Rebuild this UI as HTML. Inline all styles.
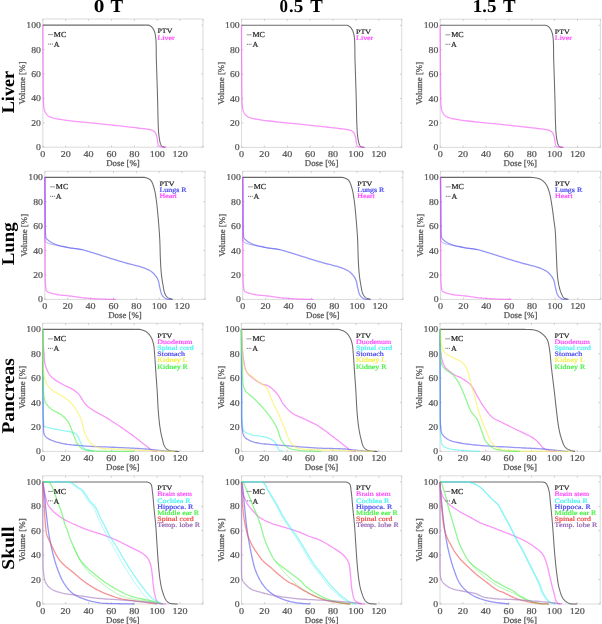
<!DOCTYPE html><html><head><meta charset="utf-8"><style>html,body{margin:0;padding:0;background:#fff;overflow:hidden}svg{display:block;will-change:transform;text-rendering:geometricPrecision}</style></head><body>
<svg width="602" height="624" viewBox="0 0 602 624">
<rect width="602" height="624" fill="#fff"/>
<g font-family='"Liberation Serif", serif'><text transform="translate(99.00 11.80) scale(1.169 1.000)" text-anchor="middle" font-size="18.30" fill="#000" font-weight="bold">0</text><text transform="translate(116.85 11.80) scale(1.033 1.000)" text-anchor="middle" font-size="18.30" fill="#000" font-weight="bold">T</text><text transform="translate(283.70 11.80) scale(0.930 1.000)" text-anchor="middle" font-size="18.30" fill="#000" font-weight="bold">0</text><text transform="translate(291.35 11.80)" text-anchor="middle" font-size="18.30" fill="#000" font-weight="bold">.</text><text transform="translate(298.65 11.80) scale(1.049 1.000)" text-anchor="middle" font-size="18.30" fill="#000" font-weight="bold">5</text><text transform="translate(316.50 11.80) scale(1.025 1.000)" text-anchor="middle" font-size="18.30" fill="#000" font-weight="bold">T</text><text transform="translate(477.45 11.80) scale(1.087 1.000)" text-anchor="middle" font-size="18.30" fill="#000" font-weight="bold">1</text><text transform="translate(484.55 11.80)" text-anchor="middle" font-size="18.30" fill="#000" font-weight="bold">.</text><text transform="translate(491.80 11.80) scale(1.036 1.000)" text-anchor="middle" font-size="18.30" fill="#000" font-weight="bold">5</text><text transform="translate(509.25 11.80) scale(1.033 1.000)" text-anchor="middle" font-size="18.30" fill="#000" font-weight="bold">T</text><text transform="translate(13.60 92.05) rotate(-90) scale(1.012 1.000)" text-anchor="middle" font-size="18.00" fill="#000" font-weight="bold">Liver</text><text transform="translate(13.60 243.85) rotate(-90) scale(1.046 1.000)" text-anchor="middle" font-size="18.00" fill="#000" font-weight="bold">Lung</text><text transform="translate(13.60 395.85) rotate(-90) scale(1.082 1.000)" text-anchor="middle" font-size="18.00" fill="#000" font-weight="bold">Pancreas</text><text transform="translate(13.60 548.00) rotate(-90) scale(1.085 1.000)" text-anchor="middle" font-size="18.00" fill="#000" font-weight="bold">Skull</text></g>
<rect x="42.85" y="19.00" width="160.20" height="128.20" fill="none" stroke="#dedede" stroke-width="1.1"/>
<path d="M42.85 147.20 V145.40 M42.85 19.00 V20.80 M65.74 147.20 V145.40 M65.74 19.00 V20.80 M88.62 147.20 V145.40 M88.62 19.00 V20.80 M111.51 147.20 V145.40 M111.51 19.00 V20.80 M134.39 147.20 V145.40 M134.39 19.00 V20.80 M157.28 147.20 V145.40 M157.28 19.00 V20.80 M180.16 147.20 V145.40 M180.16 19.00 V20.80 M203.05 147.20 V145.40 M203.05 19.00 V20.80 M42.85 147.20 H44.65 M203.05 147.20 H201.25 M42.85 122.78 H44.65 M203.05 122.78 H201.25 M42.85 98.36 H44.65 M203.05 98.36 H201.25 M42.85 73.94 H44.65 M203.05 73.94 H201.25 M42.85 49.52 H44.65 M203.05 49.52 H201.25 M42.85 25.10 H44.65 M203.05 25.10 H201.25" stroke="#c8c8c8" stroke-width="0.9" fill="none"/>
<path d="M42.85 25.10 L53.48 25.10 L64.97 25.10 L76.96 25.10 L89.07 25.10 L100.94 25.10 L112.19 25.10 L122.44 25.10 L131.34 25.10 L138.49 25.10 L143.55 25.10 L144.41 25.11 L145.17 25.10 L145.84 25.10 L146.44 25.10 L146.97 25.10 L147.46 25.10 L147.92 25.10 L148.36 25.10 L148.81 25.20 L149.27 25.35 L149.68 25.52 L150.07 25.72 L150.45 25.94 L150.81 26.19 L151.15 26.47 L151.49 26.76 L151.81 27.08 L152.12 27.42 L152.41 27.78 L152.70 28.16 L153.05 28.66 L153.38 29.20 L153.68 29.76 L153.96 30.36 L154.23 31.00 L154.48 31.67 L154.71 32.40 L154.93 33.17 L155.14 33.99 L155.33 34.87 L155.65 36.79 L155.88 39.05 L156.03 41.58 L156.14 44.30 L156.20 47.15 L156.23 50.03 L156.25 52.89 L156.27 55.64 L156.30 58.20 L156.36 60.51 L156.42 62.01 L156.47 63.40 L156.52 64.72 L156.56 65.98 L156.60 67.22 L156.64 68.46 L156.68 69.72 L156.73 71.04 L156.77 72.44 L156.82 73.94 L156.89 76.21 L156.97 78.64 L157.05 81.18 L157.14 83.83 L157.22 86.54 L157.31 89.29 L157.39 92.05 L157.47 94.78 L157.55 97.47 L157.62 100.07 L157.68 102.54 L157.74 105.06 L157.79 107.59 L157.83 110.11 L157.88 112.62 L157.93 115.07 L157.98 117.46 L158.04 119.76 L158.11 121.95 L158.19 124.00 L158.25 125.37 L158.31 126.69 L158.36 127.95 L158.41 129.17 L158.47 130.35 L158.54 131.51 L158.62 132.64 L158.72 133.76 L158.85 134.86 L159.00 135.97 L159.14 136.96 L159.29 137.98 L159.44 139.00 L159.61 140.02 L159.79 141.02 L159.99 141.97 L160.21 142.86 L160.46 143.67 L160.74 144.39 L161.05 145.00 L161.25 145.30 L161.46 145.57 L161.68 145.82 L161.91 146.04 L162.14 146.24 L162.38 146.42 L162.62 146.58 L162.86 146.72 L163.11 146.84 L163.34 146.96 L163.53 147.03 L163.73 147.08 L163.92 147.12 L164.12 147.14 L164.31 147.15 L164.51 147.16 L164.70 147.16 L164.90 147.17 L165.09 147.18 L165.29 147.20" fill="none" stroke="#383838" stroke-width="1.05" stroke-linejoin="round" stroke-opacity="0.75"/>
<path d="M42.85 25.10 L42.87 30.06 L42.89 35.14 L42.91 40.28 L42.93 45.44 L42.95 50.57 L42.97 55.61 L43.00 60.52 L43.02 65.25 L43.05 69.74 L43.08 73.94 L43.10 76.77 L43.12 79.54 L43.13 82.23 L43.14 84.84 L43.16 87.36 L43.18 89.79 L43.21 92.11 L43.25 94.32 L43.30 96.40 L43.36 98.36 L43.41 99.54 L43.44 100.66 L43.48 101.75 L43.51 102.78 L43.55 103.78 L43.61 104.73 L43.67 105.64 L43.76 106.51 L43.86 107.34 L43.99 108.13 L44.09 108.64 L44.20 109.12 L44.31 109.58 L44.42 110.02 L44.55 110.44 L44.68 110.85 L44.83 111.25 L44.99 111.64 L45.17 112.02 L45.37 112.40 L45.57 112.77 L45.79 113.14 L46.02 113.50 L46.27 113.85 L46.53 114.19 L46.80 114.52 L47.08 114.84 L47.37 115.14 L47.68 115.43 L48.00 115.70 L48.34 115.96 L48.68 116.19 L49.03 116.41 L49.39 116.61 L49.77 116.80 L50.17 116.97 L50.59 117.15 L51.03 117.31 L51.50 117.48 L52.00 117.65 L52.86 117.92 L53.76 118.16 L54.71 118.39 L55.73 118.61 L56.80 118.81 L57.95 119.01 L59.17 119.21 L60.47 119.42 L61.86 119.63 L63.33 119.85 L66.75 120.32 L70.78 120.82 L75.29 121.32 L80.16 121.84 L85.26 122.36 L90.48 122.88 L95.67 123.39 L100.73 123.90 L105.51 124.39 L109.91 124.86 L113.27 125.23 L116.65 125.60 L120.00 125.97 L123.30 126.34 L126.51 126.70 L129.61 127.05 L132.55 127.38 L135.30 127.70 L137.83 128.00 L140.11 128.28 L141.26 128.41 L142.35 128.54 L143.38 128.65 L144.36 128.76 L145.28 128.87 L146.16 128.97 L146.99 129.09 L147.79 129.21 L148.54 129.34 L149.27 129.50 L149.72 129.60 L150.16 129.70 L150.57 129.80 L150.96 129.90 L151.34 130.00 L151.71 130.11 L152.06 130.24 L152.39 130.38 L152.72 130.54 L153.04 130.72 L153.33 130.90 L153.61 131.09 L153.87 131.29 L154.13 131.50 L154.37 131.72 L154.61 131.96 L154.83 132.20 L155.05 132.47 L155.25 132.74 L155.45 133.04 L155.67 133.42 L155.87 133.83 L156.06 134.27 L156.23 134.73 L156.39 135.20 L156.54 135.69 L156.67 136.19 L156.80 136.69 L156.93 137.19 L157.05 137.68 L157.16 138.20 L157.26 138.75 L157.33 139.31 L157.40 139.87 L157.46 140.44 L157.52 141.00 L157.58 141.55 L157.65 142.08 L157.74 142.58 L157.85 143.05 L157.94 143.39 L158.02 143.73 L158.10 144.07 L158.19 144.39 L158.28 144.71 L158.38 145.00 L158.50 145.28 L158.64 145.54 L158.80 145.77 L159.00 145.98 L159.21 146.15 L159.45 146.28 L159.70 146.40 L159.98 146.49 L160.27 146.56 L160.58 146.62 L160.89 146.68 L161.21 146.73 L161.53 146.78 L161.86 146.83 L162.27 146.90 L162.70 146.96 L163.15 147.00 L163.60 147.04 L164.07 147.06 L164.55 147.09 L165.02 147.11 L165.50 147.14 L165.97 147.17 L166.43 147.20" fill="none" stroke="#f555f5" stroke-width="1.30" stroke-linejoin="round" stroke-opacity="0.62"/>
<g font-family='"Liberation Serif", serif'><text transform="translate(157.45 33.30) scale(0.1100 0.0930)" font-size="72.00" fill="#202020" stroke="#202020" stroke-width="1.80">PTV</text><text transform="translate(157.45 39.50) scale(0.1100 0.0930)" font-size="72.00" fill="#ff40ff" stroke="#ff40ff" stroke-width="1.80">Liver</text></g>
<g font-family='"Liberation Serif", serif'><text transform="translate(42.85 156.90) scale(1.120 1.000)" text-anchor="middle" font-size="9.00" fill="#525252" stroke="#525252" stroke-width="0.20">0</text><text transform="translate(65.74 156.90) scale(1.120 1.000)" text-anchor="middle" font-size="9.00" fill="#525252" stroke="#525252" stroke-width="0.20">20</text><text transform="translate(88.62 156.90) scale(1.120 1.000)" text-anchor="middle" font-size="9.00" fill="#525252" stroke="#525252" stroke-width="0.20">40</text><text transform="translate(111.51 156.90) scale(1.120 1.000)" text-anchor="middle" font-size="9.00" fill="#525252" stroke="#525252" stroke-width="0.20">60</text><text transform="translate(134.39 156.90) scale(1.120 1.000)" text-anchor="middle" font-size="9.00" fill="#525252" stroke="#525252" stroke-width="0.20">80</text><text transform="translate(157.28 156.90) scale(1.120 1.000)" text-anchor="middle" font-size="9.00" fill="#525252" stroke="#525252" stroke-width="0.20">100</text><text transform="translate(180.16 156.90) scale(1.120 1.000)" text-anchor="middle" font-size="9.00" fill="#525252" stroke="#525252" stroke-width="0.20">120</text><text transform="translate(40.95 150.20) scale(1.080 1.000)" text-anchor="end" font-size="9.00" fill="#525252" stroke="#525252" stroke-width="0.20">0</text><text transform="translate(40.95 125.78) scale(1.080 1.000)" text-anchor="end" font-size="9.00" fill="#525252" stroke="#525252" stroke-width="0.20">20</text><text transform="translate(40.95 101.36) scale(1.080 1.000)" text-anchor="end" font-size="9.00" fill="#525252" stroke="#525252" stroke-width="0.20">40</text><text transform="translate(40.95 76.94) scale(1.080 1.000)" text-anchor="end" font-size="9.00" fill="#525252" stroke="#525252" stroke-width="0.20">60</text><text transform="translate(40.95 52.52) scale(1.080 1.000)" text-anchor="end" font-size="9.00" fill="#525252" stroke="#525252" stroke-width="0.20">80</text><text transform="translate(40.95 28.10) scale(1.080 1.000)" text-anchor="end" font-size="9.00" fill="#525252" stroke="#525252" stroke-width="0.20">100</text><text transform="translate(122.95 165.70)" text-anchor="middle" font-size="8.80" fill="#525252" stroke="#525252" stroke-width="0.25">Dose [%]</text><text transform="translate(25.05 83.10) rotate(-90) scale(1.035 1.000)" text-anchor="middle" font-size="8.60" fill="#525252" stroke="#525252" stroke-width="0.25">Volume [%]</text><path d="M48.05 34.60 H53.05" stroke="#505050" stroke-width="0.6"/><rect x="48.25" y="43.60" width="1" height="1" fill="#606060"/><rect x="50.05" y="43.60" width="1" height="1" fill="#606060"/><rect x="51.85" y="43.60" width="1" height="1" fill="#606060"/><text transform="translate(53.85 37.00) scale(1.050 1.000)" font-size="7.60" fill="#262626" stroke="#262626" stroke-width="0.22">MC</text><text transform="translate(53.75 46.90) scale(1.050 1.000)" font-size="7.60" fill="#262626" stroke="#262626" stroke-width="0.22">A</text></g>
<rect x="241.50" y="19.20" width="160.20" height="128.20" fill="none" stroke="#dedede" stroke-width="1.1"/>
<path d="M241.50 147.40 V145.60 M241.50 19.20 V21.00 M264.39 147.40 V145.60 M264.39 19.20 V21.00 M287.27 147.40 V145.60 M287.27 19.20 V21.00 M310.16 147.40 V145.60 M310.16 19.20 V21.00 M333.04 147.40 V145.60 M333.04 19.20 V21.00 M355.93 147.40 V145.60 M355.93 19.20 V21.00 M378.81 147.40 V145.60 M378.81 19.20 V21.00 M401.70 147.40 V145.60 M401.70 19.20 V21.00 M241.50 147.40 H243.30 M401.70 147.40 H399.90 M241.50 122.98 H243.30 M401.70 122.98 H399.90 M241.50 98.56 H243.30 M401.70 98.56 H399.90 M241.50 74.14 H243.30 M401.70 74.14 H399.90 M241.50 49.72 H243.30 M401.70 49.72 H399.90 M241.50 25.30 H243.30 M401.70 25.30 H399.90" stroke="#c8c8c8" stroke-width="0.9" fill="none"/>
<path d="M241.50 25.30 L252.13 25.30 L263.62 25.30 L275.61 25.30 L287.72 25.30 L299.59 25.30 L310.84 25.30 L321.09 25.30 L329.99 25.30 L337.14 25.30 L342.20 25.30 L343.06 25.31 L343.82 25.30 L344.49 25.30 L345.09 25.30 L345.62 25.30 L346.11 25.30 L346.57 25.30 L347.01 25.30 L347.46 25.40 L347.92 25.55 L348.33 25.72 L348.72 25.92 L349.10 26.14 L349.46 26.39 L349.80 26.67 L350.14 26.96 L350.46 27.28 L350.77 27.62 L351.06 27.98 L351.35 28.36 L351.70 28.86 L352.03 29.40 L352.33 29.96 L352.61 30.56 L352.88 31.20 L353.13 31.87 L353.36 32.60 L353.58 33.37 L353.79 34.19 L353.98 35.07 L354.30 36.99 L354.53 39.25 L354.68 41.78 L354.79 44.50 L354.85 47.35 L354.88 50.23 L354.90 53.09 L354.92 55.84 L354.95 58.40 L355.01 60.71 L355.07 62.21 L355.12 63.60 L355.17 64.92 L355.21 66.18 L355.25 67.42 L355.29 68.66 L355.33 69.92 L355.38 71.24 L355.42 72.64 L355.47 74.14 L355.54 76.41 L355.62 78.84 L355.70 81.38 L355.79 84.03 L355.87 86.74 L355.96 89.49 L356.04 92.25 L356.12 94.98 L356.20 97.67 L356.27 100.27 L356.33 102.74 L356.39 105.26 L356.44 107.79 L356.48 110.31 L356.53 112.82 L356.58 115.27 L356.63 117.66 L356.69 119.96 L356.76 122.15 L356.84 124.20 L356.90 125.57 L356.96 126.89 L357.01 128.15 L357.06 129.37 L357.12 130.55 L357.19 131.71 L357.27 132.84 L357.37 133.96 L357.50 135.06 L357.64 136.17 L357.79 137.16 L357.94 138.18 L358.09 139.20 L358.26 140.22 L358.44 141.22 L358.64 142.17 L358.86 143.06 L359.11 143.87 L359.39 144.59 L359.70 145.20 L359.90 145.50 L360.11 145.77 L360.33 146.02 L360.56 146.24 L360.79 146.44 L361.03 146.62 L361.27 146.78 L361.51 146.92 L361.76 147.04 L361.99 147.16 L362.18 147.23 L362.38 147.28 L362.57 147.32 L362.77 147.34 L362.96 147.35 L363.16 147.36 L363.35 147.36 L363.55 147.37 L363.74 147.38 L363.94 147.40" fill="none" stroke="#383838" stroke-width="1.05" stroke-linejoin="round" stroke-opacity="0.75"/>
<path d="M241.50 25.30 L241.52 30.26 L241.54 35.34 L241.56 40.48 L241.58 45.64 L241.60 50.77 L241.62 55.81 L241.65 60.72 L241.67 65.45 L241.70 69.94 L241.73 74.14 L241.75 76.97 L241.77 79.74 L241.78 82.43 L241.79 85.04 L241.81 87.56 L241.83 89.99 L241.86 92.31 L241.90 94.52 L241.95 96.60 L242.01 98.56 L242.06 99.74 L242.09 100.86 L242.13 101.95 L242.16 102.98 L242.20 103.98 L242.26 104.93 L242.32 105.84 L242.41 106.71 L242.51 107.54 L242.64 108.33 L242.74 108.84 L242.85 109.32 L242.96 109.78 L243.07 110.22 L243.20 110.64 L243.33 111.05 L243.48 111.45 L243.64 111.84 L243.82 112.22 L244.02 112.60 L244.22 112.97 L244.44 113.34 L244.67 113.70 L244.92 114.05 L245.18 114.39 L245.45 114.72 L245.73 115.04 L246.02 115.34 L246.33 115.63 L246.65 115.90 L246.99 116.16 L247.33 116.39 L247.68 116.61 L248.04 116.81 L248.42 117.00 L248.82 117.17 L249.24 117.35 L249.68 117.51 L250.15 117.68 L250.65 117.85 L251.51 118.12 L252.41 118.36 L253.36 118.59 L254.38 118.81 L255.45 119.01 L256.60 119.21 L257.82 119.41 L259.12 119.62 L260.51 119.83 L261.98 120.05 L265.40 120.52 L269.43 121.02 L273.94 121.52 L278.81 122.04 L283.91 122.56 L289.13 123.08 L294.32 123.59 L299.38 124.10 L304.16 124.59 L308.56 125.06 L311.92 125.43 L315.30 125.80 L318.65 126.17 L321.95 126.54 L325.16 126.90 L328.26 127.25 L331.20 127.58 L333.95 127.90 L336.48 128.20 L338.76 128.48 L339.91 128.61 L341.00 128.74 L342.03 128.85 L343.01 128.96 L343.93 129.07 L344.81 129.17 L345.64 129.29 L346.44 129.41 L347.19 129.54 L347.92 129.70 L348.37 129.80 L348.81 129.90 L349.22 130.00 L349.61 130.10 L349.99 130.20 L350.36 130.31 L350.71 130.44 L351.04 130.58 L351.37 130.74 L351.69 130.92 L351.98 131.10 L352.26 131.29 L352.52 131.49 L352.78 131.70 L353.02 131.92 L353.26 132.16 L353.48 132.40 L353.70 132.67 L353.90 132.94 L354.10 133.24 L354.32 133.62 L354.52 134.03 L354.71 134.47 L354.88 134.93 L355.04 135.40 L355.19 135.89 L355.32 136.39 L355.45 136.89 L355.58 137.39 L355.70 137.88 L355.81 138.40 L355.91 138.95 L355.98 139.51 L356.05 140.07 L356.11 140.64 L356.17 141.20 L356.23 141.75 L356.30 142.28 L356.39 142.78 L356.50 143.25 L356.59 143.59 L356.67 143.93 L356.75 144.27 L356.84 144.59 L356.93 144.91 L357.03 145.20 L357.15 145.48 L357.29 145.74 L357.45 145.97 L357.64 146.18 L357.86 146.35 L358.10 146.48 L358.35 146.60 L358.63 146.69 L358.92 146.76 L359.23 146.82 L359.54 146.88 L359.86 146.93 L360.18 146.98 L360.51 147.03 L360.92 147.10 L361.35 147.16 L361.80 147.20 L362.25 147.24 L362.72 147.26 L363.20 147.29 L363.67 147.31 L364.15 147.34 L364.62 147.37 L365.08 147.40" fill="none" stroke="#f555f5" stroke-width="1.30" stroke-linejoin="round" stroke-opacity="0.62"/>
<g font-family='"Liberation Serif", serif'><text transform="translate(356.10 33.50) scale(0.1100 0.0930)" font-size="72.00" fill="#202020" stroke="#202020" stroke-width="1.80">PTV</text><text transform="translate(356.10 39.70) scale(0.1100 0.0930)" font-size="72.00" fill="#ff40ff" stroke="#ff40ff" stroke-width="1.80">Liver</text></g>
<g font-family='"Liberation Serif", serif'><text transform="translate(241.50 157.10) scale(1.120 1.000)" text-anchor="middle" font-size="9.00" fill="#525252" stroke="#525252" stroke-width="0.20">0</text><text transform="translate(264.39 157.10) scale(1.120 1.000)" text-anchor="middle" font-size="9.00" fill="#525252" stroke="#525252" stroke-width="0.20">20</text><text transform="translate(287.27 157.10) scale(1.120 1.000)" text-anchor="middle" font-size="9.00" fill="#525252" stroke="#525252" stroke-width="0.20">40</text><text transform="translate(310.16 157.10) scale(1.120 1.000)" text-anchor="middle" font-size="9.00" fill="#525252" stroke="#525252" stroke-width="0.20">60</text><text transform="translate(333.04 157.10) scale(1.120 1.000)" text-anchor="middle" font-size="9.00" fill="#525252" stroke="#525252" stroke-width="0.20">80</text><text transform="translate(355.93 157.10) scale(1.120 1.000)" text-anchor="middle" font-size="9.00" fill="#525252" stroke="#525252" stroke-width="0.20">100</text><text transform="translate(378.81 157.10) scale(1.120 1.000)" text-anchor="middle" font-size="9.00" fill="#525252" stroke="#525252" stroke-width="0.20">120</text><text transform="translate(239.60 150.40) scale(1.080 1.000)" text-anchor="end" font-size="9.00" fill="#525252" stroke="#525252" stroke-width="0.20">0</text><text transform="translate(239.60 125.98) scale(1.080 1.000)" text-anchor="end" font-size="9.00" fill="#525252" stroke="#525252" stroke-width="0.20">20</text><text transform="translate(239.60 101.56) scale(1.080 1.000)" text-anchor="end" font-size="9.00" fill="#525252" stroke="#525252" stroke-width="0.20">40</text><text transform="translate(239.60 77.14) scale(1.080 1.000)" text-anchor="end" font-size="9.00" fill="#525252" stroke="#525252" stroke-width="0.20">60</text><text transform="translate(239.60 52.72) scale(1.080 1.000)" text-anchor="end" font-size="9.00" fill="#525252" stroke="#525252" stroke-width="0.20">80</text><text transform="translate(239.60 28.30) scale(1.080 1.000)" text-anchor="end" font-size="9.00" fill="#525252" stroke="#525252" stroke-width="0.20">100</text><text transform="translate(321.60 165.90)" text-anchor="middle" font-size="8.80" fill="#525252" stroke="#525252" stroke-width="0.25">Dose [%]</text><text transform="translate(223.70 83.30) rotate(-90) scale(1.035 1.000)" text-anchor="middle" font-size="8.60" fill="#525252" stroke="#525252" stroke-width="0.25">Volume [%]</text><path d="M246.70 34.80 H251.70" stroke="#505050" stroke-width="0.6"/><rect x="246.90" y="43.80" width="1" height="1" fill="#606060"/><rect x="248.70" y="43.80" width="1" height="1" fill="#606060"/><rect x="250.50" y="43.80" width="1" height="1" fill="#606060"/><text transform="translate(252.50 37.20) scale(1.050 1.000)" font-size="7.60" fill="#262626" stroke="#262626" stroke-width="0.22">MC</text><text transform="translate(252.40 47.10) scale(1.050 1.000)" font-size="7.60" fill="#262626" stroke="#262626" stroke-width="0.22">A</text></g>
<rect x="440.20" y="19.20" width="160.20" height="128.20" fill="none" stroke="#dedede" stroke-width="1.1"/>
<path d="M440.20 147.40 V145.60 M440.20 19.20 V21.00 M463.09 147.40 V145.60 M463.09 19.20 V21.00 M485.97 147.40 V145.60 M485.97 19.20 V21.00 M508.86 147.40 V145.60 M508.86 19.20 V21.00 M531.74 147.40 V145.60 M531.74 19.20 V21.00 M554.63 147.40 V145.60 M554.63 19.20 V21.00 M577.51 147.40 V145.60 M577.51 19.20 V21.00 M600.40 147.40 V145.60 M600.40 19.20 V21.00 M440.20 147.40 H442.00 M600.40 147.40 H598.60 M440.20 122.98 H442.00 M600.40 122.98 H598.60 M440.20 98.56 H442.00 M600.40 98.56 H598.60 M440.20 74.14 H442.00 M600.40 74.14 H598.60 M440.20 49.72 H442.00 M600.40 49.72 H598.60 M440.20 25.30 H442.00 M600.40 25.30 H598.60" stroke="#c8c8c8" stroke-width="0.9" fill="none"/>
<path d="M440.20 25.30 L450.83 25.30 L462.32 25.30 L474.31 25.30 L486.42 25.30 L498.29 25.30 L509.54 25.30 L519.79 25.30 L528.69 25.30 L535.84 25.30 L540.90 25.30 L541.76 25.31 L542.52 25.30 L543.19 25.30 L543.79 25.30 L544.32 25.30 L544.81 25.30 L545.27 25.30 L545.71 25.30 L546.16 25.40 L546.62 25.55 L547.03 25.72 L547.42 25.92 L547.80 26.14 L548.16 26.39 L548.50 26.67 L548.84 26.96 L549.16 27.28 L549.47 27.62 L549.76 27.98 L550.05 28.36 L550.40 28.86 L550.73 29.40 L551.03 29.96 L551.31 30.56 L551.58 31.20 L551.83 31.87 L552.06 32.60 L552.28 33.37 L552.49 34.19 L552.68 35.07 L553.00 36.99 L553.23 39.25 L553.38 41.78 L553.49 44.50 L553.55 47.35 L553.58 50.23 L553.60 53.09 L553.62 55.84 L553.65 58.40 L553.71 60.71 L553.77 62.21 L553.82 63.60 L553.87 64.92 L553.91 66.18 L553.95 67.42 L553.99 68.66 L554.03 69.92 L554.08 71.24 L554.12 72.64 L554.17 74.14 L554.24 76.41 L554.32 78.84 L554.40 81.38 L554.49 84.03 L554.57 86.74 L554.66 89.49 L554.74 92.25 L554.82 94.98 L554.90 97.67 L554.97 100.27 L555.03 102.74 L555.09 105.26 L555.14 107.79 L555.18 110.31 L555.23 112.82 L555.28 115.27 L555.33 117.66 L555.39 119.96 L555.46 122.15 L555.54 124.20 L555.60 125.57 L555.66 126.89 L555.71 128.15 L555.76 129.37 L555.82 130.55 L555.89 131.71 L555.97 132.84 L556.07 133.96 L556.20 135.06 L556.35 136.17 L556.49 137.16 L556.64 138.18 L556.79 139.20 L556.96 140.22 L557.14 141.22 L557.34 142.17 L557.56 143.06 L557.81 143.87 L558.09 144.59 L558.40 145.20 L558.60 145.50 L558.81 145.77 L559.03 146.02 L559.26 146.24 L559.49 146.44 L559.73 146.62 L559.97 146.78 L560.21 146.92 L560.46 147.04 L560.69 147.16 L560.88 147.23 L561.08 147.28 L561.27 147.32 L561.47 147.34 L561.66 147.35 L561.86 147.36 L562.05 147.36 L562.25 147.37 L562.44 147.38 L562.64 147.40" fill="none" stroke="#383838" stroke-width="1.05" stroke-linejoin="round" stroke-opacity="0.75"/>
<path d="M440.20 25.30 L440.22 30.26 L440.24 35.34 L440.26 40.48 L440.28 45.64 L440.30 50.77 L440.32 55.81 L440.35 60.72 L440.37 65.45 L440.40 69.94 L440.43 74.14 L440.45 76.97 L440.47 79.74 L440.48 82.43 L440.49 85.04 L440.51 87.56 L440.53 89.99 L440.56 92.31 L440.60 94.52 L440.65 96.60 L440.71 98.56 L440.76 99.74 L440.79 100.86 L440.83 101.95 L440.86 102.98 L440.90 103.98 L440.96 104.93 L441.02 105.84 L441.11 106.71 L441.21 107.54 L441.34 108.33 L441.44 108.84 L441.55 109.32 L441.66 109.78 L441.77 110.22 L441.90 110.64 L442.03 111.05 L442.18 111.45 L442.34 111.84 L442.52 112.22 L442.72 112.60 L442.92 112.97 L443.14 113.34 L443.37 113.70 L443.62 114.05 L443.88 114.39 L444.15 114.72 L444.43 115.04 L444.72 115.34 L445.03 115.63 L445.35 115.90 L445.69 116.16 L446.03 116.39 L446.38 116.61 L446.74 116.81 L447.12 117.00 L447.52 117.17 L447.94 117.35 L448.38 117.51 L448.85 117.68 L449.35 117.85 L450.21 118.12 L451.11 118.36 L452.06 118.59 L453.08 118.81 L454.15 119.01 L455.30 119.21 L456.52 119.41 L457.82 119.62 L459.21 119.83 L460.68 120.05 L464.10 120.52 L468.13 121.02 L472.64 121.52 L477.51 122.04 L482.61 122.56 L487.83 123.08 L493.02 123.59 L498.08 124.10 L502.86 124.59 L507.26 125.06 L510.62 125.43 L514.00 125.80 L517.35 126.17 L520.65 126.54 L523.86 126.90 L526.96 127.25 L529.90 127.58 L532.65 127.90 L535.18 128.20 L537.46 128.48 L538.61 128.61 L539.70 128.74 L540.73 128.85 L541.71 128.96 L542.63 129.07 L543.51 129.17 L544.34 129.29 L545.14 129.41 L545.89 129.54 L546.62 129.70 L547.07 129.80 L547.51 129.90 L547.92 130.00 L548.31 130.10 L548.69 130.20 L549.06 130.31 L549.41 130.44 L549.74 130.58 L550.07 130.74 L550.39 130.92 L550.68 131.10 L550.96 131.29 L551.22 131.49 L551.48 131.70 L551.72 131.92 L551.96 132.16 L552.18 132.40 L552.40 132.67 L552.60 132.94 L552.80 133.24 L553.02 133.62 L553.22 134.03 L553.41 134.47 L553.58 134.93 L553.74 135.40 L553.89 135.89 L554.02 136.39 L554.15 136.89 L554.28 137.39 L554.40 137.88 L554.51 138.40 L554.61 138.95 L554.68 139.51 L554.75 140.07 L554.81 140.64 L554.87 141.20 L554.93 141.75 L555.00 142.28 L555.09 142.78 L555.20 143.25 L555.29 143.59 L555.37 143.93 L555.45 144.27 L555.54 144.59 L555.63 144.91 L555.73 145.20 L555.85 145.48 L555.99 145.74 L556.15 145.97 L556.35 146.18 L556.56 146.35 L556.80 146.48 L557.05 146.60 L557.33 146.69 L557.62 146.76 L557.93 146.82 L558.24 146.88 L558.56 146.93 L558.88 146.98 L559.21 147.03 L559.62 147.10 L560.05 147.16 L560.50 147.20 L560.95 147.24 L561.42 147.26 L561.90 147.29 L562.37 147.31 L562.85 147.34 L563.32 147.37 L563.78 147.40" fill="none" stroke="#f555f5" stroke-width="1.30" stroke-linejoin="round" stroke-opacity="0.62"/>
<g font-family='"Liberation Serif", serif'><text transform="translate(554.80 33.50) scale(0.1100 0.0930)" font-size="72.00" fill="#202020" stroke="#202020" stroke-width="1.80">PTV</text><text transform="translate(554.80 39.70) scale(0.1100 0.0930)" font-size="72.00" fill="#ff40ff" stroke="#ff40ff" stroke-width="1.80">Liver</text></g>
<g font-family='"Liberation Serif", serif'><text transform="translate(440.20 157.10) scale(1.120 1.000)" text-anchor="middle" font-size="9.00" fill="#525252" stroke="#525252" stroke-width="0.20">0</text><text transform="translate(463.09 157.10) scale(1.120 1.000)" text-anchor="middle" font-size="9.00" fill="#525252" stroke="#525252" stroke-width="0.20">20</text><text transform="translate(485.97 157.10) scale(1.120 1.000)" text-anchor="middle" font-size="9.00" fill="#525252" stroke="#525252" stroke-width="0.20">40</text><text transform="translate(508.86 157.10) scale(1.120 1.000)" text-anchor="middle" font-size="9.00" fill="#525252" stroke="#525252" stroke-width="0.20">60</text><text transform="translate(531.74 157.10) scale(1.120 1.000)" text-anchor="middle" font-size="9.00" fill="#525252" stroke="#525252" stroke-width="0.20">80</text><text transform="translate(554.63 157.10) scale(1.120 1.000)" text-anchor="middle" font-size="9.00" fill="#525252" stroke="#525252" stroke-width="0.20">100</text><text transform="translate(577.51 157.10) scale(1.120 1.000)" text-anchor="middle" font-size="9.00" fill="#525252" stroke="#525252" stroke-width="0.20">120</text><text transform="translate(438.30 150.40) scale(1.080 1.000)" text-anchor="end" font-size="9.00" fill="#525252" stroke="#525252" stroke-width="0.20">0</text><text transform="translate(438.30 125.98) scale(1.080 1.000)" text-anchor="end" font-size="9.00" fill="#525252" stroke="#525252" stroke-width="0.20">20</text><text transform="translate(438.30 101.56) scale(1.080 1.000)" text-anchor="end" font-size="9.00" fill="#525252" stroke="#525252" stroke-width="0.20">40</text><text transform="translate(438.30 77.14) scale(1.080 1.000)" text-anchor="end" font-size="9.00" fill="#525252" stroke="#525252" stroke-width="0.20">60</text><text transform="translate(438.30 52.72) scale(1.080 1.000)" text-anchor="end" font-size="9.00" fill="#525252" stroke="#525252" stroke-width="0.20">80</text><text transform="translate(438.30 28.30) scale(1.080 1.000)" text-anchor="end" font-size="9.00" fill="#525252" stroke="#525252" stroke-width="0.20">100</text><text transform="translate(520.30 165.90)" text-anchor="middle" font-size="8.80" fill="#525252" stroke="#525252" stroke-width="0.25">Dose [%]</text><text transform="translate(422.40 83.30) rotate(-90) scale(1.035 1.000)" text-anchor="middle" font-size="8.60" fill="#525252" stroke="#525252" stroke-width="0.25">Volume [%]</text><path d="M445.40 34.80 H450.40" stroke="#505050" stroke-width="0.6"/><rect x="445.60" y="43.80" width="1" height="1" fill="#606060"/><rect x="447.40" y="43.80" width="1" height="1" fill="#606060"/><rect x="449.20" y="43.80" width="1" height="1" fill="#606060"/><text transform="translate(451.20 37.20) scale(1.050 1.000)" font-size="7.60" fill="#262626" stroke="#262626" stroke-width="0.22">MC</text><text transform="translate(451.10 47.10) scale(1.050 1.000)" font-size="7.60" fill="#262626" stroke="#262626" stroke-width="0.22">A</text></g>
<rect x="44.85" y="171.25" width="160.20" height="128.20" fill="none" stroke="#dedede" stroke-width="1.1"/>
<path d="M44.85 299.45 V297.65 M44.85 171.25 V173.05 M67.74 299.45 V297.65 M67.74 171.25 V173.05 M90.62 299.45 V297.65 M90.62 171.25 V173.05 M113.51 299.45 V297.65 M113.51 171.25 V173.05 M136.39 299.45 V297.65 M136.39 171.25 V173.05 M159.28 299.45 V297.65 M159.28 171.25 V173.05 M182.16 299.45 V297.65 M182.16 171.25 V173.05 M205.05 299.45 V297.65 M205.05 171.25 V173.05 M44.85 299.45 H46.65 M205.05 299.45 H203.25 M44.85 275.03 H46.65 M205.05 275.03 H203.25 M44.85 250.61 H46.65 M205.05 250.61 H203.25 M44.85 226.19 H46.65 M205.05 226.19 H203.25 M44.85 201.77 H46.65 M205.05 201.77 H203.25 M44.85 177.35 H46.65 M205.05 177.35 H203.25" stroke="#c8c8c8" stroke-width="0.9" fill="none"/>
<path d="M44.85 177.35 L54.44 177.35 L64.71 177.35 L75.38 177.35 L86.14 177.35 L96.70 177.35 L106.78 177.35 L116.08 177.35 L124.31 177.35 L131.18 177.35 L136.39 177.35 L137.63 177.35 L138.73 177.35 L139.71 177.35 L140.59 177.35 L141.39 177.35 L142.13 177.35 L142.85 177.35 L143.54 177.35 L144.25 177.35 L144.97 177.48 L145.61 177.63 L146.24 177.80 L146.85 177.99 L147.45 178.20 L148.03 178.44 L148.59 178.71 L149.13 179.01 L149.64 179.35 L150.13 179.74 L150.58 180.16 L151.07 180.73 L151.51 181.38 L151.91 182.08 L152.27 182.84 L152.60 183.65 L152.91 184.48 L153.20 185.35 L153.47 186.22 L153.75 187.10 L154.01 187.98 L154.31 189.00 L154.58 190.04 L154.83 191.11 L155.06 192.21 L155.26 193.32 L155.46 194.46 L155.65 195.62 L155.83 196.80 L156.01 198.00 L156.19 199.21 L156.40 200.66 L156.59 202.13 L156.78 203.63 L156.95 205.15 L157.12 206.70 L157.28 208.29 L157.43 209.90 L157.59 211.55 L157.75 213.24 L157.91 214.96 L158.11 217.17 L158.31 219.47 L158.51 221.85 L158.71 224.29 L158.91 226.77 L159.10 229.27 L159.28 231.76 L159.45 234.23 L159.60 236.65 L159.74 239.01 L159.84 241.18 L159.93 243.34 L160.00 245.49 L160.05 247.64 L160.10 249.76 L160.15 251.86 L160.21 253.93 L160.26 255.96 L160.34 257.95 L160.42 259.89 L160.51 261.50 L160.59 263.08 L160.67 264.64 L160.76 266.18 L160.86 267.69 L160.96 269.17 L161.07 270.62 L161.18 272.05 L161.31 273.43 L161.45 274.79 L161.58 275.86 L161.70 276.91 L161.84 277.92 L161.98 278.92 L162.13 279.90 L162.28 280.86 L162.43 281.82 L162.60 282.77 L162.77 283.72 L162.94 284.68 L163.10 285.61 L163.26 286.56 L163.42 287.51 L163.57 288.47 L163.74 289.41 L163.92 290.33 L164.12 291.22 L164.35 292.07 L164.60 292.86 L164.89 293.59 L165.11 294.09 L165.35 294.57 L165.59 295.03 L165.85 295.46 L166.12 295.88 L166.40 296.27 L166.71 296.64 L167.03 296.99 L167.38 297.32 L167.75 297.62 L168.16 297.90 L168.62 298.14 L169.10 298.35 L169.61 298.52 L170.13 298.69 L170.67 298.83 L171.20 298.98 L171.74 299.12 L172.27 299.28 L172.78 299.45" fill="none" stroke="#383838" stroke-width="1.05" stroke-linejoin="round" stroke-opacity="0.75"/>
<path d="M44.85 177.35 L44.90 182.36 L44.94 187.56 L44.99 192.88 L45.04 198.22 L45.08 203.50 L45.13 208.65 L45.17 213.57 L45.22 218.19 L45.26 222.43 L45.31 226.19 L45.29 228.14 L45.22 230.04 L45.12 231.88 L45.01 233.65 L44.91 235.31 L44.86 236.85 L44.87 238.26 L44.97 239.51 L45.18 240.58 L45.54 241.45 L45.76 241.80 L46.01 242.09 L46.27 242.33 L46.56 242.53 L46.87 242.70 L47.19 242.84 L47.53 242.98 L47.88 243.11 L48.25 243.25 L48.63 243.41 L49.17 243.62 L49.74 243.82 L50.34 244.00 L50.97 244.16 L51.62 244.32 L52.30 244.48 L53.01 244.63 L53.74 244.78 L54.49 244.95 L55.26 245.12 L56.41 245.38 L57.64 245.65 L58.93 245.93 L60.28 246.21 L61.66 246.49 L63.07 246.77 L64.49 247.05 L65.90 247.32 L67.29 247.57 L68.65 247.80 L69.98 248.02 L71.31 248.22 L72.63 248.41 L73.96 248.60 L75.29 248.77 L76.61 248.94 L77.94 249.11 L79.27 249.28 L80.60 249.46 L81.92 249.64" fill="none" stroke="#5555f0" stroke-width="1.00" stroke-linejoin="round" stroke-opacity="0.45"/>
<path d="M44.85 177.35 L44.88 180.43 L44.91 183.53 L44.94 186.64 L44.97 189.77 L44.99 192.88 L45.02 195.97 L45.05 199.03 L45.08 202.04 L45.11 205.00 L45.14 207.88 L45.15 210.39 L45.15 212.95 L45.15 215.51 L45.14 218.06 L45.14 220.55 L45.15 222.96 L45.17 225.24 L45.21 227.38 L45.27 229.34 L45.36 231.08 L45.42 231.93 L45.46 232.73 L45.50 233.50 L45.54 234.22 L45.59 234.90 L45.66 235.54 L45.75 236.15 L45.87 236.73 L46.02 237.27 L46.22 237.79 L46.39 238.15 L46.58 238.47 L46.78 238.78 L46.99 239.06 L47.22 239.32 L47.46 239.58 L47.72 239.83 L48.00 240.08 L48.30 240.34 L48.63 240.60 L49.12 240.99 L49.67 241.38 L50.25 241.76 L50.88 242.15 L51.53 242.52 L52.23 242.89 L52.95 243.25 L53.70 243.60 L54.47 243.94 L55.26 244.26 L56.40 244.67 L57.61 245.06 L58.90 245.43 L60.25 245.78 L61.63 246.10 L63.05 246.42 L64.47 246.72 L65.89 247.01 L67.29 247.29 L68.65 247.56 L69.98 247.81 L71.30 248.02 L72.63 248.21 L73.96 248.39 L75.29 248.56 L76.61 248.73 L77.94 248.92 L79.27 249.12 L80.60 249.36 L81.92 249.64 L83.27 249.95 L84.57 250.29 L85.86 250.65 L87.15 251.03 L88.44 251.43 L89.76 251.84 L91.11 252.28 L92.52 252.72 L93.99 253.19 L95.54 253.66 L97.92 254.39 L100.49 255.19 L103.21 256.04 L106.03 256.93 L108.92 257.84 L111.85 258.76 L114.77 259.67 L117.65 260.56 L120.44 261.41 L123.12 262.21 L125.46 262.87 L127.83 263.50 L130.22 264.10 L132.59 264.69 L134.92 265.27 L137.18 265.85 L139.34 266.44 L141.38 267.04 L143.27 267.66 L144.98 268.32 L145.96 268.74 L146.89 269.15 L147.77 269.55 L148.60 269.96 L149.38 270.38 L150.13 270.81 L150.85 271.27 L151.54 271.76 L152.21 272.27 L152.87 272.83 L153.49 273.41 L154.09 274.02 L154.67 274.66 L155.22 275.33 L155.74 276.02 L156.24 276.72 L156.70 277.45 L157.14 278.18 L157.54 278.92 L157.91 279.67 L158.22 280.42 L158.48 281.20 L158.69 282.00 L158.87 282.81 L159.03 283.63 L159.17 284.46 L159.32 285.29 L159.47 286.11 L159.65 286.93 L159.85 287.73 L160.07 288.54 L160.27 289.37 L160.47 290.21 L160.67 291.06 L160.88 291.89 L161.11 292.71 L161.37 293.49 L161.66 294.23 L161.99 294.92 L162.37 295.54 L162.72 296.02 L163.11 296.48 L163.52 296.91 L163.95 297.31 L164.41 297.68 L164.88 298.03 L165.36 298.35 L165.85 298.63 L166.34 298.87 L166.83 299.08 L167.30 299.24 L167.79 299.34 L168.28 299.41 L168.79 299.44 L169.30 299.45 L169.81 299.44 L170.33 299.43 L170.85 299.42 L171.36 299.43 L171.87 299.45" fill="none" stroke="#5555f0" stroke-width="1.30" stroke-linejoin="round" stroke-opacity="0.62"/>
<path d="M44.85 177.35 L44.86 184.80 L44.87 192.45 L44.88 200.20 L44.89 207.98 L44.89 215.71 L44.90 223.30 L44.92 230.66 L44.94 237.73 L44.98 244.40 L45.02 250.61 L45.05 254.68 L45.06 258.72 L45.07 262.69 L45.08 266.55 L45.09 270.25 L45.12 273.75 L45.18 276.99 L45.26 279.95 L45.38 282.57 L45.54 284.80 L45.61 285.64 L45.67 286.42 L45.73 287.16 L45.80 287.85 L45.87 288.48 L45.96 289.07 L46.06 289.60 L46.20 290.09 L46.36 290.52 L46.57 290.90 L46.70 291.10 L46.83 291.26 L46.97 291.40 L47.12 291.52 L47.27 291.62 L47.44 291.72 L47.62 291.81 L47.82 291.91 L48.04 292.01 L48.28 292.12 L48.86 292.38 L49.54 292.64 L50.32 292.90 L51.16 293.17 L52.06 293.43 L53.01 293.69 L53.98 293.93 L54.95 294.16 L55.92 294.37 L56.87 294.57 L57.92 294.75 L58.99 294.91 L60.07 295.04 L61.17 295.15 L62.29 295.25 L63.42 295.34 L64.58 295.43 L65.76 295.54 L66.96 295.65 L68.19 295.79 L69.73 295.98 L71.31 296.19 L72.93 296.42 L74.58 296.66 L76.26 296.90 L77.97 297.14 L79.69 297.38 L81.42 297.60 L83.16 297.80 L84.90 297.98 L86.81 298.16 L88.77 298.32 L90.78 298.47 L92.82 298.61 L94.85 298.73 L96.87 298.85 L98.84 298.95 L100.77 299.05 L102.61 299.13 L104.35 299.21 L105.62 299.25 L106.83 299.29 L108.01 299.32 L109.15 299.35 L110.26 299.37 L111.36 299.38 L112.46 299.40 L113.56 299.41 L114.66 299.43 L115.80 299.45" fill="none" stroke="#f555f5" stroke-width="1.30" stroke-linejoin="round" stroke-opacity="0.62"/>
<g font-family='"Liberation Serif", serif'><text transform="translate(159.45 185.55) scale(0.1100 0.0930)" font-size="72.00" fill="#202020" stroke="#202020" stroke-width="1.80">PTV</text><text transform="translate(159.45 191.75) scale(0.1100 0.0930)" font-size="72.00" fill="#4040f0" stroke="#4040f0" stroke-width="1.80">Lungs R</text><text transform="translate(159.45 197.95) scale(0.1100 0.0930)" font-size="72.00" fill="#ff40ff" stroke="#ff40ff" stroke-width="1.80">Heart</text></g>
<g font-family='"Liberation Serif", serif'><text transform="translate(44.85 309.15) scale(1.120 1.000)" text-anchor="middle" font-size="9.00" fill="#525252" stroke="#525252" stroke-width="0.20">0</text><text transform="translate(67.74 309.15) scale(1.120 1.000)" text-anchor="middle" font-size="9.00" fill="#525252" stroke="#525252" stroke-width="0.20">20</text><text transform="translate(90.62 309.15) scale(1.120 1.000)" text-anchor="middle" font-size="9.00" fill="#525252" stroke="#525252" stroke-width="0.20">40</text><text transform="translate(113.51 309.15) scale(1.120 1.000)" text-anchor="middle" font-size="9.00" fill="#525252" stroke="#525252" stroke-width="0.20">60</text><text transform="translate(136.39 309.15) scale(1.120 1.000)" text-anchor="middle" font-size="9.00" fill="#525252" stroke="#525252" stroke-width="0.20">80</text><text transform="translate(159.28 309.15) scale(1.120 1.000)" text-anchor="middle" font-size="9.00" fill="#525252" stroke="#525252" stroke-width="0.20">100</text><text transform="translate(182.16 309.15) scale(1.120 1.000)" text-anchor="middle" font-size="9.00" fill="#525252" stroke="#525252" stroke-width="0.20">120</text><text transform="translate(42.95 302.45) scale(1.080 1.000)" text-anchor="end" font-size="9.00" fill="#525252" stroke="#525252" stroke-width="0.20">0</text><text transform="translate(42.95 278.03) scale(1.080 1.000)" text-anchor="end" font-size="9.00" fill="#525252" stroke="#525252" stroke-width="0.20">20</text><text transform="translate(42.95 253.61) scale(1.080 1.000)" text-anchor="end" font-size="9.00" fill="#525252" stroke="#525252" stroke-width="0.20">40</text><text transform="translate(42.95 229.19) scale(1.080 1.000)" text-anchor="end" font-size="9.00" fill="#525252" stroke="#525252" stroke-width="0.20">60</text><text transform="translate(42.95 204.77) scale(1.080 1.000)" text-anchor="end" font-size="9.00" fill="#525252" stroke="#525252" stroke-width="0.20">80</text><text transform="translate(42.95 180.35) scale(1.080 1.000)" text-anchor="end" font-size="9.00" fill="#525252" stroke="#525252" stroke-width="0.20">100</text><text transform="translate(124.95 317.95)" text-anchor="middle" font-size="8.80" fill="#525252" stroke="#525252" stroke-width="0.25">Dose [%]</text><text transform="translate(27.05 235.35) rotate(-90) scale(1.035 1.000)" text-anchor="middle" font-size="8.60" fill="#525252" stroke="#525252" stroke-width="0.25">Volume [%]</text><path d="M50.05 186.85 H55.05" stroke="#505050" stroke-width="0.6"/><rect x="50.25" y="195.85" width="1" height="1" fill="#606060"/><rect x="52.05" y="195.85" width="1" height="1" fill="#606060"/><rect x="53.85" y="195.85" width="1" height="1" fill="#606060"/><text transform="translate(55.85 189.25) scale(1.050 1.000)" font-size="7.60" fill="#262626" stroke="#262626" stroke-width="0.22">MC</text><text transform="translate(55.75 199.15) scale(1.050 1.000)" font-size="7.60" fill="#262626" stroke="#262626" stroke-width="0.22">A</text></g>
<rect x="242.70" y="171.25" width="160.20" height="128.20" fill="none" stroke="#dedede" stroke-width="1.1"/>
<path d="M242.70 299.45 V297.65 M242.70 171.25 V173.05 M265.59 299.45 V297.65 M265.59 171.25 V173.05 M288.47 299.45 V297.65 M288.47 171.25 V173.05 M311.36 299.45 V297.65 M311.36 171.25 V173.05 M334.24 299.45 V297.65 M334.24 171.25 V173.05 M357.13 299.45 V297.65 M357.13 171.25 V173.05 M380.01 299.45 V297.65 M380.01 171.25 V173.05 M402.90 299.45 V297.65 M402.90 171.25 V173.05 M242.70 299.45 H244.50 M402.90 299.45 H401.10 M242.70 275.03 H244.50 M402.90 275.03 H401.10 M242.70 250.61 H244.50 M402.90 250.61 H401.10 M242.70 226.19 H244.50 M402.90 226.19 H401.10 M242.70 201.77 H244.50 M402.90 201.77 H401.10 M242.70 177.35 H244.50 M402.90 177.35 H401.10" stroke="#c8c8c8" stroke-width="0.9" fill="none"/>
<path d="M242.70 177.35 L252.29 177.35 L262.56 177.35 L273.23 177.35 L283.99 177.35 L294.55 177.35 L304.63 177.35 L313.93 177.35 L322.16 177.35 L329.03 177.35 L334.24 177.35 L335.48 177.35 L336.58 177.35 L337.56 177.35 L338.44 177.35 L339.24 177.35 L339.98 177.35 L340.70 177.35 L341.39 177.35 L342.10 177.35 L342.82 177.48 L343.46 177.63 L344.09 177.80 L344.70 177.99 L345.30 178.20 L345.88 178.44 L346.44 178.71 L346.98 179.01 L347.49 179.35 L347.98 179.74 L348.43 180.16 L348.92 180.73 L349.36 181.38 L349.76 182.08 L350.12 182.84 L350.45 183.65 L350.76 184.48 L351.05 185.35 L351.32 186.22 L351.60 187.10 L351.86 187.98 L352.16 189.00 L352.43 190.04 L352.68 191.11 L352.91 192.21 L353.11 193.32 L353.31 194.46 L353.50 195.62 L353.68 196.80 L353.86 198.00 L354.04 199.21 L354.25 200.66 L354.44 202.13 L354.63 203.63 L354.80 205.15 L354.97 206.70 L355.13 208.29 L355.28 209.90 L355.44 211.55 L355.60 213.24 L355.76 214.96 L355.96 217.17 L356.16 219.47 L356.36 221.85 L356.56 224.29 L356.76 226.77 L356.95 229.27 L357.13 231.76 L357.30 234.23 L357.45 236.65 L357.59 239.01 L357.69 241.18 L357.78 243.34 L357.85 245.49 L357.90 247.64 L357.95 249.76 L358.00 251.86 L358.06 253.93 L358.11 255.96 L358.19 257.95 L358.27 259.89 L358.36 261.50 L358.44 263.08 L358.52 264.64 L358.61 266.18 L358.71 267.69 L358.81 269.17 L358.92 270.62 L359.03 272.05 L359.16 273.43 L359.30 274.79 L359.43 275.86 L359.55 276.91 L359.69 277.92 L359.83 278.92 L359.98 279.90 L360.13 280.86 L360.28 281.82 L360.45 282.77 L360.62 283.72 L360.79 284.68 L360.95 285.61 L361.11 286.56 L361.27 287.51 L361.42 288.47 L361.59 289.41 L361.77 290.33 L361.97 291.22 L362.20 292.07 L362.45 292.86 L362.74 293.59 L362.96 294.09 L363.20 294.57 L363.44 295.03 L363.70 295.46 L363.97 295.88 L364.25 296.27 L364.56 296.64 L364.88 296.99 L365.23 297.32 L365.60 297.62 L366.01 297.90 L366.47 298.14 L366.95 298.35 L367.46 298.52 L367.98 298.69 L368.52 298.83 L369.05 298.98 L369.59 299.12 L370.12 299.28 L370.63 299.45" fill="none" stroke="#383838" stroke-width="1.05" stroke-linejoin="round" stroke-opacity="0.75"/>
<path d="M242.70 177.35 L242.75 182.36 L242.79 187.56 L242.84 192.88 L242.89 198.22 L242.93 203.50 L242.98 208.65 L243.02 213.57 L243.07 218.19 L243.11 222.43 L243.16 226.19 L243.14 228.14 L243.07 230.04 L242.97 231.88 L242.86 233.65 L242.76 235.31 L242.71 236.85 L242.72 238.26 L242.82 239.51 L243.03 240.58 L243.39 241.45 L243.61 241.80 L243.86 242.09 L244.12 242.33 L244.41 242.53 L244.72 242.70 L245.04 242.84 L245.38 242.98 L245.73 243.11 L246.10 243.25 L246.48 243.41 L247.02 243.62 L247.59 243.82 L248.19 244.00 L248.82 244.16 L249.47 244.32 L250.15 244.48 L250.86 244.63 L251.59 244.78 L252.34 244.95 L253.11 245.12 L254.26 245.38 L255.49 245.65 L256.78 245.93 L258.13 246.21 L259.51 246.49 L260.92 246.77 L262.34 247.05 L263.75 247.32 L265.14 247.57 L266.50 247.80 L267.83 248.02 L269.16 248.22 L270.48 248.41 L271.81 248.60 L273.14 248.77 L274.46 248.94 L275.79 249.11 L277.12 249.28 L278.45 249.46 L279.77 249.64" fill="none" stroke="#5555f0" stroke-width="1.00" stroke-linejoin="round" stroke-opacity="0.45"/>
<path d="M242.70 177.35 L242.73 180.43 L242.76 183.53 L242.79 186.64 L242.82 189.77 L242.84 192.88 L242.87 195.97 L242.90 199.03 L242.93 202.04 L242.96 205.00 L242.99 207.88 L243.00 210.39 L243.00 212.95 L243.00 215.51 L242.99 218.06 L242.99 220.55 L243.00 222.96 L243.02 225.24 L243.06 227.38 L243.12 229.34 L243.21 231.08 L243.27 231.93 L243.31 232.73 L243.35 233.50 L243.39 234.22 L243.44 234.90 L243.51 235.54 L243.60 236.15 L243.72 236.73 L243.87 237.27 L244.07 237.79 L244.24 238.15 L244.43 238.47 L244.63 238.78 L244.84 239.06 L245.07 239.32 L245.31 239.58 L245.57 239.83 L245.85 240.08 L246.15 240.34 L246.48 240.60 L246.97 240.99 L247.52 241.38 L248.10 241.76 L248.73 242.15 L249.38 242.52 L250.08 242.89 L250.80 243.25 L251.55 243.60 L252.32 243.94 L253.11 244.26 L254.25 244.67 L255.46 245.06 L256.75 245.43 L258.10 245.78 L259.48 246.10 L260.90 246.42 L262.32 246.72 L263.74 247.01 L265.14 247.29 L266.50 247.56 L267.83 247.81 L269.15 248.02 L270.48 248.21 L271.81 248.39 L273.14 248.56 L274.46 248.73 L275.79 248.92 L277.12 249.12 L278.45 249.36 L279.77 249.64 L281.12 249.95 L282.42 250.29 L283.71 250.65 L285.00 251.03 L286.29 251.43 L287.61 251.84 L288.96 252.28 L290.37 252.72 L291.84 253.19 L293.39 253.66 L295.77 254.39 L298.34 255.19 L301.06 256.04 L303.88 256.93 L306.77 257.84 L309.70 258.76 L312.62 259.67 L315.50 260.56 L318.29 261.41 L320.97 262.21 L323.31 262.87 L325.68 263.50 L328.07 264.10 L330.44 264.69 L332.77 265.27 L335.03 265.85 L337.19 266.44 L339.23 267.04 L341.12 267.66 L342.82 268.32 L343.81 268.74 L344.74 269.15 L345.62 269.55 L346.45 269.96 L347.23 270.38 L347.98 270.81 L348.70 271.27 L349.39 271.76 L350.06 272.27 L350.72 272.83 L351.34 273.41 L351.94 274.02 L352.52 274.66 L353.07 275.33 L353.59 276.02 L354.09 276.72 L354.55 277.45 L354.99 278.18 L355.39 278.92 L355.76 279.67 L356.07 280.42 L356.33 281.20 L356.54 282.00 L356.72 282.81 L356.88 283.63 L357.02 284.46 L357.17 285.29 L357.32 286.11 L357.50 286.93 L357.70 287.73 L357.92 288.54 L358.12 289.37 L358.32 290.21 L358.52 291.06 L358.73 291.89 L358.96 292.71 L359.22 293.49 L359.51 294.23 L359.84 294.92 L360.22 295.54 L360.57 296.02 L360.96 296.48 L361.37 296.91 L361.80 297.31 L362.26 297.68 L362.73 298.03 L363.21 298.35 L363.70 298.63 L364.19 298.87 L364.68 299.08 L365.15 299.24 L365.64 299.34 L366.13 299.41 L366.64 299.44 L367.15 299.45 L367.66 299.44 L368.18 299.43 L368.70 299.42 L369.21 299.43 L369.72 299.45" fill="none" stroke="#5555f0" stroke-width="1.30" stroke-linejoin="round" stroke-opacity="0.62"/>
<path d="M242.70 177.35 L242.71 184.80 L242.72 192.45 L242.73 200.20 L242.74 207.98 L242.74 215.71 L242.75 223.30 L242.77 230.66 L242.79 237.73 L242.83 244.40 L242.87 250.61 L242.90 254.68 L242.91 258.72 L242.92 262.69 L242.93 266.55 L242.94 270.25 L242.97 273.75 L243.03 276.99 L243.11 279.95 L243.23 282.57 L243.39 284.80 L243.46 285.64 L243.52 286.42 L243.58 287.16 L243.65 287.85 L243.72 288.48 L243.81 289.07 L243.91 289.60 L244.05 290.09 L244.21 290.52 L244.42 290.90 L244.55 291.10 L244.68 291.26 L244.82 291.40 L244.97 291.52 L245.12 291.62 L245.29 291.72 L245.47 291.81 L245.67 291.91 L245.89 292.01 L246.13 292.12 L246.71 292.38 L247.39 292.64 L248.17 292.90 L249.01 293.17 L249.91 293.43 L250.86 293.69 L251.83 293.93 L252.80 294.16 L253.77 294.37 L254.72 294.57 L255.77 294.75 L256.84 294.91 L257.92 295.04 L259.02 295.15 L260.14 295.25 L261.27 295.34 L262.43 295.43 L263.61 295.54 L264.81 295.65 L266.04 295.79 L267.58 295.98 L269.16 296.19 L270.78 296.42 L272.43 296.66 L274.11 296.90 L275.82 297.14 L277.54 297.38 L279.27 297.60 L281.01 297.80 L282.75 297.98 L284.66 298.16 L286.62 298.32 L288.63 298.47 L290.67 298.61 L292.70 298.73 L294.72 298.85 L296.69 298.95 L298.62 299.05 L300.46 299.13 L302.20 299.21 L303.47 299.25 L304.68 299.29 L305.86 299.32 L307.00 299.35 L308.11 299.37 L309.21 299.38 L310.31 299.40 L311.41 299.41 L312.51 299.43 L313.65 299.45" fill="none" stroke="#f555f5" stroke-width="1.30" stroke-linejoin="round" stroke-opacity="0.62"/>
<g font-family='"Liberation Serif", serif'><text transform="translate(357.30 185.55) scale(0.1100 0.0930)" font-size="72.00" fill="#202020" stroke="#202020" stroke-width="1.80">PTV</text><text transform="translate(357.30 191.75) scale(0.1100 0.0930)" font-size="72.00" fill="#4040f0" stroke="#4040f0" stroke-width="1.80">Lungs R</text><text transform="translate(357.30 197.95) scale(0.1100 0.0930)" font-size="72.00" fill="#ff40ff" stroke="#ff40ff" stroke-width="1.80">Heart</text></g>
<g font-family='"Liberation Serif", serif'><text transform="translate(242.70 309.15) scale(1.120 1.000)" text-anchor="middle" font-size="9.00" fill="#525252" stroke="#525252" stroke-width="0.20">0</text><text transform="translate(265.59 309.15) scale(1.120 1.000)" text-anchor="middle" font-size="9.00" fill="#525252" stroke="#525252" stroke-width="0.20">20</text><text transform="translate(288.47 309.15) scale(1.120 1.000)" text-anchor="middle" font-size="9.00" fill="#525252" stroke="#525252" stroke-width="0.20">40</text><text transform="translate(311.36 309.15) scale(1.120 1.000)" text-anchor="middle" font-size="9.00" fill="#525252" stroke="#525252" stroke-width="0.20">60</text><text transform="translate(334.24 309.15) scale(1.120 1.000)" text-anchor="middle" font-size="9.00" fill="#525252" stroke="#525252" stroke-width="0.20">80</text><text transform="translate(357.13 309.15) scale(1.120 1.000)" text-anchor="middle" font-size="9.00" fill="#525252" stroke="#525252" stroke-width="0.20">100</text><text transform="translate(380.01 309.15) scale(1.120 1.000)" text-anchor="middle" font-size="9.00" fill="#525252" stroke="#525252" stroke-width="0.20">120</text><text transform="translate(240.80 302.45) scale(1.080 1.000)" text-anchor="end" font-size="9.00" fill="#525252" stroke="#525252" stroke-width="0.20">0</text><text transform="translate(240.80 278.03) scale(1.080 1.000)" text-anchor="end" font-size="9.00" fill="#525252" stroke="#525252" stroke-width="0.20">20</text><text transform="translate(240.80 253.61) scale(1.080 1.000)" text-anchor="end" font-size="9.00" fill="#525252" stroke="#525252" stroke-width="0.20">40</text><text transform="translate(240.80 229.19) scale(1.080 1.000)" text-anchor="end" font-size="9.00" fill="#525252" stroke="#525252" stroke-width="0.20">60</text><text transform="translate(240.80 204.77) scale(1.080 1.000)" text-anchor="end" font-size="9.00" fill="#525252" stroke="#525252" stroke-width="0.20">80</text><text transform="translate(240.80 180.35) scale(1.080 1.000)" text-anchor="end" font-size="9.00" fill="#525252" stroke="#525252" stroke-width="0.20">100</text><text transform="translate(322.80 317.95)" text-anchor="middle" font-size="8.80" fill="#525252" stroke="#525252" stroke-width="0.25">Dose [%]</text><text transform="translate(224.90 235.35) rotate(-90) scale(1.035 1.000)" text-anchor="middle" font-size="8.60" fill="#525252" stroke="#525252" stroke-width="0.25">Volume [%]</text><path d="M247.90 186.85 H252.90" stroke="#505050" stroke-width="0.6"/><rect x="248.10" y="195.85" width="1" height="1" fill="#606060"/><rect x="249.90" y="195.85" width="1" height="1" fill="#606060"/><rect x="251.70" y="195.85" width="1" height="1" fill="#606060"/><text transform="translate(253.70 189.25) scale(1.050 1.000)" font-size="7.60" fill="#262626" stroke="#262626" stroke-width="0.22">MC</text><text transform="translate(253.60 199.15) scale(1.050 1.000)" font-size="7.60" fill="#262626" stroke="#262626" stroke-width="0.22">A</text></g>
<rect x="440.50" y="171.25" width="160.20" height="128.20" fill="none" stroke="#dedede" stroke-width="1.1"/>
<path d="M440.50 299.45 V297.65 M440.50 171.25 V173.05 M463.39 299.45 V297.65 M463.39 171.25 V173.05 M486.27 299.45 V297.65 M486.27 171.25 V173.05 M509.16 299.45 V297.65 M509.16 171.25 V173.05 M532.04 299.45 V297.65 M532.04 171.25 V173.05 M554.93 299.45 V297.65 M554.93 171.25 V173.05 M577.81 299.45 V297.65 M577.81 171.25 V173.05 M600.70 299.45 V297.65 M600.70 171.25 V173.05 M440.50 299.45 H442.30 M600.70 299.45 H598.90 M440.50 275.03 H442.30 M600.70 275.03 H598.90 M440.50 250.61 H442.30 M600.70 250.61 H598.90 M440.50 226.19 H442.30 M600.70 226.19 H598.90 M440.50 201.77 H442.30 M600.70 201.77 H598.90 M440.50 177.35 H442.30 M600.70 177.35 H598.90" stroke="#c8c8c8" stroke-width="0.9" fill="none"/>
<path d="M440.50 177.35 L449.51 177.35 L459.17 177.35 L469.21 177.35 L479.34 177.35 L489.29 177.35 L498.76 177.35 L507.49 177.35 L515.18 177.35 L521.55 177.35 L526.32 177.35 L527.38 177.37 L528.31 177.37 L529.12 177.37 L529.85 177.37 L530.51 177.37 L531.13 177.39 L531.73 177.41 L532.33 177.45 L532.96 177.51 L533.64 177.60 L534.34 177.70 L535.04 177.80 L535.74 177.91 L536.44 178.04 L537.13 178.18 L537.81 178.34 L538.48 178.54 L539.14 178.76 L539.78 179.01 L540.40 179.31 L541.01 179.65 L541.62 180.03 L542.22 180.43 L542.80 180.87 L543.37 181.34 L543.92 181.84 L544.45 182.36 L544.96 182.91 L545.44 183.48 L545.89 184.07 L546.35 184.75 L546.77 185.47 L547.16 186.22 L547.52 187.00 L547.85 187.82 L548.17 188.66 L548.47 189.52 L548.75 190.41 L549.04 191.32 L549.32 192.25 L549.66 193.46 L549.98 194.74 L550.27 196.07 L550.55 197.45 L550.80 198.85 L551.05 200.27 L551.28 201.70 L551.51 203.13 L551.73 204.54 L551.95 205.93 L552.17 207.29 L552.37 208.66 L552.57 210.05 L552.76 211.43 L552.94 212.81 L553.11 214.18 L553.28 215.54 L553.45 216.88 L553.62 218.19 L553.78 219.48 L553.93 220.56 L554.08 221.60 L554.23 222.60 L554.37 223.58 L554.51 224.55 L554.65 225.54 L554.79 226.57 L554.92 227.63 L555.04 228.77 L555.16 229.98 L555.31 231.92 L555.45 234.02 L555.58 236.25 L555.69 238.58 L555.79 240.98 L555.89 243.42 L555.99 245.88 L556.09 248.32 L556.19 250.72 L556.30 253.05 L556.41 255.32 L556.50 257.64 L556.59 259.97 L556.68 262.30 L556.78 264.62 L556.88 266.90 L556.99 269.13 L557.12 271.28 L557.27 273.33 L557.45 275.28 L557.59 276.64 L557.74 277.97 L557.89 279.25 L558.06 280.51 L558.23 281.72 L558.41 282.90 L558.60 284.04 L558.81 285.14 L559.04 286.21 L559.28 287.24 L559.47 288.01 L559.67 288.75 L559.88 289.47 L560.10 290.17 L560.32 290.85 L560.55 291.51 L560.79 292.15 L561.04 292.77 L561.30 293.37 L561.57 293.96 L561.79 294.42 L562.00 294.89 L562.22 295.34 L562.44 295.79 L562.67 296.21 L562.91 296.62 L563.17 297.01 L563.45 297.36 L563.75 297.69 L564.08 297.98 L564.44 298.23 L564.83 298.44 L565.25 298.61 L565.69 298.75 L566.14 298.87 L566.60 298.98 L567.07 299.09 L567.53 299.20 L567.99 299.31 L568.43 299.45" fill="none" stroke="#383838" stroke-width="1.05" stroke-linejoin="round" stroke-opacity="0.75"/>
<path d="M440.50 177.35 L440.55 182.36 L440.59 187.56 L440.64 192.88 L440.69 198.22 L440.73 203.50 L440.78 208.65 L440.82 213.57 L440.87 218.19 L440.91 222.43 L440.96 226.19 L440.94 228.14 L440.87 230.04 L440.77 231.88 L440.66 233.65 L440.56 235.31 L440.51 236.85 L440.52 238.26 L440.62 239.51 L440.83 240.58 L441.19 241.45 L441.41 241.80 L441.66 242.09 L441.92 242.33 L442.21 242.53 L442.52 242.70 L442.84 242.84 L443.18 242.98 L443.53 243.11 L443.90 243.25 L444.28 243.41 L444.82 243.62 L445.39 243.82 L445.99 244.00 L446.62 244.16 L447.27 244.32 L447.95 244.48 L448.66 244.63 L449.39 244.78 L450.14 244.95 L450.91 245.12 L452.06 245.38 L453.29 245.65 L454.58 245.93 L455.93 246.21 L457.31 246.49 L458.72 246.77 L460.14 247.05 L461.55 247.32 L462.94 247.57 L464.30 247.80 L465.63 248.02 L466.96 248.22 L468.28 248.41 L469.61 248.60 L470.94 248.77 L472.26 248.94 L473.59 249.11 L474.92 249.28 L476.25 249.46 L477.57 249.64" fill="none" stroke="#5555f0" stroke-width="1.00" stroke-linejoin="round" stroke-opacity="0.45"/>
<path d="M440.50 177.35 L440.53 180.43 L440.56 183.53 L440.59 186.64 L440.62 189.77 L440.64 192.88 L440.67 195.97 L440.70 199.03 L440.73 202.04 L440.76 205.00 L440.79 207.88 L440.80 210.39 L440.80 212.95 L440.80 215.51 L440.79 218.06 L440.79 220.55 L440.80 222.96 L440.82 225.24 L440.86 227.38 L440.92 229.34 L441.01 231.08 L441.07 231.93 L441.11 232.73 L441.15 233.50 L441.19 234.22 L441.24 234.90 L441.31 235.54 L441.40 236.15 L441.52 236.73 L441.67 237.27 L441.87 237.79 L442.04 238.15 L442.23 238.47 L442.43 238.78 L442.64 239.06 L442.87 239.32 L443.11 239.58 L443.37 239.83 L443.65 240.08 L443.95 240.34 L444.28 240.60 L444.77 240.99 L445.32 241.38 L445.90 241.76 L446.53 242.15 L447.18 242.52 L447.88 242.89 L448.60 243.25 L449.35 243.60 L450.12 243.94 L450.91 244.26 L452.05 244.67 L453.26 245.06 L454.55 245.43 L455.90 245.78 L457.28 246.10 L458.70 246.42 L460.12 246.72 L461.54 247.01 L462.94 247.29 L464.30 247.56 L465.63 247.81 L466.95 248.02 L468.28 248.21 L469.61 248.39 L470.94 248.56 L472.26 248.73 L473.59 248.92 L474.92 249.12 L476.25 249.36 L477.57 249.64 L478.92 249.95 L480.22 250.29 L481.51 250.65 L482.80 251.03 L484.09 251.43 L485.41 251.84 L486.76 252.28 L488.17 252.72 L489.64 253.19 L491.19 253.66 L493.57 254.39 L496.14 255.19 L498.86 256.04 L501.68 256.93 L504.57 257.84 L507.50 258.76 L510.42 259.67 L513.30 260.56 L516.09 261.41 L518.77 262.21 L521.11 262.87 L523.48 263.50 L525.87 264.10 L528.24 264.69 L530.57 265.27 L532.83 265.85 L534.99 266.44 L537.03 267.04 L538.92 267.66 L540.62 268.32 L541.61 268.74 L542.54 269.15 L543.42 269.55 L544.25 269.96 L545.03 270.38 L545.78 270.81 L546.50 271.27 L547.19 271.76 L547.86 272.27 L548.52 272.83 L549.14 273.41 L549.74 274.02 L550.32 274.66 L550.87 275.33 L551.39 276.02 L551.89 276.72 L552.35 277.45 L552.79 278.18 L553.19 278.92 L553.56 279.67 L553.87 280.42 L554.13 281.20 L554.34 282.00 L554.52 282.81 L554.68 283.63 L554.82 284.46 L554.97 285.29 L555.12 286.11 L555.30 286.93 L555.50 287.73 L555.72 288.54 L555.92 289.37 L556.12 290.21 L556.32 291.06 L556.53 291.89 L556.76 292.71 L557.02 293.49 L557.31 294.23 L557.64 294.92 L558.02 295.54 L558.37 296.02 L558.76 296.48 L559.17 296.91 L559.60 297.31 L560.06 297.68 L560.53 298.03 L561.01 298.35 L561.50 298.63 L561.99 298.87 L562.48 299.08 L562.95 299.24 L563.44 299.34 L563.93 299.41 L564.44 299.44 L564.95 299.45 L565.46 299.44 L565.98 299.43 L566.50 299.42 L567.01 299.43 L567.52 299.45" fill="none" stroke="#5555f0" stroke-width="1.30" stroke-linejoin="round" stroke-opacity="0.62"/>
<path d="M440.50 177.35 L440.51 184.80 L440.52 192.45 L440.53 200.20 L440.54 207.98 L440.54 215.71 L440.55 223.30 L440.57 230.66 L440.59 237.73 L440.63 244.40 L440.67 250.61 L440.70 254.68 L440.71 258.72 L440.72 262.69 L440.73 266.55 L440.74 270.25 L440.77 273.75 L440.83 276.99 L440.91 279.95 L441.03 282.57 L441.19 284.80 L441.26 285.64 L441.32 286.42 L441.38 287.16 L441.45 287.85 L441.52 288.48 L441.61 289.07 L441.71 289.60 L441.85 290.09 L442.01 290.52 L442.22 290.90 L442.35 291.10 L442.48 291.26 L442.62 291.40 L442.77 291.52 L442.92 291.62 L443.09 291.72 L443.27 291.81 L443.47 291.91 L443.69 292.01 L443.93 292.12 L444.51 292.38 L445.19 292.64 L445.97 292.90 L446.81 293.17 L447.71 293.43 L448.66 293.69 L449.63 293.93 L450.60 294.16 L451.57 294.37 L452.51 294.57 L453.57 294.75 L454.64 294.91 L455.72 295.04 L456.82 295.15 L457.94 295.25 L459.07 295.34 L460.23 295.43 L461.41 295.54 L462.61 295.65 L463.84 295.79 L465.38 295.98 L466.96 296.19 L468.58 296.42 L470.23 296.66 L471.91 296.90 L473.62 297.14 L475.34 297.38 L477.07 297.60 L478.81 297.80 L480.55 297.98 L482.46 298.16 L484.42 298.32 L486.43 298.47 L488.47 298.61 L490.50 298.73 L492.52 298.85 L494.49 298.95 L496.42 299.05 L498.26 299.13 L500.00 299.21 L501.27 299.25 L502.48 299.29 L503.66 299.32 L504.80 299.35 L505.91 299.37 L507.01 299.38 L508.11 299.40 L509.21 299.41 L510.31 299.43 L511.45 299.45" fill="none" stroke="#f555f5" stroke-width="1.30" stroke-linejoin="round" stroke-opacity="0.62"/>
<g font-family='"Liberation Serif", serif'><text transform="translate(555.10 185.55) scale(0.1100 0.0930)" font-size="72.00" fill="#202020" stroke="#202020" stroke-width="1.80">PTV</text><text transform="translate(555.10 191.75) scale(0.1100 0.0930)" font-size="72.00" fill="#4040f0" stroke="#4040f0" stroke-width="1.80">Lungs R</text><text transform="translate(555.10 197.95) scale(0.1100 0.0930)" font-size="72.00" fill="#ff40ff" stroke="#ff40ff" stroke-width="1.80">Heart</text></g>
<g font-family='"Liberation Serif", serif'><text transform="translate(440.50 309.15) scale(1.120 1.000)" text-anchor="middle" font-size="9.00" fill="#525252" stroke="#525252" stroke-width="0.20">0</text><text transform="translate(463.39 309.15) scale(1.120 1.000)" text-anchor="middle" font-size="9.00" fill="#525252" stroke="#525252" stroke-width="0.20">20</text><text transform="translate(486.27 309.15) scale(1.120 1.000)" text-anchor="middle" font-size="9.00" fill="#525252" stroke="#525252" stroke-width="0.20">40</text><text transform="translate(509.16 309.15) scale(1.120 1.000)" text-anchor="middle" font-size="9.00" fill="#525252" stroke="#525252" stroke-width="0.20">60</text><text transform="translate(532.04 309.15) scale(1.120 1.000)" text-anchor="middle" font-size="9.00" fill="#525252" stroke="#525252" stroke-width="0.20">80</text><text transform="translate(554.93 309.15) scale(1.120 1.000)" text-anchor="middle" font-size="9.00" fill="#525252" stroke="#525252" stroke-width="0.20">100</text><text transform="translate(577.81 309.15) scale(1.120 1.000)" text-anchor="middle" font-size="9.00" fill="#525252" stroke="#525252" stroke-width="0.20">120</text><text transform="translate(438.60 302.45) scale(1.080 1.000)" text-anchor="end" font-size="9.00" fill="#525252" stroke="#525252" stroke-width="0.20">0</text><text transform="translate(438.60 278.03) scale(1.080 1.000)" text-anchor="end" font-size="9.00" fill="#525252" stroke="#525252" stroke-width="0.20">20</text><text transform="translate(438.60 253.61) scale(1.080 1.000)" text-anchor="end" font-size="9.00" fill="#525252" stroke="#525252" stroke-width="0.20">40</text><text transform="translate(438.60 229.19) scale(1.080 1.000)" text-anchor="end" font-size="9.00" fill="#525252" stroke="#525252" stroke-width="0.20">60</text><text transform="translate(438.60 204.77) scale(1.080 1.000)" text-anchor="end" font-size="9.00" fill="#525252" stroke="#525252" stroke-width="0.20">80</text><text transform="translate(438.60 180.35) scale(1.080 1.000)" text-anchor="end" font-size="9.00" fill="#525252" stroke="#525252" stroke-width="0.20">100</text><text transform="translate(520.60 317.95)" text-anchor="middle" font-size="8.80" fill="#525252" stroke="#525252" stroke-width="0.25">Dose [%]</text><text transform="translate(422.70 235.35) rotate(-90) scale(1.035 1.000)" text-anchor="middle" font-size="8.60" fill="#525252" stroke="#525252" stroke-width="0.25">Volume [%]</text><path d="M445.70 186.85 H450.70" stroke="#505050" stroke-width="0.6"/><rect x="445.90" y="195.85" width="1" height="1" fill="#606060"/><rect x="447.70" y="195.85" width="1" height="1" fill="#606060"/><rect x="449.50" y="195.85" width="1" height="1" fill="#606060"/><text transform="translate(451.50 189.25) scale(1.050 1.000)" font-size="7.60" fill="#262626" stroke="#262626" stroke-width="0.22">MC</text><text transform="translate(451.40 199.15) scale(1.050 1.000)" font-size="7.60" fill="#262626" stroke="#262626" stroke-width="0.22">A</text></g>
<rect x="42.70" y="323.25" width="160.20" height="128.20" fill="none" stroke="#dedede" stroke-width="1.1"/>
<path d="M42.70 451.45 V449.65 M42.70 323.25 V325.05 M65.59 451.45 V449.65 M65.59 323.25 V325.05 M88.47 451.45 V449.65 M88.47 323.25 V325.05 M111.36 451.45 V449.65 M111.36 323.25 V325.05 M134.24 451.45 V449.65 M134.24 323.25 V325.05 M157.13 451.45 V449.65 M157.13 323.25 V325.05 M180.01 451.45 V449.65 M180.01 323.25 V325.05 M202.90 451.45 V449.65 M202.90 323.25 V325.05 M42.70 451.45 H44.50 M202.90 451.45 H201.10 M42.70 427.03 H44.50 M202.90 427.03 H201.10 M42.70 402.61 H44.50 M202.90 402.61 H201.10 M42.70 378.19 H44.50 M202.90 378.19 H201.10 M42.70 353.77 H44.50 M202.90 353.77 H201.10 M42.70 329.35 H44.50 M202.90 329.35 H201.10" stroke="#c8c8c8" stroke-width="0.9" fill="none"/>
<path d="M42.70 329.35 L52.35 329.35 L62.76 329.35 L73.60 329.35 L84.56 329.35 L95.30 329.35 L105.49 329.35 L114.81 329.35 L122.93 329.35 L129.51 329.35 L134.24 329.35 L135.11 329.36 L135.85 329.35 L136.50 329.35 L137.07 329.35 L137.58 329.35 L138.06 329.35 L138.53 329.35 L139.01 329.35 L139.52 329.38 L140.08 329.48 L140.75 329.62 L141.45 329.80 L142.16 329.99 L142.87 330.22 L143.58 330.47 L144.28 330.75 L144.96 331.06 L145.62 331.40 L146.24 331.76 L146.83 332.16 L147.37 332.59 L147.90 333.06 L148.40 333.56 L148.88 334.10 L149.33 334.65 L149.77 335.23 L150.18 335.83 L150.57 336.43 L150.94 337.04 L151.29 337.66 L151.62 338.28 L151.91 338.91 L152.18 339.55 L152.43 340.21 L152.65 340.88 L152.86 341.56 L153.05 342.26 L153.24 342.98 L153.41 343.73 L153.58 344.49 L153.77 345.49 L153.94 346.51 L154.07 347.57 L154.19 348.66 L154.28 349.78 L154.37 350.93 L154.46 352.10 L154.54 353.29 L154.63 354.50 L154.73 355.73 L154.85 357.27 L154.97 358.87 L155.09 360.52 L155.20 362.20 L155.31 363.91 L155.42 365.64 L155.53 367.38 L155.64 369.12 L155.75 370.86 L155.87 372.58 L155.99 374.33 L156.12 376.09 L156.25 377.85 L156.38 379.61 L156.51 381.38 L156.63 383.16 L156.76 384.95 L156.89 386.75 L157.01 388.57 L157.13 390.40 L157.25 392.40 L157.36 394.43 L157.46 396.50 L157.57 398.59 L157.67 400.68 L157.77 402.76 L157.88 404.83 L158.00 406.86 L158.13 408.85 L158.27 410.79 L158.41 412.46 L158.54 414.12 L158.68 415.75 L158.82 417.37 L158.98 418.96 L159.13 420.53 L159.30 422.08 L159.48 423.60 L159.67 425.08 L159.87 426.54 L160.06 427.76 L160.24 428.96 L160.43 430.13 L160.63 431.28 L160.84 432.42 L161.06 433.54 L161.28 434.64 L161.52 435.74 L161.78 436.82 L162.05 437.90 L162.30 438.91 L162.55 439.94 L162.80 440.98 L163.06 442.01 L163.33 443.03 L163.63 444.01 L163.95 444.94 L164.30 445.81 L164.70 446.60 L165.14 447.30 L165.49 447.75 L165.86 448.17 L166.26 448.56 L166.67 448.91 L167.10 449.23 L167.54 449.53 L167.99 449.80 L168.44 450.05 L168.91 450.27 L169.37 450.47 L169.83 450.64 L170.31 450.78 L170.79 450.88 L171.29 450.96 L171.79 451.01 L172.30 451.06 L172.80 451.09 L173.31 451.13 L173.80 451.16 L174.29 451.21 L174.76 451.25 L175.22 451.28 L175.68 451.31 L176.13 451.34 L176.59 451.36 L177.05 451.37 L177.50 451.39 L177.96 451.41 L178.41 451.43 L178.87 451.45" fill="none" stroke="#383838" stroke-width="1.05" stroke-linejoin="round" stroke-opacity="0.75"/>
<path d="M42.70 329.35 L42.82 331.69 L42.93 334.08 L43.03 336.49 L43.14 338.91 L43.24 341.31 L43.36 343.68 L43.47 346.00 L43.60 348.24 L43.74 350.39 L43.90 352.43 L44.01 353.89 L44.10 355.29 L44.18 356.64 L44.26 357.96 L44.36 359.24 L44.47 360.50 L44.63 361.73 L44.82 362.95 L45.08 364.17 L45.40 365.37 L45.76 366.54 L46.16 367.70 L46.59 368.86 L47.06 370.00 L47.57 371.13 L48.12 372.22 L48.72 373.29 L49.37 374.32 L50.07 375.30 L50.82 376.24 L51.69 377.16 L52.63 378.03 L53.65 378.85 L54.72 379.64 L55.84 380.39 L56.99 381.11 L58.15 381.81 L59.31 382.49 L60.46 383.15 L61.58 383.81 L62.66 384.42 L63.77 384.98 L64.91 385.52 L66.05 386.04 L67.19 386.54 L68.32 387.04 L69.42 387.54 L70.48 388.06 L71.50 388.61 L72.45 389.18 L73.20 389.67 L73.92 390.16 L74.61 390.65 L75.27 391.14 L75.91 391.65 L76.54 392.17 L77.16 392.72 L77.76 393.30 L78.37 393.90 L78.97 394.55 L79.67 395.39 L80.32 396.32 L80.94 397.31 L81.55 398.34 L82.16 399.40 L82.77 400.46 L83.40 401.50 L84.05 402.50 L84.75 403.45 L85.50 404.32 L86.26 405.09 L87.04 405.81 L87.86 406.49 L88.69 407.15 L89.55 407.78 L90.43 408.39 L91.32 409.00 L92.23 409.59 L93.15 410.19 L94.08 410.79 L95.09 411.43 L96.12 412.04 L97.17 412.63 L98.23 413.21 L99.31 413.79 L100.41 414.37 L101.52 414.96 L102.65 415.58 L103.79 416.22 L104.95 416.90 L106.37 417.75 L107.82 418.64 L109.31 419.56 L110.82 420.51 L112.35 421.48 L113.89 422.47 L115.44 423.48 L116.99 424.49 L118.53 425.52 L120.05 426.54 L121.66 427.64 L123.30 428.77 L124.95 429.93 L126.61 431.10 L128.26 432.28 L129.90 433.46 L131.51 434.63 L133.08 435.79 L134.60 436.92 L136.07 438.02 L137.27 438.93 L138.45 439.84 L139.62 440.75 L140.76 441.66 L141.87 442.55 L142.96 443.42 L144.01 444.27 L145.03 445.07 L146.01 445.84 L146.94 446.57 L147.58 447.06 L148.18 447.56 L148.76 448.04 L149.31 448.51 L149.86 448.97 L150.39 449.39 L150.92 449.79 L151.46 450.14 L152.00 450.45 L152.55 450.72 L153.01 450.89 L153.47 451.02 L153.92 451.11 L154.38 451.18 L154.84 451.23 L155.30 451.27 L155.76 451.31 L156.21 451.34 L156.67 451.39 L157.13 451.45" fill="none" stroke="#f555f5" stroke-width="1.30" stroke-linejoin="round" stroke-opacity="0.62"/>
<path d="M42.70 329.35 L42.73 335.55 L42.76 341.90 L42.79 348.33 L42.82 354.78 L42.85 361.19 L42.88 367.49 L42.91 373.63 L42.95 379.53 L42.99 385.15 L43.04 390.40 L43.07 394.00 L43.09 397.59 L43.10 401.15 L43.11 404.61 L43.13 407.94 L43.16 411.09 L43.20 414.00 L43.27 416.65 L43.37 418.97 L43.50 420.93 L43.55 421.61 L43.57 422.25 L43.58 422.84 L43.58 423.38 L43.60 423.88 L43.65 424.34 L43.72 424.78 L43.85 425.18 L44.04 425.57 L44.30 425.93 L44.70 426.31 L45.19 426.63 L45.76 426.89 L46.39 427.11 L47.08 427.30 L47.80 427.47 L48.55 427.62 L49.31 427.78 L50.07 427.94 L50.82 428.13 L51.79 428.38 L52.79 428.61 L53.84 428.84 L54.92 429.06 L56.02 429.28 L57.14 429.49 L58.26 429.70 L59.38 429.91 L60.49 430.12 L61.58 430.33 L62.69 430.53 L63.83 430.73 L65.00 430.91 L66.17 431.10 L67.34 431.28 L68.47 431.47 L69.57 431.68 L70.61 431.89 L71.57 432.14 L72.45 432.40 L72.99 432.58 L73.49 432.76 L73.97 432.93 L74.43 433.10 L74.87 433.29 L75.28 433.49 L75.68 433.71 L76.07 433.97 L76.44 434.26 L76.80 434.60 L77.21 435.08 L77.59 435.63 L77.93 436.24 L78.25 436.89 L78.55 437.58 L78.83 438.28 L79.11 439.00 L79.40 439.71 L79.69 440.41 L80.00 441.07 L80.31 441.73 L80.59 442.42 L80.86 443.12 L81.13 443.83 L81.41 444.53 L81.70 445.21 L82.01 445.86 L82.36 446.47 L82.76 447.04 L83.21 447.54 L83.71 447.98 L84.26 448.37 L84.86 448.73 L85.49 449.05 L86.14 449.34 L86.81 449.60 L87.48 449.84 L88.14 450.06 L88.78 450.27 L89.39 450.47 L89.88 450.63 L90.37 450.76 L90.86 450.87 L91.34 450.96 L91.81 451.05 L92.29 451.13 L92.76 451.20 L93.24 451.28 L93.71 451.36 L94.19 451.45" fill="none" stroke="#50f0f0" stroke-width="1.30" stroke-linejoin="round" stroke-opacity="0.62"/>
<path d="M42.70 329.35 L42.72 335.54 L42.74 341.85 L42.75 348.22 L42.77 354.62 L42.79 360.98 L42.81 367.25 L42.83 373.38 L42.86 379.32 L42.89 385.01 L42.93 390.40 L42.96 394.31 L42.98 398.20 L43.00 402.02 L43.02 405.76 L43.04 409.39 L43.08 412.86 L43.12 416.14 L43.19 419.21 L43.28 422.04 L43.39 424.59 L43.44 425.86 L43.46 427.06 L43.46 428.19 L43.47 429.27 L43.49 430.29 L43.54 431.25 L43.63 432.16 L43.78 433.02 L44.00 433.83 L44.30 434.60 L44.59 435.16 L44.91 435.67 L45.26 436.14 L45.65 436.58 L46.06 437.00 L46.51 437.39 L46.99 437.77 L47.51 438.14 L48.06 438.50 L48.65 438.87 L49.61 439.42 L50.68 439.94 L51.85 440.43 L53.09 440.91 L54.40 441.35 L55.77 441.78 L57.19 442.18 L58.63 442.56 L60.10 442.93 L61.58 443.27 L63.48 443.67 L65.43 444.01 L67.45 444.32 L69.53 444.59 L71.66 444.83 L73.85 445.05 L76.11 445.25 L78.42 445.44 L80.78 445.64 L83.21 445.83 L86.52 446.08 L90.05 446.29 L93.75 446.48 L97.56 446.65 L101.43 446.80 L105.32 446.94 L109.18 447.08 L112.95 447.23 L116.60 447.38 L120.05 447.54 L122.82 447.68 L125.52 447.82 L128.17 447.95 L130.78 448.08 L133.34 448.22 L135.86 448.36 L138.35 448.50 L140.82 448.66 L143.26 448.83 L145.69 449.01 L147.90 449.19 L150.19 449.41 L152.50 449.63 L154.80 449.87 L157.05 450.11 L159.22 450.35 L161.26 450.57 L163.15 450.77 L164.83 450.94 L166.28 451.08 L166.87 451.14 L167.41 451.18 L167.90 451.22 L168.35 451.26 L168.78 451.29 L169.19 451.32 L169.59 451.35 L170.00 451.38 L170.42 451.42 L170.86 451.45" fill="none" stroke="#5555f0" stroke-width="1.30" stroke-linejoin="round" stroke-opacity="0.62"/>
<path d="M42.70 329.35 L42.74 332.79 L42.76 336.30 L42.76 339.86 L42.76 343.42 L42.77 346.97 L42.80 350.46 L42.84 353.86 L42.92 357.13 L43.04 360.25 L43.21 363.18 L43.35 365.18 L43.47 367.12 L43.58 369.02 L43.71 370.86 L43.87 372.63 L44.05 374.35 L44.29 376.00 L44.58 377.57 L44.95 379.08 L45.40 380.51 L45.79 381.55 L46.21 382.54 L46.66 383.49 L47.14 384.40 L47.66 385.26 L48.21 386.10 L48.80 386.90 L49.43 387.68 L50.10 388.44 L50.82 389.18 L51.70 389.96 L52.68 390.68 L53.73 391.35 L54.83 391.98 L55.98 392.59 L57.14 393.18 L58.30 393.77 L59.44 394.37 L60.54 395.00 L61.58 395.65 L62.52 396.28 L63.46 396.90 L64.39 397.53 L65.30 398.15 L66.21 398.79 L67.09 399.43 L67.96 400.10 L68.80 400.78 L69.61 401.50 L70.39 402.25 L71.13 403.02 L71.85 403.82 L72.54 404.64 L73.21 405.49 L73.85 406.36 L74.48 407.24 L75.09 408.12 L75.68 409.01 L76.25 409.91 L76.80 410.79 L77.31 411.63 L77.79 412.45 L78.26 413.27 L78.70 414.09 L79.13 414.92 L79.55 415.77 L79.96 416.64 L80.36 417.54 L80.75 418.48 L81.15 419.46 L81.62 420.81 L82.05 422.26 L82.44 423.80 L82.82 425.39 L83.20 427.01 L83.58 428.63 L83.99 430.22 L84.43 431.77 L84.93 433.24 L85.50 434.60 L86.02 435.72 L86.57 436.82 L87.13 437.90 L87.72 438.96 L88.34 439.97 L88.98 440.95 L89.66 441.87 L90.37 442.73 L91.12 443.53 L91.90 444.25 L92.64 444.83 L93.40 445.34 L94.18 445.80 L94.99 446.21 L95.83 446.58 L96.70 446.92 L97.61 447.22 L98.56 447.50 L99.56 447.77 L100.60 448.03 L102.20 448.35 L103.92 448.59 L105.75 448.77 L107.66 448.88 L109.64 448.96 L111.68 449.01 L113.76 449.05 L115.86 449.10 L117.96 449.16 L120.05 449.25 L122.47 449.38 L124.93 449.51 L127.44 449.64 L129.98 449.77 L132.56 449.89 L135.16 450.01 L137.78 450.13 L140.41 450.25 L143.05 450.36 L145.69 450.47 L148.48 450.58 L151.31 450.69 L154.15 450.79 L157.01 450.89 L159.89 450.98 L162.77 451.07 L165.66 451.17 L168.55 451.26 L171.43 451.35 L174.29 451.45" fill="none" stroke="#f5f050" stroke-width="1.30" stroke-linejoin="round" stroke-opacity="0.62"/>
<path d="M42.70 329.35 L42.73 335.05 L42.73 340.97 L42.72 347.02 L42.70 353.09 L42.70 359.10 L42.70 364.96 L42.74 370.56 L42.83 375.82 L42.99 380.63 L43.21 384.91 L43.35 387.09 L43.46 389.17 L43.56 391.14 L43.67 393.02 L43.80 394.80 L43.98 396.48 L44.21 398.07 L44.51 399.55 L44.90 400.95 L45.40 402.25 L45.80 403.07 L46.23 403.83 L46.70 404.52 L47.20 405.16 L47.72 405.77 L48.28 406.35 L48.88 406.91 L49.50 407.46 L50.15 408.02 L50.82 408.59 L51.73 409.29 L52.74 409.96 L53.83 410.60 L54.96 411.23 L56.13 411.84 L57.31 412.45 L58.46 413.08 L59.58 413.71 L60.62 414.37 L61.58 415.07 L62.34 415.67 L63.08 416.27 L63.78 416.86 L64.46 417.46 L65.12 418.08 L65.75 418.72 L66.37 419.39 L66.96 420.10 L67.54 420.85 L68.10 421.66 L68.76 422.75 L69.37 423.94 L69.94 425.21 L70.48 426.55 L71.00 427.92 L71.50 429.31 L71.99 430.69 L72.48 432.05 L72.97 433.36 L73.48 434.60 L73.92 435.64 L74.33 436.69 L74.74 437.73 L75.13 438.76 L75.53 439.76 L75.94 440.75 L76.37 441.69 L76.82 442.60 L77.30 443.45 L77.83 444.25 L78.29 444.87 L78.75 445.48 L79.23 446.06 L79.71 446.61 L80.22 447.13 L80.75 447.62 L81.31 448.08 L81.90 448.51 L82.53 448.90 L83.21 449.25 L84.08 449.62 L84.98 449.91 L85.93 450.13 L86.92 450.29 L87.96 450.42 L89.07 450.51 L90.23 450.59 L91.47 450.66 L92.79 450.74 L94.19 450.84 L97.18 451.03 L100.59 451.16 L104.36 451.25 L108.40 451.31 L112.65 451.34 L117.02 451.36 L121.44 451.37 L125.83 451.38 L130.12 451.40 L134.24 451.45" fill="none" stroke="#50f050" stroke-width="1.30" stroke-linejoin="round" stroke-opacity="0.62"/>
<g font-family='"Liberation Serif", serif'><text transform="translate(157.30 337.55) scale(0.1100 0.0930)" font-size="72.00" fill="#202020" stroke="#202020" stroke-width="1.80">PTV</text><text transform="translate(157.30 343.75) scale(0.1100 0.0930)" font-size="72.00" fill="#ff40ff" stroke="#ff40ff" stroke-width="1.80">Duodenum</text><text transform="translate(157.30 349.95) scale(0.1100 0.0930)" font-size="72.00" fill="#40f0f0" stroke="#40f0f0" stroke-width="1.80">Spinal cord</text><text transform="translate(157.30 356.15) scale(0.1100 0.0930)" font-size="72.00" fill="#4040f0" stroke="#4040f0" stroke-width="1.80">Stomach</text><text transform="translate(157.30 362.35) scale(0.1100 0.0930)" font-size="72.00" fill="#f0f040" stroke="#f0f040" stroke-width="1.80">Kidney L</text><text transform="translate(157.30 368.55) scale(0.1100 0.0930)" font-size="72.00" fill="#40f040" stroke="#40f040" stroke-width="1.80">Kidney R</text></g>
<g font-family='"Liberation Serif", serif'><text transform="translate(42.70 461.15) scale(1.120 1.000)" text-anchor="middle" font-size="9.00" fill="#525252" stroke="#525252" stroke-width="0.20">0</text><text transform="translate(65.59 461.15) scale(1.120 1.000)" text-anchor="middle" font-size="9.00" fill="#525252" stroke="#525252" stroke-width="0.20">20</text><text transform="translate(88.47 461.15) scale(1.120 1.000)" text-anchor="middle" font-size="9.00" fill="#525252" stroke="#525252" stroke-width="0.20">40</text><text transform="translate(111.36 461.15) scale(1.120 1.000)" text-anchor="middle" font-size="9.00" fill="#525252" stroke="#525252" stroke-width="0.20">60</text><text transform="translate(134.24 461.15) scale(1.120 1.000)" text-anchor="middle" font-size="9.00" fill="#525252" stroke="#525252" stroke-width="0.20">80</text><text transform="translate(157.13 461.15) scale(1.120 1.000)" text-anchor="middle" font-size="9.00" fill="#525252" stroke="#525252" stroke-width="0.20">100</text><text transform="translate(180.01 461.15) scale(1.120 1.000)" text-anchor="middle" font-size="9.00" fill="#525252" stroke="#525252" stroke-width="0.20">120</text><text transform="translate(40.80 454.45) scale(1.080 1.000)" text-anchor="end" font-size="9.00" fill="#525252" stroke="#525252" stroke-width="0.20">0</text><text transform="translate(40.80 430.03) scale(1.080 1.000)" text-anchor="end" font-size="9.00" fill="#525252" stroke="#525252" stroke-width="0.20">20</text><text transform="translate(40.80 405.61) scale(1.080 1.000)" text-anchor="end" font-size="9.00" fill="#525252" stroke="#525252" stroke-width="0.20">40</text><text transform="translate(40.80 381.19) scale(1.080 1.000)" text-anchor="end" font-size="9.00" fill="#525252" stroke="#525252" stroke-width="0.20">60</text><text transform="translate(40.80 356.77) scale(1.080 1.000)" text-anchor="end" font-size="9.00" fill="#525252" stroke="#525252" stroke-width="0.20">80</text><text transform="translate(40.80 332.35) scale(1.080 1.000)" text-anchor="end" font-size="9.00" fill="#525252" stroke="#525252" stroke-width="0.20">100</text><text transform="translate(122.80 469.95)" text-anchor="middle" font-size="8.80" fill="#525252" stroke="#525252" stroke-width="0.25">Dose [%]</text><text transform="translate(24.90 387.35) rotate(-90) scale(1.035 1.000)" text-anchor="middle" font-size="8.60" fill="#525252" stroke="#525252" stroke-width="0.25">Volume [%]</text><path d="M47.90 338.85 H52.90" stroke="#505050" stroke-width="0.6"/><rect x="48.10" y="347.85" width="1" height="1" fill="#606060"/><rect x="49.90" y="347.85" width="1" height="1" fill="#606060"/><rect x="51.70" y="347.85" width="1" height="1" fill="#606060"/><text transform="translate(53.70 341.25) scale(1.050 1.000)" font-size="7.60" fill="#262626" stroke="#262626" stroke-width="0.22">MC</text><text transform="translate(53.60 351.15) scale(1.050 1.000)" font-size="7.60" fill="#262626" stroke="#262626" stroke-width="0.22">A</text></g>
<rect x="241.40" y="323.25" width="160.20" height="128.20" fill="none" stroke="#dedede" stroke-width="1.1"/>
<path d="M241.40 451.45 V449.65 M241.40 323.25 V325.05 M264.29 451.45 V449.65 M264.29 323.25 V325.05 M287.17 451.45 V449.65 M287.17 323.25 V325.05 M310.06 451.45 V449.65 M310.06 323.25 V325.05 M332.94 451.45 V449.65 M332.94 323.25 V325.05 M355.83 451.45 V449.65 M355.83 323.25 V325.05 M378.71 451.45 V449.65 M378.71 323.25 V325.05 M401.60 451.45 V449.65 M401.60 323.25 V325.05 M241.40 451.45 H243.20 M401.60 451.45 H399.80 M241.40 427.03 H243.20 M401.60 427.03 H399.80 M241.40 402.61 H243.20 M401.60 402.61 H399.80 M241.40 378.19 H243.20 M401.60 378.19 H399.80 M241.40 353.77 H243.20 M401.60 353.77 H399.80 M241.40 329.35 H243.20 M401.60 329.35 H399.80" stroke="#c8c8c8" stroke-width="0.9" fill="none"/>
<path d="M241.40 329.35 L251.05 329.35 L261.46 329.35 L272.30 329.35 L283.26 329.35 L294.00 329.35 L304.19 329.35 L313.51 329.35 L321.63 329.35 L328.21 329.35 L332.94 329.35 L333.81 329.36 L334.55 329.35 L335.20 329.35 L335.77 329.35 L336.28 329.35 L336.76 329.35 L337.23 329.35 L337.71 329.35 L338.22 329.38 L338.78 329.48 L339.45 329.62 L340.15 329.80 L340.86 329.99 L341.57 330.22 L342.28 330.47 L342.98 330.75 L343.66 331.06 L344.32 331.40 L344.94 331.76 L345.53 332.16 L346.07 332.59 L346.60 333.06 L347.10 333.56 L347.58 334.10 L348.03 334.65 L348.47 335.23 L348.88 335.83 L349.27 336.43 L349.64 337.04 L349.99 337.66 L350.32 338.28 L350.61 338.91 L350.88 339.55 L351.13 340.21 L351.35 340.88 L351.56 341.56 L351.75 342.26 L351.94 342.98 L352.11 343.73 L352.28 344.49 L352.47 345.49 L352.64 346.51 L352.77 347.57 L352.89 348.66 L352.98 349.78 L353.07 350.93 L353.16 352.10 L353.24 353.29 L353.33 354.50 L353.43 355.73 L353.55 357.27 L353.67 358.87 L353.79 360.52 L353.90 362.20 L354.01 363.91 L354.12 365.64 L354.23 367.38 L354.34 369.12 L354.45 370.86 L354.57 372.58 L354.69 374.33 L354.82 376.09 L354.95 377.85 L355.08 379.61 L355.21 381.38 L355.33 383.16 L355.46 384.95 L355.59 386.75 L355.71 388.57 L355.83 390.40 L355.95 392.40 L356.06 394.43 L356.16 396.50 L356.27 398.59 L356.37 400.68 L356.47 402.76 L356.58 404.83 L356.70 406.86 L356.83 408.85 L356.97 410.79 L357.11 412.46 L357.24 414.12 L357.38 415.75 L357.52 417.37 L357.68 418.96 L357.83 420.53 L358.00 422.08 L358.18 423.60 L358.37 425.08 L358.57 426.54 L358.76 427.76 L358.94 428.96 L359.13 430.13 L359.33 431.28 L359.54 432.42 L359.76 433.54 L359.98 434.64 L360.22 435.74 L360.48 436.82 L360.75 437.90 L361.00 438.91 L361.25 439.94 L361.50 440.98 L361.76 442.01 L362.03 443.03 L362.33 444.01 L362.65 444.94 L363.00 445.81 L363.40 446.60 L363.84 447.30 L364.19 447.75 L364.56 448.17 L364.96 448.56 L365.37 448.91 L365.80 449.23 L366.24 449.53 L366.69 449.80 L367.14 450.05 L367.61 450.27 L368.07 450.47 L368.53 450.64 L369.01 450.78 L369.49 450.88 L369.99 450.96 L370.49 451.01 L371.00 451.06 L371.50 451.09 L372.01 451.13 L372.50 451.16 L372.99 451.21 L373.46 451.25 L373.92 451.28 L374.38 451.31 L374.83 451.34 L375.29 451.36 L375.75 451.37 L376.20 451.39 L376.66 451.41 L377.11 451.43 L377.57 451.45" fill="none" stroke="#383838" stroke-width="1.05" stroke-linejoin="round" stroke-opacity="0.75"/>
<path d="M241.40 329.35 L241.59 332.36 L241.76 335.46 L241.92 338.61 L242.07 341.76 L242.23 344.90 L242.40 347.97 L242.60 350.94 L242.84 353.78 L243.12 356.44 L243.46 358.90 L243.70 360.44 L243.93 361.93 L244.15 363.36 L244.39 364.74 L244.66 366.06 L244.95 367.33 L245.29 368.54 L245.68 369.70 L246.13 370.80 L246.66 371.84 L247.17 372.66 L247.72 373.43 L248.31 374.15 L248.94 374.82 L249.60 375.47 L250.29 376.09 L251.00 376.68 L251.72 377.27 L252.45 377.85 L253.19 378.44 L253.97 379.05 L254.80 379.66 L255.65 380.26 L256.52 380.84 L257.41 381.41 L258.30 381.95 L259.19 382.46 L260.07 382.95 L260.93 383.40 L261.77 383.81 L262.44 384.10 L263.10 384.33 L263.76 384.52 L264.41 384.68 L265.05 384.84 L265.69 385.00 L266.34 385.18 L266.98 385.40 L267.63 385.67 L268.29 386.01 L269.16 386.54 L270.05 387.14 L270.95 387.80 L271.86 388.52 L272.77 389.29 L273.67 390.10 L274.55 390.94 L275.40 391.81 L276.21 392.69 L276.99 393.58 L277.74 394.54 L278.42 395.57 L279.07 396.65 L279.68 397.76 L280.27 398.89 L280.87 400.03 L281.47 401.15 L282.11 402.25 L282.78 403.31 L283.51 404.32 L284.27 405.28 L285.05 406.23 L285.85 407.17 L286.68 408.08 L287.52 408.98 L288.39 409.85 L289.28 410.69 L290.19 411.50 L291.13 412.26 L292.09 412.99 L293.08 413.66 L294.09 414.26 L295.13 414.81 L296.19 415.33 L297.27 415.82 L298.38 416.30 L299.50 416.78 L300.64 417.28 L301.79 417.80 L302.96 418.36 L304.37 419.05 L305.83 419.74 L307.31 420.43 L308.83 421.14 L310.36 421.86 L311.91 422.61 L313.46 423.38 L315.01 424.19 L316.54 425.04 L318.07 425.93 L319.75 426.99 L321.47 428.13 L323.20 429.33 L324.93 430.57 L326.65 431.84 L328.36 433.13 L330.04 434.40 L331.67 435.66 L333.26 436.87 L334.77 438.02 L335.98 438.94 L337.17 439.86 L338.33 440.77 L339.47 441.68 L340.58 442.57 L341.67 443.43 L342.72 444.27 L343.73 445.08 L344.71 445.84 L345.64 446.57 L346.28 447.06 L346.88 447.56 L347.46 448.04 L348.01 448.51 L348.56 448.97 L349.09 449.39 L349.62 449.79 L350.16 450.14 L350.70 450.45 L351.25 450.72 L351.71 450.89 L352.17 451.02 L352.62 451.11 L353.08 451.18 L353.54 451.23 L354.00 451.27 L354.46 451.31 L354.91 451.34 L355.37 451.39 L355.83 451.45" fill="none" stroke="#f555f5" stroke-width="1.30" stroke-linejoin="round" stroke-opacity="0.62"/>
<path d="M241.40 329.35 L241.43 335.55 L241.46 341.90 L241.49 348.33 L241.51 354.78 L241.54 361.19 L241.57 367.49 L241.60 373.63 L241.64 379.53 L241.69 385.15 L241.74 390.40 L241.78 393.96 L241.81 397.46 L241.83 400.88 L241.86 404.21 L241.89 407.41 L241.94 410.48 L242.00 413.39 L242.07 416.11 L242.18 418.63 L242.32 420.93 L242.37 422.11 L242.40 423.24 L242.40 424.31 L242.40 425.32 L242.42 426.28 L242.48 427.19 L242.59 428.05 L242.78 428.86 L243.06 429.62 L243.46 430.33 L243.94 430.95 L244.51 431.50 L245.14 432.00 L245.84 432.45 L246.60 432.85 L247.42 433.23 L248.27 433.58 L249.16 433.92 L250.08 434.26 L251.01 434.60 L252.47 435.05 L254.12 435.41 L255.92 435.71 L257.80 435.98 L259.73 436.22 L261.66 436.47 L263.53 436.74 L265.29 437.05 L266.89 437.43 L268.29 437.90 L269.12 438.24 L269.89 438.60 L270.62 438.97 L271.30 439.35 L271.95 439.75 L272.57 440.18 L273.16 440.63 L273.73 441.11 L274.28 441.62 L274.81 442.17 L275.34 442.83 L275.81 443.58 L276.24 444.40 L276.64 445.26 L277.02 446.14 L277.40 446.99 L277.77 447.81 L278.16 448.56 L278.59 449.21 L279.05 449.74 L279.38 450.02 L279.72 450.26 L280.07 450.45 L280.43 450.62 L280.79 450.77 L281.15 450.90 L281.51 451.02 L281.88 451.15 L282.24 451.29 L282.59 451.45" fill="none" stroke="#50f0f0" stroke-width="1.30" stroke-linejoin="round" stroke-opacity="0.62"/>
<path d="M241.40 329.35 L241.42 335.52 L241.43 341.78 L241.45 348.10 L241.46 354.43 L241.47 360.73 L241.49 366.96 L241.51 373.09 L241.54 379.06 L241.58 384.85 L241.63 390.40 L241.65 394.80 L241.64 399.27 L241.62 403.74 L241.59 408.15 L241.58 412.43 L241.60 416.51 L241.66 420.32 L241.80 423.80 L242.01 426.87 L242.32 429.47 L242.47 430.47 L242.61 431.38 L242.75 432.22 L242.90 432.99 L243.06 433.71 L243.26 434.38 L243.49 435.02 L243.76 435.63 L244.09 436.22 L244.49 436.80 L244.96 437.36 L245.49 437.89 L246.08 438.38 L246.71 438.84 L247.39 439.27 L248.09 439.67 L248.81 440.05 L249.54 440.40 L250.28 440.75 L251.01 441.07 L251.78 441.39 L252.56 441.68 L253.33 441.93 L254.13 442.16 L254.94 442.37 L255.79 442.56 L256.67 442.74 L257.59 442.91 L258.56 443.09 L259.59 443.27 L261.33 443.55 L263.20 443.79 L265.19 444.02 L267.29 444.22 L269.48 444.41 L271.74 444.60 L274.08 444.78 L276.46 444.96 L278.89 445.15 L281.34 445.35 L284.65 445.62 L288.16 445.91 L291.84 446.20 L295.63 446.50 L299.48 446.79 L303.35 447.08 L307.19 447.35 L310.96 447.60 L314.60 447.83 L318.07 448.03 L320.89 448.17 L323.66 448.28 L326.39 448.37 L329.06 448.44 L331.70 448.50 L334.30 448.57 L336.87 448.65 L339.40 448.74 L341.91 448.86 L344.39 449.01 L346.62 449.18 L348.91 449.38 L351.22 449.60 L353.52 449.84 L355.77 450.09 L357.93 450.33 L359.97 450.55 L361.85 450.76 L363.53 450.94 L364.98 451.08 L365.57 451.14 L366.11 451.18 L366.60 451.22 L367.05 451.26 L367.48 451.29 L367.89 451.32 L368.29 451.35 L368.70 451.38 L369.12 451.42 L369.56 451.45" fill="none" stroke="#5555f0" stroke-width="1.30" stroke-linejoin="round" stroke-opacity="0.62"/>
<path d="M241.40 329.35 L241.58 332.85 L241.73 336.51 L241.85 340.26 L241.96 344.03 L242.09 347.76 L242.24 351.38 L242.44 354.80 L242.70 357.98 L243.03 360.83 L243.46 363.30 L243.70 364.41 L243.95 365.45 L244.20 366.41 L244.46 367.30 L244.75 368.14 L245.05 368.93 L245.39 369.69 L245.77 370.42 L246.19 371.13 L246.66 371.84 L247.18 372.50 L247.75 373.12 L248.37 373.69 L249.03 374.24 L249.72 374.77 L250.42 375.28 L251.13 375.78 L251.83 376.29 L252.52 376.80 L253.19 377.34 L253.83 377.88 L254.47 378.43 L255.10 378.99 L255.74 379.54 L256.37 380.09 L257.01 380.63 L257.65 381.17 L258.29 381.70 L258.94 382.21 L259.59 382.71 L260.24 383.15 L260.90 383.54 L261.58 383.90 L262.26 384.24 L262.94 384.59 L263.61 384.96 L264.27 385.36 L264.91 385.82 L265.53 386.36 L266.12 386.98 L266.91 388.08 L267.64 389.36 L268.32 390.79 L268.96 392.34 L269.58 393.97 L270.18 395.65 L270.77 397.34 L271.37 399.01 L271.99 400.61 L272.64 402.12 L273.27 403.47 L273.92 404.81 L274.57 406.12 L275.22 407.43 L275.88 408.72 L276.53 410.01 L277.18 411.30 L277.81 412.59 L278.44 413.88 L279.05 415.19 L279.63 416.48 L280.20 417.77 L280.76 419.06 L281.31 420.36 L281.85 421.65 L282.39 422.95 L282.92 424.24 L283.46 425.54 L284.00 426.83 L284.54 428.13 L285.07 429.45 L285.57 430.80 L286.07 432.18 L286.56 433.57 L287.05 434.94 L287.56 436.29 L288.09 437.59 L288.65 438.83 L289.26 440.00 L289.92 441.07 L290.46 441.88 L291.00 442.66 L291.54 443.40 L292.10 444.11 L292.69 444.78 L293.31 445.41 L293.99 446.01 L294.72 446.56 L295.54 447.07 L296.44 447.54 L298.02 448.15 L299.83 448.61 L301.83 448.94 L303.97 449.17 L306.24 449.32 L308.58 449.42 L310.98 449.48 L313.38 449.54 L315.75 449.62 L318.07 449.74 L320.59 449.88 L323.14 450.00 L325.73 450.08 L328.35 450.15 L330.99 450.20 L333.65 450.25 L336.33 450.29 L339.01 450.34 L341.70 450.40 L344.39 450.47 L347.20 450.56 L350.03 450.65 L352.88 450.75 L355.74 450.85 L358.61 450.95 L361.49 451.05 L364.37 451.15 L367.25 451.25 L370.13 451.35 L372.99 451.45" fill="none" stroke="#f5f050" stroke-width="1.30" stroke-linejoin="round" stroke-opacity="0.62"/>
<path d="M241.40 329.35 L241.48 333.23 L241.55 337.17 L241.60 341.16 L241.66 345.16 L241.72 349.14 L241.79 353.07 L241.88 356.91 L241.99 360.62 L242.13 364.19 L242.32 367.57 L242.43 370.03 L242.50 372.47 L242.54 374.87 L242.58 377.21 L242.65 379.48 L242.79 381.66 L243.01 383.74 L243.35 385.69 L243.83 387.51 L244.49 389.18 L245.11 390.31 L245.84 391.33 L246.66 392.26 L247.54 393.12 L248.46 393.92 L249.42 394.69 L250.39 395.45 L251.36 396.22 L252.29 397.01 L253.19 397.85 L254.05 398.71 L254.91 399.56 L255.78 400.41 L256.64 401.25 L257.51 402.10 L258.37 402.95 L259.23 403.82 L260.08 404.70 L260.93 405.60 L261.77 406.52 L262.66 407.53 L263.57 408.56 L264.47 409.61 L265.37 410.67 L266.27 411.75 L267.15 412.85 L268.01 413.95 L268.86 415.05 L269.68 416.16 L270.46 417.26 L271.20 418.32 L271.92 419.38 L272.62 420.45 L273.30 421.52 L273.97 422.60 L274.62 423.68 L275.25 424.78 L275.85 425.88 L276.43 427.00 L276.99 428.13 L277.50 429.29 L277.95 430.49 L278.35 431.72 L278.74 432.96 L279.11 434.21 L279.48 435.44 L279.87 436.65 L280.31 437.81 L280.79 438.93 L281.34 439.97 L281.86 440.86 L282.40 441.74 L282.97 442.60 L283.55 443.43 L284.16 444.23 L284.80 444.99 L285.47 445.71 L286.19 446.38 L286.94 446.99 L287.74 447.54 L288.64 448.05 L289.58 448.48 L290.56 448.84 L291.59 449.14 L292.65 449.39 L293.76 449.61 L294.91 449.80 L296.10 449.98 L297.34 450.16 L298.61 450.35 L300.55 450.60 L302.64 450.79 L304.84 450.93 L307.15 451.04 L309.52 451.11 L311.93 451.17 L314.36 451.23 L316.78 451.29 L319.17 451.36 L321.50 451.45" fill="none" stroke="#50f050" stroke-width="1.30" stroke-linejoin="round" stroke-opacity="0.62"/>
<g font-family='"Liberation Serif", serif'><text transform="translate(356.00 337.55) scale(0.1100 0.0930)" font-size="72.00" fill="#202020" stroke="#202020" stroke-width="1.80">PTV</text><text transform="translate(356.00 343.75) scale(0.1100 0.0930)" font-size="72.00" fill="#ff40ff" stroke="#ff40ff" stroke-width="1.80">Duodenum</text><text transform="translate(356.00 349.95) scale(0.1100 0.0930)" font-size="72.00" fill="#40f0f0" stroke="#40f0f0" stroke-width="1.80">Spinal cord</text><text transform="translate(356.00 356.15) scale(0.1100 0.0930)" font-size="72.00" fill="#4040f0" stroke="#4040f0" stroke-width="1.80">Stomach</text><text transform="translate(356.00 362.35) scale(0.1100 0.0930)" font-size="72.00" fill="#f0f040" stroke="#f0f040" stroke-width="1.80">Kidney L</text><text transform="translate(356.00 368.55) scale(0.1100 0.0930)" font-size="72.00" fill="#40f040" stroke="#40f040" stroke-width="1.80">Kidney R</text></g>
<g font-family='"Liberation Serif", serif'><text transform="translate(241.40 461.15) scale(1.120 1.000)" text-anchor="middle" font-size="9.00" fill="#525252" stroke="#525252" stroke-width="0.20">0</text><text transform="translate(264.29 461.15) scale(1.120 1.000)" text-anchor="middle" font-size="9.00" fill="#525252" stroke="#525252" stroke-width="0.20">20</text><text transform="translate(287.17 461.15) scale(1.120 1.000)" text-anchor="middle" font-size="9.00" fill="#525252" stroke="#525252" stroke-width="0.20">40</text><text transform="translate(310.06 461.15) scale(1.120 1.000)" text-anchor="middle" font-size="9.00" fill="#525252" stroke="#525252" stroke-width="0.20">60</text><text transform="translate(332.94 461.15) scale(1.120 1.000)" text-anchor="middle" font-size="9.00" fill="#525252" stroke="#525252" stroke-width="0.20">80</text><text transform="translate(355.83 461.15) scale(1.120 1.000)" text-anchor="middle" font-size="9.00" fill="#525252" stroke="#525252" stroke-width="0.20">100</text><text transform="translate(378.71 461.15) scale(1.120 1.000)" text-anchor="middle" font-size="9.00" fill="#525252" stroke="#525252" stroke-width="0.20">120</text><text transform="translate(239.50 454.45) scale(1.080 1.000)" text-anchor="end" font-size="9.00" fill="#525252" stroke="#525252" stroke-width="0.20">0</text><text transform="translate(239.50 430.03) scale(1.080 1.000)" text-anchor="end" font-size="9.00" fill="#525252" stroke="#525252" stroke-width="0.20">20</text><text transform="translate(239.50 405.61) scale(1.080 1.000)" text-anchor="end" font-size="9.00" fill="#525252" stroke="#525252" stroke-width="0.20">40</text><text transform="translate(239.50 381.19) scale(1.080 1.000)" text-anchor="end" font-size="9.00" fill="#525252" stroke="#525252" stroke-width="0.20">60</text><text transform="translate(239.50 356.77) scale(1.080 1.000)" text-anchor="end" font-size="9.00" fill="#525252" stroke="#525252" stroke-width="0.20">80</text><text transform="translate(239.50 332.35) scale(1.080 1.000)" text-anchor="end" font-size="9.00" fill="#525252" stroke="#525252" stroke-width="0.20">100</text><text transform="translate(321.50 469.95)" text-anchor="middle" font-size="8.80" fill="#525252" stroke="#525252" stroke-width="0.25">Dose [%]</text><text transform="translate(223.60 387.35) rotate(-90) scale(1.035 1.000)" text-anchor="middle" font-size="8.60" fill="#525252" stroke="#525252" stroke-width="0.25">Volume [%]</text><path d="M246.60 338.85 H251.60" stroke="#505050" stroke-width="0.6"/><rect x="246.80" y="347.85" width="1" height="1" fill="#606060"/><rect x="248.60" y="347.85" width="1" height="1" fill="#606060"/><rect x="250.40" y="347.85" width="1" height="1" fill="#606060"/><text transform="translate(252.40 341.25) scale(1.050 1.000)" font-size="7.60" fill="#262626" stroke="#262626" stroke-width="0.22">MC</text><text transform="translate(252.30 351.15) scale(1.050 1.000)" font-size="7.60" fill="#262626" stroke="#262626" stroke-width="0.22">A</text></g>
<rect x="440.00" y="323.25" width="160.20" height="128.20" fill="none" stroke="#dedede" stroke-width="1.1"/>
<path d="M440.00 451.45 V449.65 M440.00 323.25 V325.05 M462.89 451.45 V449.65 M462.89 323.25 V325.05 M485.77 451.45 V449.65 M485.77 323.25 V325.05 M508.66 451.45 V449.65 M508.66 323.25 V325.05 M531.54 451.45 V449.65 M531.54 323.25 V325.05 M554.43 451.45 V449.65 M554.43 323.25 V325.05 M577.31 451.45 V449.65 M577.31 323.25 V325.05 M600.20 451.45 V449.65 M600.20 323.25 V325.05 M440.00 451.45 H441.80 M600.20 451.45 H598.40 M440.00 427.03 H441.80 M600.20 427.03 H598.40 M440.00 402.61 H441.80 M600.20 402.61 H598.40 M440.00 378.19 H441.80 M600.20 378.19 H598.40 M440.00 353.77 H441.80 M600.20 353.77 H598.40 M440.00 329.35 H441.80 M600.20 329.35 H598.40" stroke="#c8c8c8" stroke-width="0.9" fill="none"/>
<path d="M440.00 329.35 L448.82 329.35 L458.19 329.35 L467.87 329.35 L477.63 329.35 L487.24 329.35 L496.45 329.35 L505.03 329.35 L512.76 329.35 L519.38 329.35 L524.68 329.35 L526.27 329.42 L527.70 329.47 L529.00 329.52 L530.19 329.56 L531.29 329.62 L532.31 329.70 L533.28 329.81 L534.23 329.97 L535.17 330.18 L536.12 330.45 L536.90 330.73 L537.66 331.03 L538.39 331.36 L539.10 331.73 L539.78 332.11 L540.44 332.52 L541.08 332.96 L541.70 333.41 L542.29 333.88 L542.87 334.36 L543.41 334.84 L543.93 335.33 L544.43 335.83 L544.91 336.35 L545.37 336.90 L545.81 337.46 L546.23 338.05 L546.62 338.66 L546.99 339.30 L547.33 339.98 L547.70 340.83 L548.02 341.72 L548.29 342.66 L548.53 343.64 L548.74 344.65 L548.93 345.69 L549.10 346.76 L549.27 347.85 L549.44 348.97 L549.62 350.11 L549.85 351.61 L550.04 353.16 L550.22 354.76 L550.38 356.40 L550.52 358.09 L550.67 359.81 L550.82 361.56 L550.98 363.34 L551.15 365.14 L551.34 366.96 L551.59 369.16 L551.86 371.43 L552.14 373.76 L552.44 376.14 L552.74 378.54 L553.04 380.96 L553.34 383.37 L553.64 385.76 L553.93 388.11 L554.20 390.40 L554.44 392.51 L554.68 394.61 L554.91 396.71 L555.14 398.79 L555.36 400.85 L555.59 402.89 L555.81 404.91 L556.03 406.91 L556.26 408.87 L556.49 410.79 L556.69 412.46 L556.88 414.12 L557.07 415.75 L557.26 417.37 L557.45 418.96 L557.64 420.53 L557.85 422.08 L558.07 423.60 L558.30 425.09 L558.55 426.54 L558.77 427.76 L558.99 428.96 L559.22 430.14 L559.46 431.29 L559.70 432.43 L559.96 433.55 L560.23 434.65 L560.52 435.75 L560.84 436.83 L561.18 437.90 L561.51 438.91 L561.85 439.95 L562.20 441.00 L562.57 442.04 L562.95 443.06 L563.35 444.04 L563.79 444.97 L564.25 445.83 L564.76 446.61 L565.30 447.30 L565.75 447.76 L566.24 448.17 L566.75 448.54 L567.28 448.87 L567.83 449.17 L568.38 449.44 L568.94 449.69 L569.49 449.92 L570.03 450.14 L570.56 450.35 L571.01 450.52 L571.46 450.66 L571.91 450.79 L572.36 450.89 L572.80 450.99 L573.25 451.08 L573.69 451.17 L574.13 451.25 L574.58 451.35 L575.03 451.45" fill="none" stroke="#383838" stroke-width="1.05" stroke-linejoin="round" stroke-opacity="0.75"/>
<path d="M440.00 329.35 L440.11 332.15 L440.19 335.05 L440.25 338.01 L440.31 340.97 L440.37 343.92 L440.46 346.78 L440.59 349.54 L440.78 352.14 L441.03 354.54 L441.37 356.70 L441.61 357.91 L441.84 359.04 L442.08 360.11 L442.34 361.12 L442.62 362.08 L442.94 363.00 L443.29 363.89 L443.70 364.76 L444.16 365.62 L444.69 366.47 L445.33 367.35 L446.06 368.21 L446.86 369.04 L447.71 369.84 L448.60 370.61 L449.53 371.36 L450.47 372.07 L451.42 372.76 L452.36 373.42 L453.27 374.04 L454.12 374.57 L454.97 375.05 L455.84 375.49 L456.72 375.90 L457.60 376.29 L458.49 376.68 L459.37 377.07 L460.25 377.49 L461.12 377.94 L461.97 378.44 L462.87 378.99 L463.78 379.56 L464.70 380.13 L465.61 380.73 L466.51 381.34 L467.40 381.98 L468.27 382.66 L469.10 383.37 L469.91 384.11 L470.67 384.91 L471.43 385.82 L472.14 386.80 L472.81 387.84 L473.45 388.92 L474.06 390.03 L474.65 391.16 L475.24 392.30 L475.84 393.44 L476.44 394.56 L477.07 395.65 L477.72 396.74 L478.35 397.83 L478.97 398.93 L479.59 400.02 L480.22 401.12 L480.86 402.21 L481.51 403.30 L482.18 404.38 L482.87 405.45 L483.60 406.52 L484.38 407.64 L485.18 408.79 L486.00 409.96 L486.84 411.12 L487.70 412.26 L488.58 413.38 L489.47 414.45 L490.39 415.47 L491.33 416.41 L492.29 417.26 L493.15 417.93 L494.02 418.52 L494.90 419.04 L495.79 419.53 L496.71 419.98 L497.64 420.42 L498.59 420.85 L499.56 421.29 L500.55 421.76 L501.56 422.27 L502.83 422.92 L504.13 423.58 L505.47 424.25 L506.83 424.92 L508.23 425.61 L509.65 426.31 L511.09 427.02 L512.55 427.74 L514.03 428.48 L515.52 429.23 L517.34 430.12 L519.24 431.02 L521.22 431.94 L523.23 432.87 L525.25 433.82 L527.26 434.79 L529.21 435.79 L531.10 436.83 L532.87 437.89 L534.52 439.00 L535.79 440.00 L536.98 441.11 L538.10 442.29 L539.18 443.50 L540.21 444.70 L541.22 445.87 L542.23 446.97 L543.25 447.96 L544.30 448.82 L545.39 449.50 L546.27 449.90 L547.19 450.22 L548.13 450.46 L549.08 450.65 L550.03 450.80 L550.95 450.90 L551.83 450.99 L552.66 451.06 L553.42 451.13 L554.09 451.21 L554.41 451.25 L554.71 451.29 L554.98 451.31 L555.25 451.34 L555.49 451.36 L555.74 451.38 L555.97 451.39 L556.21 451.41 L556.46 451.43 L556.72 451.45" fill="none" stroke="#f555f5" stroke-width="1.30" stroke-linejoin="round" stroke-opacity="0.62"/>
<path d="M440.00 329.35 L440.03 336.79 L440.06 344.41 L440.09 352.12 L440.11 359.86 L440.14 367.55 L440.17 375.12 L440.20 382.48 L440.24 389.57 L440.29 396.30 L440.34 402.61 L440.37 406.92 L440.37 411.24 L440.35 415.50 L440.33 419.66 L440.32 423.65 L440.34 427.42 L440.39 430.93 L440.50 434.10 L440.67 436.89 L440.92 439.24 L441.02 440.08 L441.12 440.85 L441.20 441.56 L441.29 442.21 L441.40 442.81 L441.53 443.37 L441.70 443.90 L441.91 444.40 L442.18 444.88 L442.52 445.35 L442.96 445.82 L443.46 446.25 L444.02 446.64 L444.64 446.99 L445.30 447.31 L446.00 447.61 L446.73 447.89 L447.48 448.15 L448.26 448.40 L449.04 448.64 L450.13 448.94 L451.28 449.19 L452.49 449.40 L453.76 449.58 L455.07 449.73 L456.41 449.87 L457.78 449.99 L459.17 450.10 L460.57 450.22 L461.97 450.35 L463.65 450.50 L465.39 450.63 L467.17 450.75 L468.98 450.86 L470.82 450.96 L472.67 451.06 L474.53 451.15 L476.38 451.25 L478.23 451.34 L480.05 451.45" fill="none" stroke="#50f0f0" stroke-width="1.30" stroke-linejoin="round" stroke-opacity="0.62"/>
<path d="M440.00 329.35 L440.02 335.52 L440.03 341.78 L440.05 348.10 L440.06 354.43 L440.07 360.73 L440.09 366.96 L440.11 373.09 L440.14 379.06 L440.18 384.85 L440.23 390.40 L440.26 394.83 L440.25 399.36 L440.23 403.92 L440.22 408.42 L440.21 412.78 L440.24 416.91 L440.31 420.73 L440.43 424.15 L440.63 427.10 L440.92 429.47 L441.03 430.19 L441.14 430.83 L441.24 431.41 L441.35 431.92 L441.47 432.40 L441.61 432.85 L441.78 433.28 L441.98 433.70 L442.22 434.14 L442.52 434.60 L442.95 435.20 L443.45 435.79 L444.00 436.38 L444.60 436.95 L445.26 437.51 L445.95 438.06 L446.68 438.58 L447.44 439.07 L448.23 439.54 L449.04 439.97 L450.11 440.46 L451.26 440.90 L452.47 441.29 L453.73 441.63 L455.05 441.95 L456.40 442.24 L457.77 442.50 L459.17 442.76 L460.57 443.01 L461.97 443.27 L463.56 443.55 L465.15 443.81 L466.75 444.04 L468.38 444.25 L470.03 444.45 L471.74 444.63 L473.50 444.81 L475.33 444.99 L477.24 445.16 L479.25 445.35 L482.40 445.61 L485.82 445.86 L489.47 446.09 L493.27 446.32 L497.17 446.54 L501.11 446.75 L505.03 446.95 L508.87 447.15 L512.58 447.35 L516.10 447.54 L518.97 447.70 L521.80 447.84 L524.59 447.98 L527.33 448.11 L530.03 448.24 L532.69 448.37 L535.32 448.51 L537.91 448.66 L540.46 448.82 L542.99 449.01 L545.22 449.19 L547.52 449.40 L549.84 449.63 L552.13 449.87 L554.38 450.11 L556.54 450.35 L558.58 450.57 L560.45 450.77 L562.13 450.94 L563.58 451.08 L564.17 451.14 L564.71 451.18 L565.20 451.22 L565.65 451.26 L566.08 451.29 L566.49 451.32 L566.89 451.35 L567.30 451.38 L567.72 451.42 L568.16 451.45" fill="none" stroke="#5555f0" stroke-width="1.30" stroke-linejoin="round" stroke-opacity="0.62"/>
<path d="M440.00 329.35 L440.12 330.81 L440.23 332.30 L440.32 333.80 L440.40 335.31 L440.49 336.81 L440.60 338.29 L440.74 339.73 L440.90 341.14 L441.11 342.48 L441.37 343.76 L441.60 344.75 L441.83 345.71 L442.07 346.66 L442.33 347.58 L442.61 348.47 L442.92 349.33 L443.28 350.16 L443.69 350.96 L444.16 351.72 L444.69 352.43 L445.34 353.12 L446.07 353.76 L446.87 354.35 L447.73 354.89 L448.64 355.41 L449.57 355.90 L450.51 356.38 L451.46 356.85 L452.38 357.32 L453.27 357.80 L454.15 358.27 L455.06 358.70 L455.98 359.12 L456.92 359.52 L457.84 359.92 L458.75 360.33 L459.63 360.75 L460.47 361.20 L461.25 361.68 L461.97 362.20 L462.52 362.66 L463.03 363.12 L463.51 363.58 L463.96 364.06 L464.39 364.56 L464.79 365.08 L465.19 365.64 L465.57 366.23 L465.94 366.88 L466.32 367.57 L466.86 368.74 L467.36 370.06 L467.82 371.49 L468.25 373.02 L468.66 374.61 L469.06 376.25 L469.45 377.90 L469.84 379.55 L470.24 381.16 L470.67 382.71 L471.10 384.22 L471.54 385.74 L471.97 387.25 L472.41 388.77 L472.85 390.28 L473.28 391.79 L473.72 393.31 L474.15 394.82 L474.58 396.34 L475.02 397.85 L475.44 399.36 L475.84 400.86 L476.24 402.37 L476.63 403.87 L477.03 405.37 L477.44 406.88 L477.86 408.39 L478.30 409.91 L478.76 411.44 L479.25 412.99 L479.82 414.70 L480.41 416.44 L481.03 418.21 L481.67 420.00 L482.33 421.78 L483.00 423.55 L483.69 425.31 L484.38 427.03 L485.07 428.71 L485.77 430.33 L486.38 431.74 L486.99 433.17 L487.60 434.59 L488.22 435.99 L488.85 437.36 L489.49 438.68 L490.15 439.95 L490.83 441.15 L491.55 442.26 L492.29 443.27 L492.87 443.98 L493.44 444.64 L494.01 445.27 L494.59 445.85 L495.19 446.40 L495.82 446.91 L496.48 447.39 L497.20 447.83 L497.97 448.25 L498.82 448.64 L500.15 449.13 L501.61 449.53 L503.19 449.84 L504.87 450.07 L506.63 450.26 L508.46 450.40 L510.33 450.52 L512.24 450.62 L514.17 450.72 L516.10 450.84 L518.54 450.98 L521.08 451.06 L523.69 451.11 L526.38 451.13 L529.11 451.13 L531.88 451.11 L534.67 451.09 L537.46 451.07 L540.24 451.07 L542.99 451.08 L545.81 451.12 L548.65 451.15 L551.50 451.19 L554.36 451.22 L557.23 451.26 L560.11 451.30 L562.98 451.34 L565.86 451.37 L568.73 451.41 L571.59 451.45" fill="none" stroke="#f5f050" stroke-width="1.30" stroke-linejoin="round" stroke-opacity="0.62"/>
<path d="M440.00 329.35 L440.03 329.91 L440.07 330.43 L440.10 330.94 L440.13 331.44 L440.17 331.95 L440.20 332.48 L440.23 333.05 L440.27 333.67 L440.31 334.34 L440.34 335.09 L440.39 337.15 L440.40 339.73 L440.37 342.71 L440.34 345.94 L440.33 349.29 L440.36 352.64 L440.46 355.84 L440.64 358.78 L440.94 361.31 L441.37 363.30 L441.62 364.04 L441.88 364.70 L442.15 365.30 L442.43 365.83 L442.74 366.33 L443.07 366.79 L443.43 367.25 L443.82 367.70 L444.24 368.17 L444.69 368.67 L445.37 369.33 L446.14 369.96 L446.98 370.57 L447.89 371.17 L448.82 371.77 L449.77 372.38 L450.72 373.01 L451.63 373.68 L452.49 374.38 L453.27 375.14 L454.03 375.98 L454.75 376.85 L455.44 377.76 L456.11 378.69 L456.75 379.66 L457.37 380.66 L457.99 381.68 L458.59 382.73 L459.19 383.81 L459.80 384.91 L460.51 386.28 L461.21 387.73 L461.89 389.25 L462.57 390.81 L463.23 392.39 L463.88 393.99 L464.51 395.57 L465.13 397.12 L465.73 398.62 L466.32 400.05 L466.78 401.20 L467.22 402.34 L467.62 403.46 L468.02 404.56 L468.41 405.64 L468.81 406.71 L469.22 407.76 L469.66 408.79 L470.14 409.80 L470.67 410.79 L471.23 411.72 L471.84 412.60 L472.50 413.46 L473.18 414.30 L473.87 415.12 L474.56 415.95 L475.24 416.79 L475.90 417.64 L476.51 418.53 L477.07 419.46 L477.61 420.47 L478.10 421.52 L478.55 422.59 L478.98 423.68 L479.40 424.78 L479.80 425.90 L480.19 427.01 L480.59 428.13 L481.00 429.24 L481.42 430.33 L481.84 431.42 L482.24 432.54 L482.63 433.67 L483.01 434.81 L483.40 435.93 L483.80 437.04 L484.23 438.12 L484.70 439.16 L485.21 440.15 L485.77 441.07 L486.31 441.85 L486.88 442.61 L487.48 443.34 L488.09 444.05 L488.74 444.72 L489.41 445.36 L490.10 445.96 L490.81 446.53 L491.54 447.06 L492.29 447.54 L493.06 447.98 L493.83 448.36 L494.63 448.71 L495.44 449.01 L496.28 449.28 L497.14 449.52 L498.04 449.75 L498.98 449.95 L499.96 450.15 L500.99 450.35 L502.59 450.60 L504.32 450.80 L506.16 450.94 L508.08 451.04 L510.06 451.12 L512.09 451.18 L514.12 451.23 L516.15 451.29 L518.15 451.36 L520.10 451.45" fill="none" stroke="#50f050" stroke-width="1.30" stroke-linejoin="round" stroke-opacity="0.62"/>
<g font-family='"Liberation Serif", serif'><text transform="translate(554.60 337.55) scale(0.1100 0.0930)" font-size="72.00" fill="#202020" stroke="#202020" stroke-width="1.80">PTV</text><text transform="translate(554.60 343.75) scale(0.1100 0.0930)" font-size="72.00" fill="#ff40ff" stroke="#ff40ff" stroke-width="1.80">Duodenum</text><text transform="translate(554.60 349.95) scale(0.1100 0.0930)" font-size="72.00" fill="#40f0f0" stroke="#40f0f0" stroke-width="1.80">Spinal cord</text><text transform="translate(554.60 356.15) scale(0.1100 0.0930)" font-size="72.00" fill="#4040f0" stroke="#4040f0" stroke-width="1.80">Stomach</text><text transform="translate(554.60 362.35) scale(0.1100 0.0930)" font-size="72.00" fill="#f0f040" stroke="#f0f040" stroke-width="1.80">Kidney L</text><text transform="translate(554.60 368.55) scale(0.1100 0.0930)" font-size="72.00" fill="#40f040" stroke="#40f040" stroke-width="1.80">Kidney R</text></g>
<g font-family='"Liberation Serif", serif'><text transform="translate(440.00 461.15) scale(1.120 1.000)" text-anchor="middle" font-size="9.00" fill="#525252" stroke="#525252" stroke-width="0.20">0</text><text transform="translate(462.89 461.15) scale(1.120 1.000)" text-anchor="middle" font-size="9.00" fill="#525252" stroke="#525252" stroke-width="0.20">20</text><text transform="translate(485.77 461.15) scale(1.120 1.000)" text-anchor="middle" font-size="9.00" fill="#525252" stroke="#525252" stroke-width="0.20">40</text><text transform="translate(508.66 461.15) scale(1.120 1.000)" text-anchor="middle" font-size="9.00" fill="#525252" stroke="#525252" stroke-width="0.20">60</text><text transform="translate(531.54 461.15) scale(1.120 1.000)" text-anchor="middle" font-size="9.00" fill="#525252" stroke="#525252" stroke-width="0.20">80</text><text transform="translate(554.43 461.15) scale(1.120 1.000)" text-anchor="middle" font-size="9.00" fill="#525252" stroke="#525252" stroke-width="0.20">100</text><text transform="translate(577.31 461.15) scale(1.120 1.000)" text-anchor="middle" font-size="9.00" fill="#525252" stroke="#525252" stroke-width="0.20">120</text><text transform="translate(438.10 454.45) scale(1.080 1.000)" text-anchor="end" font-size="9.00" fill="#525252" stroke="#525252" stroke-width="0.20">0</text><text transform="translate(438.10 430.03) scale(1.080 1.000)" text-anchor="end" font-size="9.00" fill="#525252" stroke="#525252" stroke-width="0.20">20</text><text transform="translate(438.10 405.61) scale(1.080 1.000)" text-anchor="end" font-size="9.00" fill="#525252" stroke="#525252" stroke-width="0.20">40</text><text transform="translate(438.10 381.19) scale(1.080 1.000)" text-anchor="end" font-size="9.00" fill="#525252" stroke="#525252" stroke-width="0.20">60</text><text transform="translate(438.10 356.77) scale(1.080 1.000)" text-anchor="end" font-size="9.00" fill="#525252" stroke="#525252" stroke-width="0.20">80</text><text transform="translate(438.10 332.35) scale(1.080 1.000)" text-anchor="end" font-size="9.00" fill="#525252" stroke="#525252" stroke-width="0.20">100</text><text transform="translate(520.10 469.95)" text-anchor="middle" font-size="8.80" fill="#525252" stroke="#525252" stroke-width="0.25">Dose [%]</text><text transform="translate(422.20 387.35) rotate(-90) scale(1.035 1.000)" text-anchor="middle" font-size="8.60" fill="#525252" stroke="#525252" stroke-width="0.25">Volume [%]</text><path d="M445.20 338.85 H450.20" stroke="#505050" stroke-width="0.6"/><rect x="445.40" y="347.85" width="1" height="1" fill="#606060"/><rect x="447.20" y="347.85" width="1" height="1" fill="#606060"/><rect x="449.00" y="347.85" width="1" height="1" fill="#606060"/><text transform="translate(451.00 341.25) scale(1.050 1.000)" font-size="7.60" fill="#262626" stroke="#262626" stroke-width="0.22">MC</text><text transform="translate(450.90 351.15) scale(1.050 1.000)" font-size="7.60" fill="#262626" stroke="#262626" stroke-width="0.22">A</text></g>
<rect x="42.70" y="475.80" width="160.20" height="128.20" fill="none" stroke="#dedede" stroke-width="1.1"/>
<path d="M42.70 604.00 V602.20 M42.70 475.80 V477.60 M65.59 604.00 V602.20 M65.59 475.80 V477.60 M88.47 604.00 V602.20 M88.47 475.80 V477.60 M111.36 604.00 V602.20 M111.36 475.80 V477.60 M134.24 604.00 V602.20 M134.24 475.80 V477.60 M157.13 604.00 V602.20 M157.13 475.80 V477.60 M180.01 604.00 V602.20 M180.01 475.80 V477.60 M202.90 604.00 V602.20 M202.90 475.80 V477.60 M42.70 604.00 H44.50 M202.90 604.00 H201.10 M42.70 579.58 H44.50 M202.90 579.58 H201.10 M42.70 555.16 H44.50 M202.90 555.16 H201.10 M42.70 530.74 H44.50 M202.90 530.74 H201.10 M42.70 506.32 H44.50 M202.90 506.32 H201.10 M42.70 481.90 H44.50 M202.90 481.90 H201.10" stroke="#c8c8c8" stroke-width="0.9" fill="none"/>
<path d="M42.70 481.90 L52.93 481.90 L63.96 481.90 L75.43 481.90 L87.02 481.90 L98.39 481.90 L109.18 481.90 L119.08 481.90 L127.73 481.90 L134.81 481.90 L139.96 481.90 L140.98 481.90 L141.88 481.90 L142.68 481.90 L143.39 481.90 L144.03 481.90 L144.62 481.90 L145.18 481.90 L145.72 481.90 L146.27 481.90 L146.83 481.90 L147.30 482.02 L147.76 482.15 L148.21 482.29 L148.65 482.44 L149.07 482.62 L149.47 482.82 L149.85 483.06 L150.21 483.32 L150.54 483.63 L150.83 483.98 L151.17 484.52 L151.44 485.14 L151.65 485.83 L151.81 486.59 L151.93 487.39 L152.03 488.24 L152.12 489.13 L152.21 490.04 L152.31 490.97 L152.44 491.92 L152.63 493.34 L152.81 494.86 L152.98 496.47 L153.13 498.15 L153.28 499.88 L153.43 501.64 L153.58 503.42 L153.73 505.19 L153.88 506.94 L154.04 508.64 L154.21 510.34 L154.38 512.03 L154.56 513.72 L154.75 515.41 L154.93 517.11 L155.11 518.81 L155.28 520.50 L155.45 522.21 L155.61 523.91 L155.76 525.61 L155.89 527.33 L156.02 529.05 L156.14 530.76 L156.25 532.48 L156.36 534.20 L156.46 535.92 L156.57 537.66 L156.67 539.41 L156.78 541.17 L156.90 542.95 L157.03 544.90 L157.16 546.88 L157.29 548.90 L157.42 550.93 L157.55 552.97 L157.68 555.00 L157.82 557.02 L157.97 559.01 L158.12 560.96 L158.27 562.85 L158.41 564.51 L158.55 566.14 L158.70 567.76 L158.84 569.36 L158.99 570.94 L159.15 572.50 L159.31 574.04 L159.49 575.55 L159.67 577.03 L159.87 578.48 L160.05 579.71 L160.23 580.91 L160.41 582.09 L160.59 583.25 L160.79 584.39 L161.00 585.52 L161.22 586.64 L161.47 587.75 L161.74 588.85 L162.05 589.96 L162.37 591.06 L162.72 592.20 L163.08 593.36 L163.47 594.52 L163.87 595.66 L164.30 596.75 L164.74 597.79 L165.20 598.74 L165.68 599.60 L166.17 600.34 L166.49 600.75 L166.82 601.12 L167.15 601.46 L167.49 601.77 L167.84 602.06 L168.19 602.31 L168.56 602.55 L168.93 602.76 L169.32 602.96 L169.72 603.15 L170.14 603.31 L170.58 603.44 L171.04 603.54 L171.51 603.62 L171.98 603.68 L172.46 603.73 L172.94 603.77 L173.40 603.81 L173.86 603.84 L174.29 603.88 L174.66 603.91 L175.01 603.93 L175.36 603.95 L175.70 603.96 L176.04 603.97 L176.38 603.97 L176.71 603.98 L177.05 603.98 L177.38 603.99 L177.73 604.00" fill="none" stroke="#383838" stroke-width="1.05" stroke-linejoin="round" stroke-opacity="0.75"/>
<path d="M42.70 481.90 L42.73 482.02 L42.77 482.13 L42.80 482.23 L42.83 482.33 L42.86 482.43 L42.89 482.54 L42.93 482.66 L42.96 482.80 L43.00 482.95 L43.04 483.13 L43.19 483.87 L43.37 484.86 L43.57 486.06 L43.78 487.40 L44.02 488.85 L44.26 490.36 L44.52 491.87 L44.78 493.33 L45.06 494.71 L45.33 495.95 L45.56 496.90 L45.79 497.85 L46.02 498.78 L46.25 499.70 L46.50 500.59 L46.75 501.46 L47.03 502.30 L47.32 503.11 L47.63 503.88 L47.96 504.61 L48.25 505.16 L48.55 505.68 L48.86 506.18 L49.19 506.65 L49.52 507.11 L49.86 507.55 L50.21 507.98 L50.57 508.41 L50.92 508.83 L51.28 509.25 L51.63 509.65 L51.99 510.05 L52.35 510.44 L52.72 510.82 L53.09 511.20 L53.47 511.56 L53.84 511.92 L54.22 512.26 L54.58 512.60 L54.94 512.92 L55.24 513.18 L55.53 513.42 L55.80 513.65 L56.08 513.87 L56.35 514.08 L56.64 514.30 L56.93 514.52 L57.24 514.74 L57.57 514.98 L57.92 515.24 L58.48 515.64 L59.07 516.07 L59.69 516.52 L60.34 516.98 L61.03 517.45 L61.74 517.93 L62.48 518.42 L63.26 518.91 L64.06 519.40 L64.90 519.88 L66.17 520.56 L67.58 521.28 L69.09 522.02 L70.68 522.77 L72.30 523.51 L73.93 524.24 L75.53 524.95 L77.08 525.63 L78.55 526.26 L79.89 526.84 L80.78 527.22 L81.61 527.57 L82.41 527.90 L83.18 528.22 L83.93 528.52 L84.68 528.82 L85.44 529.11 L86.22 529.40 L87.04 529.70 L87.90 530.01 L89.00 530.39 L90.16 530.77 L91.35 531.14 L92.57 531.52 L93.81 531.90 L95.06 532.27 L96.31 532.65 L97.54 533.03 L98.74 533.41 L99.91 533.80 L100.97 534.15 L102.02 534.51 L103.05 534.86 L104.07 535.22 L105.09 535.58 L106.10 535.94 L107.10 536.31 L108.10 536.68 L109.10 537.06 L110.10 537.46 L111.11 537.87 L112.15 538.30 L113.21 538.75 L114.27 539.20 L115.32 539.66 L116.34 540.11 L117.31 540.55 L118.23 540.98 L119.07 541.37 L119.82 541.73 L120.21 541.92 L120.55 542.09 L120.85 542.26 L121.13 542.41 L121.40 542.56 L121.68 542.71 L121.96 542.87 L122.28 543.04 L122.63 543.23 L123.03 543.44 L124.01 543.94 L125.19 544.54 L126.53 545.20 L127.97 545.92 L129.47 546.66 L130.97 547.40 L132.43 548.12 L133.80 548.79 L135.03 549.40 L136.07 549.91 L136.56 550.15 L137.01 550.35 L137.42 550.54 L137.81 550.71 L138.18 550.87 L138.54 551.04 L138.90 551.21 L139.27 551.40 L139.66 551.62 L140.08 551.87 L140.67 552.23 L141.31 552.63 L141.97 553.06 L142.64 553.51 L143.31 553.98 L143.98 554.48 L144.63 554.99 L145.26 555.52 L145.84 556.07 L146.37 556.63 L146.84 557.17 L147.28 557.73 L147.70 558.31 L148.09 558.90 L148.46 559.51 L148.81 560.13 L149.14 560.78 L149.45 561.45 L149.75 562.14 L150.03 562.85 L150.35 563.77 L150.63 564.73 L150.88 565.73 L151.09 566.77 L151.29 567.84 L151.47 568.92 L151.63 570.01 L151.79 571.10 L151.94 572.17 L152.09 573.23 L152.24 574.28 L152.36 575.32 L152.46 576.38 L152.55 577.43 L152.64 578.48 L152.72 579.53 L152.80 580.59 L152.90 581.64 L153.00 582.69 L153.12 583.73 L153.25 584.78 L153.38 585.85 L153.51 586.92 L153.65 587.99 L153.79 589.05 L153.94 590.11 L154.11 591.15 L154.30 592.16 L154.50 593.15 L154.73 594.11 L154.93 594.93 L155.12 595.75 L155.32 596.58 L155.53 597.40 L155.75 598.20 L156.00 598.96 L156.28 599.67 L156.59 600.33 L156.95 600.92 L157.36 601.44 L157.73 601.79 L158.15 602.10 L158.60 602.36 L159.07 602.59 L159.56 602.79 L160.07 602.96 L160.57 603.12 L161.08 603.26 L161.57 603.38 L162.05 603.51 L162.47 603.61 L162.90 603.69 L163.32 603.76 L163.75 603.80 L164.17 603.84 L164.59 603.87 L165.01 603.90 L165.44 603.92 L165.86 603.96 L166.28 604.00" fill="none" stroke="#f555f5" stroke-width="1.30" stroke-linejoin="round" stroke-opacity="0.62"/>
<path d="M42.70 481.90 L45.05 481.90 L47.52 481.90 L50.06 481.90 L52.62 481.90 L55.14 481.90 L57.58 481.90 L59.88 481.90 L61.98 481.90 L63.85 481.90 L65.41 481.90 L66.01 481.95 L66.55 481.98 L67.03 482.01 L67.47 482.05 L67.89 482.09 L68.29 482.15 L68.69 482.23 L69.09 482.33 L69.51 482.46 L69.97 482.64 L70.60 482.94 L71.25 483.32 L71.92 483.77 L72.59 484.26 L73.26 484.79 L73.93 485.33 L74.59 485.86 L75.24 486.38 L75.86 486.85 L76.45 487.28 L76.89 487.56 L77.32 487.82 L77.75 488.06 L78.16 488.28 L78.57 488.51 L78.96 488.73 L79.35 488.97 L79.74 489.23 L80.11 489.52 L80.49 489.84 L80.91 490.26 L81.32 490.71 L81.71 491.19 L82.10 491.70 L82.48 492.22 L82.85 492.77 L83.22 493.32 L83.59 493.87 L83.96 494.42 L84.32 494.97 L84.70 495.54 L85.06 496.12 L85.41 496.71 L85.76 497.31 L86.11 497.91 L86.46 498.52 L86.82 499.13 L87.20 499.74 L87.60 500.35 L88.02 500.95 L88.54 501.63 L89.11 502.31 L89.71 502.97 L90.33 503.64 L90.97 504.32 L91.60 505.00 L92.21 505.70 L92.80 506.41 L93.35 507.15 L93.85 507.91 L94.32 508.73 L94.74 509.58 L95.12 510.45 L95.47 511.34 L95.81 512.24 L96.14 513.16 L96.47 514.08 L96.81 515.00 L97.18 515.92 L97.57 516.82 L98.01 517.78 L98.46 518.74 L98.93 519.70 L99.41 520.67 L99.89 521.64 L100.38 522.61 L100.86 523.57 L101.35 524.54 L101.82 525.51 L102.29 526.47 L102.73 527.41 L103.16 528.36 L103.58 529.30 L104.00 530.24 L104.42 531.18 L104.84 532.12 L105.27 533.06 L105.72 534.00 L106.18 534.94 L106.67 535.87 L107.21 536.85 L107.79 537.85 L108.39 538.85 L109.00 539.85 L109.63 540.84 L110.25 541.83 L110.86 542.79 L111.45 543.73 L112.01 544.64 L112.53 545.52 L112.90 546.16 L113.25 546.76 L113.57 547.33 L113.88 547.89 L114.19 548.44 L114.50 549.00 L114.81 549.57 L115.14 550.17 L115.50 550.81 L115.88 551.50 L116.51 552.63 L117.19 553.87 L117.91 555.18 L118.66 556.55 L119.43 557.96 L120.22 559.40 L121.03 560.85 L121.84 562.28 L122.65 563.69 L123.45 565.05 L124.24 566.38 L125.05 567.71 L125.87 569.03 L126.69 570.35 L127.52 571.66 L128.35 572.97 L129.19 574.27 L130.03 575.56 L130.87 576.85 L131.72 578.12 L132.54 579.34 L133.37 580.58 L134.21 581.82 L135.05 583.05 L135.90 584.27 L136.74 585.47 L137.58 586.65 L138.41 587.79 L139.22 588.90 L140.02 589.96 L140.67 590.81 L141.30 591.64 L141.92 592.46 L142.53 593.26 L143.14 594.04 L143.75 594.79 L144.37 595.52 L145.00 596.22 L145.64 596.89 L146.30 597.53 L146.90 598.06 L147.53 598.58 L148.17 599.06 L148.81 599.53 L149.47 599.98 L150.11 600.41 L150.75 600.81 L151.38 601.20 L151.98 601.57 L152.56 601.92 L152.99 602.18 L153.40 602.41 L153.80 602.63 L154.19 602.83 L154.58 603.03 L154.96 603.22 L155.34 603.41 L155.72 603.60 L156.11 603.80 L156.50 604.00" fill="none" stroke="#50f0f0" stroke-width="1.00" stroke-linejoin="round" stroke-opacity="0.45"/>
<path d="M73.25 546.00 L73.63 546.86 L74.00 547.72 L74.36 548.57 L74.73 549.43 L75.10 550.29 L75.47 551.14 L75.84 552.00 L76.23 552.85 L76.62 553.70 L77.03 554.55 L77.45 555.42 L77.88 556.29 L78.32 557.17 L78.77 558.05 L79.22 558.92 L79.68 559.78 L80.15 560.64 L80.63 561.48 L81.11 562.30 L81.61 563.10 L82.06 563.82 L82.51 564.51 L82.96 565.19 L83.41 565.86 L83.88 566.52 L84.35 567.17 L84.85 567.82 L85.38 568.48 L85.93 569.14 L86.53 569.81 L87.31 570.66 L88.16 571.51 L89.05 572.37 L89.97 573.23 L90.94 574.09 L91.92 574.95 L92.92 575.81 L93.92 576.67 L94.92 577.52 L95.91 578.36 L96.93 579.23 L97.95 580.10 L98.98 580.97 L100.02 581.84 L101.07 582.70 L102.13 583.56 L103.21 584.41 L104.30 585.25 L105.41 586.08 L106.55 586.91 L107.80 587.79 L109.08 588.69 L110.39 589.60 L111.72 590.50 L113.06 591.39 L114.42 592.25 L115.78 593.07 L117.13 593.85 L118.49 594.56 L119.82 595.21 L121.00 595.72 L122.14 596.18 L123.27 596.60 L124.40 596.98 L125.53 597.32 L126.69 597.65 L127.87 597.96 L129.10 598.26 L130.38 598.56 L131.73 598.87 L133.67 599.28 L135.79 599.66 L138.04 600.01 L140.37 600.35 L142.74 600.67 L145.10 600.98 L147.40 601.28 L149.59 601.58 L151.63 601.87 L153.47 602.17 L154.56 602.36 L155.60 602.55 L156.57 602.74 L157.50 602.92 L158.40 603.10 L159.29 603.28 L160.16 603.46 L161.04 603.64 L161.93 603.82 L162.85 604.00" fill="none" stroke="#50f050" stroke-width="1.00" stroke-linejoin="round" stroke-opacity="0.45"/>
<path d="M42.70 481.90 L45.18 481.90 L47.78 481.90 L50.47 481.90 L53.17 481.90 L55.83 481.90 L58.40 481.90 L60.82 481.90 L63.03 481.90 L64.98 481.90 L66.62 481.90 L67.22 481.95 L67.76 481.98 L68.24 482.02 L68.69 482.05 L69.11 482.09 L69.51 482.15 L69.91 482.23 L70.31 482.33 L70.74 482.47 L71.19 482.64 L71.84 482.94 L72.50 483.32 L73.18 483.77 L73.87 484.26 L74.56 484.79 L75.25 485.33 L75.93 485.86 L76.59 486.38 L77.22 486.85 L77.83 487.28 L78.28 487.56 L78.72 487.82 L79.15 488.06 L79.57 488.28 L79.98 488.51 L80.39 488.73 L80.79 488.97 L81.18 489.23 L81.57 489.52 L81.95 489.84 L82.38 490.26 L82.81 490.71 L83.22 491.19 L83.62 491.70 L84.02 492.22 L84.41 492.77 L84.80 493.32 L85.18 493.87 L85.57 494.42 L85.95 494.97 L86.35 495.54 L86.73 496.12 L87.10 496.71 L87.47 497.31 L87.83 497.91 L88.21 498.52 L88.59 499.13 L88.99 499.74 L89.40 500.35 L89.84 500.95 L90.39 501.63 L90.98 502.31 L91.60 502.97 L92.25 503.64 L92.90 504.32 L93.55 505.00 L94.19 505.69 L94.81 506.41 L95.38 507.15 L95.91 507.91 L96.40 508.73 L96.84 509.58 L97.25 510.45 L97.64 511.34 L98.01 512.24 L98.37 513.16 L98.73 514.08 L99.10 515.00 L99.49 515.92 L99.91 516.82 L100.39 517.78 L100.87 518.74 L101.37 519.70 L101.88 520.67 L102.40 521.64 L102.91 522.61 L103.43 523.57 L103.95 524.54 L104.45 525.51 L104.95 526.47 L105.42 527.41 L105.88 528.36 L106.34 529.30 L106.79 530.24 L107.24 531.18 L107.69 532.13 L108.15 533.06 L108.63 534.00 L109.12 534.94 L109.64 535.87 L110.21 536.85 L110.82 537.85 L111.46 538.85 L112.11 539.85 L112.76 540.84 L113.42 541.83 L114.06 542.79 L114.68 543.73 L115.27 544.64 L115.82 545.52 L116.21 546.16 L116.58 546.76 L116.92 547.33 L117.25 547.89 L117.57 548.44 L117.90 549.00 L118.23 549.57 L118.58 550.17 L118.96 550.81 L119.37 551.50 L120.03 552.63 L120.75 553.87 L121.51 555.18 L122.31 556.55 L123.13 557.96 L123.97 559.40 L124.82 560.85 L125.68 562.28 L126.53 563.69 L127.38 565.05 L128.22 566.38 L129.07 567.71 L129.93 569.03 L130.79 570.35 L131.66 571.67 L132.54 572.97 L133.42 574.27 L134.30 575.56 L135.19 576.85 L136.07 578.12 L136.94 579.35 L137.81 580.58 L138.69 581.82 L139.57 583.05 L140.46 584.27 L141.34 585.47 L142.22 586.65 L143.08 587.79 L143.93 588.90 L144.77 589.96 L145.44 590.81 L146.10 591.64 L146.75 592.46 L147.38 593.26 L148.02 594.04 L148.65 594.79 L149.30 595.52 L149.95 596.22 L150.61 596.89 L151.29 597.53 L151.91 598.06 L152.56 598.58 L153.21 599.06 L153.87 599.53 L154.54 599.98 L155.20 600.41 L155.86 600.81 L156.49 601.20 L157.11 601.57 L157.70 601.92 L158.13 602.18 L158.55 602.41 L158.96 602.63 L159.36 602.83 L159.75 603.03 L160.14 603.22 L160.53 603.41 L160.92 603.60 L161.31 603.80 L161.71 604.00" fill="none" stroke="#50f0f0" stroke-width="1.30" stroke-linejoin="round" stroke-opacity="0.62"/>
<path d="M42.70 481.90 L42.90 483.32 L43.10 484.75 L43.31 486.18 L43.52 487.62 L43.73 489.06 L43.94 490.48 L44.13 491.89 L44.32 493.27 L44.49 494.63 L44.65 495.95 L44.76 497.05 L44.87 498.12 L44.97 499.18 L45.05 500.22 L45.14 501.25 L45.22 502.27 L45.30 503.28 L45.38 504.29 L45.47 505.31 L45.56 506.32 L45.66 507.31 L45.76 508.29 L45.85 509.26 L45.96 510.23 L46.06 511.19 L46.16 512.16 L46.27 513.13 L46.37 514.11 L46.48 515.09 L46.59 516.09 L46.71 517.17 L46.83 518.28 L46.95 519.40 L47.08 520.54 L47.20 521.67 L47.33 522.80 L47.46 523.91 L47.59 525.00 L47.72 526.06 L47.85 527.08 L47.96 527.90 L48.07 528.70 L48.18 529.48 L48.28 530.24 L48.39 530.99 L48.51 531.73 L48.62 532.48 L48.74 533.23 L48.86 533.99 L48.99 534.77 L49.13 535.60 L49.28 536.43 L49.42 537.26 L49.57 538.09 L49.73 538.93 L49.89 539.78 L50.05 540.64 L50.23 541.51 L50.41 542.41 L50.60 543.32 L50.83 544.43 L51.07 545.58 L51.32 546.75 L51.58 547.94 L51.85 549.15 L52.13 550.37 L52.42 551.59 L52.71 552.83 L53.02 554.06 L53.34 555.28 L53.69 556.59 L54.04 557.90 L54.40 559.22 L54.76 560.55 L55.14 561.88 L55.54 563.22 L55.96 564.56 L56.39 565.90 L56.86 567.25 L57.35 568.59 L57.90 570.06 L58.47 571.56 L59.05 573.07 L59.67 574.59 L60.30 576.11 L60.97 577.61 L61.67 579.09 L62.40 580.53 L63.17 581.92 L63.98 583.24 L64.77 584.45 L65.59 585.63 L66.43 586.80 L67.30 587.93 L68.20 589.04 L69.13 590.10 L70.10 591.12 L71.11 592.09 L72.16 593.01 L73.25 593.87 L74.42 594.67 L75.65 595.42 L76.93 596.11 L78.26 596.75 L79.61 597.34 L80.99 597.90 L82.38 598.42 L83.78 598.91 L85.16 599.39 L86.53 599.85 L87.83 600.27 L89.13 600.67 L90.42 601.03 L91.71 601.37 L93.01 601.68 L94.33 601.96 L95.67 602.23 L97.05 602.47 L98.46 602.69 L99.91 602.90 L101.75 603.11 L103.68 603.28 L105.68 603.40 L107.73 603.49 L109.81 603.56 L111.89 603.61 L113.96 603.64 L115.98 603.67 L117.94 603.71 L119.82 603.76 L121.36 603.80 L122.86 603.83 L124.32 603.86 L125.76 603.89 L127.18 603.91 L128.59 603.92 L129.99 603.94 L131.40 603.96 L132.81 603.98 L134.24 604.00" fill="none" stroke="#5555f0" stroke-width="1.30" stroke-linejoin="round" stroke-opacity="0.62"/>
<path d="M42.70 481.90 L43.16 481.90 L43.64 481.90 L44.12 481.90 L44.60 481.90 L45.08 481.90 L45.55 481.90 L46.01 481.90 L46.45 481.90 L46.88 481.90 L47.28 481.90 L47.58 481.98 L47.87 482.07 L48.15 482.16 L48.42 482.27 L48.68 482.39 L48.94 482.52 L49.19 482.67 L49.43 482.84 L49.67 483.03 L49.91 483.25 L50.23 483.58 L50.53 483.96 L50.82 484.39 L51.10 484.85 L51.37 485.34 L51.64 485.85 L51.90 486.38 L52.15 486.92 L52.40 487.47 L52.66 488.01 L52.95 488.67 L53.23 489.36 L53.50 490.07 L53.76 490.81 L54.01 491.56 L54.27 492.32 L54.52 493.08 L54.77 493.84 L55.03 494.59 L55.29 495.34 L55.55 496.07 L55.81 496.81 L56.07 497.55 L56.33 498.29 L56.60 499.03 L56.86 499.76 L57.12 500.49 L57.38 501.22 L57.65 501.95 L57.92 502.66 L58.18 503.34 L58.45 504.00 L58.72 504.66 L58.99 505.32 L59.26 505.98 L59.53 506.63 L59.80 507.28 L60.06 507.94 L60.31 508.59 L60.55 509.25 L60.78 509.91 L61.00 510.55 L61.21 511.19 L61.41 511.84 L61.61 512.48 L61.81 513.13 L62.01 513.79 L62.21 514.46 L62.41 515.15 L62.61 515.85 L62.85 516.68 L63.08 517.56 L63.31 518.46 L63.54 519.38 L63.78 520.31 L64.01 521.23 L64.25 522.13 L64.50 523.01 L64.75 523.85 L65.01 524.64 L65.23 525.23 L65.46 525.80 L65.69 526.35 L65.93 526.88 L66.17 527.40 L66.41 527.92 L66.65 528.43 L66.88 528.94 L67.10 529.47 L67.30 530.01 L67.49 530.56 L67.66 531.09 L67.82 531.63 L67.98 532.16 L68.13 532.70 L68.28 533.25 L68.44 533.82 L68.61 534.40 L68.80 535.00 L69.02 535.63 L69.35 536.54 L69.70 537.49 L70.09 538.48 L70.49 539.51 L70.91 540.56 L71.35 541.63 L71.81 542.72 L72.28 543.81 L72.76 544.91 L73.25 546.00 L73.83 547.30 L74.44 548.64 L75.06 550.02 L75.70 551.42 L76.36 552.83 L77.04 554.22 L77.73 555.58 L78.44 556.89 L79.16 558.14 L79.89 559.31 L80.50 560.23 L81.12 561.09 L81.75 561.93 L82.38 562.72 L83.03 563.50 L83.69 564.26 L84.36 565.01 L85.06 565.75 L85.78 566.49 L86.53 567.25 L87.37 568.07 L88.25 568.89 L89.15 569.69 L90.08 570.49 L91.03 571.28 L91.99 572.06 L92.96 572.84 L93.94 573.62 L94.93 574.40 L95.91 575.19 L96.93 576.00 L97.96 576.82 L98.99 577.64 L100.02 578.46 L101.07 579.27 L102.13 580.08 L103.21 580.88 L104.30 581.68 L105.42 582.47 L106.55 583.24 L107.80 584.08 L109.09 584.92 L110.40 585.75 L111.74 586.58 L113.09 587.40 L114.45 588.21 L115.81 588.99 L117.16 589.75 L118.50 590.48 L119.82 591.18 L121.01 591.79 L122.16 592.37 L123.29 592.94 L124.41 593.48 L125.54 594.00 L126.68 594.51 L127.86 595.01 L129.09 595.49 L130.37 595.96 L131.73 596.43 L133.69 597.03 L135.87 597.62 L138.22 598.18 L140.65 598.73 L143.11 599.25 L145.53 599.75 L147.85 600.22 L149.98 600.66 L151.88 601.07 L153.47 601.44 L154.12 601.60 L154.71 601.75 L155.25 601.89 L155.76 602.03 L156.23 602.15 L156.69 602.28 L157.13 602.40 L157.58 602.52 L158.03 602.65 L158.50 602.78 L158.95 602.90 L159.39 603.03 L159.83 603.15 L160.26 603.27 L160.70 603.39 L161.13 603.51 L161.56 603.63 L161.99 603.76 L162.42 603.88 L162.85 604.00" fill="none" stroke="#50f050" stroke-width="1.30" stroke-linejoin="round" stroke-opacity="0.62"/>
<path d="M42.70 481.90 L42.78 483.19 L42.86 484.46 L42.93 485.70 L43.01 486.95 L43.08 488.20 L43.16 489.47 L43.24 490.77 L43.32 492.11 L43.41 493.51 L43.50 494.97 L43.63 497.08 L43.77 499.36 L43.91 501.77 L44.07 504.27 L44.22 506.80 L44.38 509.33 L44.53 511.81 L44.69 514.20 L44.84 516.46 L44.99 518.53 L45.09 519.95 L45.19 521.35 L45.29 522.72 L45.39 524.05 L45.49 525.34 L45.59 526.57 L45.69 527.73 L45.80 528.82 L45.90 529.83 L46.02 530.74 L46.08 531.19 L46.13 531.59 L46.18 531.96 L46.22 532.30 L46.27 532.62 L46.33 532.94 L46.40 533.27 L46.48 533.62 L46.58 533.99 L46.70 534.41 L46.94 535.14 L47.23 535.91 L47.55 536.72 L47.91 537.58 L48.30 538.46 L48.71 539.38 L49.16 540.33 L49.62 541.30 L50.10 542.30 L50.60 543.32 L51.33 544.85 L52.11 546.52 L52.93 548.28 L53.80 550.10 L54.71 551.96 L55.67 553.82 L56.68 555.65 L57.73 557.42 L58.83 559.10 L59.98 560.66 L61.13 562.03 L62.36 563.33 L63.64 564.57 L64.97 565.76 L66.33 566.91 L67.72 568.04 L69.12 569.15 L70.51 570.26 L71.89 571.37 L73.25 572.50 L74.57 573.62 L75.88 574.74 L77.19 575.86 L78.51 576.98 L79.82 578.08 L81.15 579.17 L82.48 580.23 L83.82 581.27 L85.17 582.27 L86.53 583.24 L87.84 584.14 L89.18 585.03 L90.53 585.89 L91.90 586.74 L93.26 587.56 L94.63 588.35 L95.98 589.11 L97.31 589.84 L98.63 590.53 L99.91 591.18 L100.97 591.69 L102.02 592.17 L103.04 592.62 L104.06 593.05 L105.07 593.45 L106.08 593.84 L107.08 594.22 L108.08 594.59 L109.09 594.96 L110.10 595.33 L111.06 595.68 L111.98 596.03 L112.89 596.37 L113.79 596.69 L114.69 597.01 L115.62 597.33 L116.59 597.63 L117.60 597.93 L118.68 598.22 L119.82 598.51 L121.73 598.92 L123.83 599.31 L126.09 599.68 L128.47 600.03 L130.91 600.37 L133.38 600.70 L135.83 601.02 L138.21 601.32 L140.48 601.63 L142.60 601.92 L144.18 602.16 L145.71 602.38 L147.19 602.59 L148.64 602.80 L150.06 603.00 L151.47 603.20 L152.87 603.40 L154.27 603.59 L155.69 603.80 L157.13 604.00" fill="none" stroke="#f05050" stroke-width="1.30" stroke-linejoin="round" stroke-opacity="0.62"/>
<path d="M42.70 481.90 L42.71 486.41 L42.72 490.97 L42.73 495.58 L42.74 500.20 L42.76 504.80 L42.77 509.35 L42.78 513.82 L42.79 518.18 L42.80 522.41 L42.81 526.47 L42.82 529.64 L42.83 532.76 L42.83 535.84 L42.83 538.85 L42.84 541.80 L42.84 544.67 L42.86 547.45 L42.87 550.13 L42.90 552.70 L42.93 555.16 L42.95 556.84 L42.96 558.45 L42.97 560.00 L42.98 561.50 L42.99 562.96 L43.02 564.38 L43.06 565.78 L43.12 567.16 L43.21 568.55 L43.33 569.94 L43.45 571.21 L43.55 572.49 L43.67 573.76 L43.79 575.03 L43.94 576.28 L44.12 577.50 L44.34 578.68 L44.61 579.81 L44.93 580.89 L45.33 581.90 L45.71 582.70 L46.13 583.46 L46.57 584.19 L47.05 584.89 L47.57 585.56 L48.11 586.21 L48.68 586.82 L49.29 587.40 L49.93 587.96 L50.60 588.49 L51.36 589.04 L52.17 589.54 L53.01 590.00 L53.89 590.42 L54.80 590.81 L55.76 591.17 L56.75 591.52 L57.79 591.86 L58.86 592.19 L59.98 592.52 L61.65 592.97 L63.46 593.37 L65.37 593.73 L67.37 594.07 L69.44 594.38 L71.54 594.68 L73.66 594.96 L75.77 595.24 L77.86 595.53 L79.89 595.82 L81.89 596.12 L83.89 596.42 L85.89 596.71 L87.89 597.00 L89.89 597.28 L91.90 597.56 L93.90 597.82 L95.91 598.06 L97.91 598.29 L99.91 598.51 L101.88 598.69 L103.82 598.85 L105.73 598.98 L107.64 599.10 L109.56 599.21 L111.50 599.32 L113.48 599.43 L115.52 599.55 L117.63 599.69 L119.82 599.85 L122.88 600.09 L126.21 600.36 L129.74 600.66 L133.38 600.97 L137.05 601.29 L140.66 601.61 L144.13 601.92 L147.38 602.23 L150.33 602.52 L152.89 602.78 L154.13 602.91 L155.26 603.04 L156.31 603.17 L157.30 603.29 L158.24 603.41 L159.15 603.52 L160.05 603.64 L160.95 603.76 L161.88 603.88 L162.85 604.00" fill="none" stroke="#a078c0" stroke-width="1.30" stroke-linejoin="round" stroke-opacity="0.62"/>
<g font-family='"Liberation Serif", serif'><text transform="translate(157.30 490.10) scale(0.1100 0.0930)" font-size="72.00" fill="#202020" stroke="#202020" stroke-width="1.80">PTV</text><text transform="translate(157.30 496.30) scale(0.1100 0.0930)" font-size="72.00" fill="#ff40ff" stroke="#ff40ff" stroke-width="1.80">Brain stem</text><text transform="translate(157.30 502.50) scale(0.1100 0.0930)" font-size="72.00" fill="#40f0f0" stroke="#40f0f0" stroke-width="1.80">Cochlea R</text><text transform="translate(157.30 508.70) scale(0.1100 0.0930)" font-size="72.00" fill="#4040f0" stroke="#4040f0" stroke-width="1.80">Hippoca. R</text><text transform="translate(157.30 514.90) scale(0.1100 0.0930)" font-size="72.00" fill="#40f040" stroke="#40f040" stroke-width="1.80">Middle ear R</text><text transform="translate(157.30 521.10) scale(0.1100 0.0930)" font-size="72.00" fill="#f04040" stroke="#f04040" stroke-width="1.80">Spinal cord</text><text transform="translate(157.30 527.30) scale(0.1100 0.0930)" font-size="72.00" fill="#9060b0" stroke="#9060b0" stroke-width="1.80">Temp. lobe R</text></g>
<g font-family='"Liberation Serif", serif'><text transform="translate(42.70 613.70) scale(1.120 1.000)" text-anchor="middle" font-size="9.00" fill="#525252" stroke="#525252" stroke-width="0.20">0</text><text transform="translate(65.59 613.70) scale(1.120 1.000)" text-anchor="middle" font-size="9.00" fill="#525252" stroke="#525252" stroke-width="0.20">20</text><text transform="translate(88.47 613.70) scale(1.120 1.000)" text-anchor="middle" font-size="9.00" fill="#525252" stroke="#525252" stroke-width="0.20">40</text><text transform="translate(111.36 613.70) scale(1.120 1.000)" text-anchor="middle" font-size="9.00" fill="#525252" stroke="#525252" stroke-width="0.20">60</text><text transform="translate(134.24 613.70) scale(1.120 1.000)" text-anchor="middle" font-size="9.00" fill="#525252" stroke="#525252" stroke-width="0.20">80</text><text transform="translate(157.13 613.70) scale(1.120 1.000)" text-anchor="middle" font-size="9.00" fill="#525252" stroke="#525252" stroke-width="0.20">100</text><text transform="translate(180.01 613.70) scale(1.120 1.000)" text-anchor="middle" font-size="9.00" fill="#525252" stroke="#525252" stroke-width="0.20">120</text><text transform="translate(40.80 607.00) scale(1.080 1.000)" text-anchor="end" font-size="9.00" fill="#525252" stroke="#525252" stroke-width="0.20">0</text><text transform="translate(40.80 582.58) scale(1.080 1.000)" text-anchor="end" font-size="9.00" fill="#525252" stroke="#525252" stroke-width="0.20">20</text><text transform="translate(40.80 558.16) scale(1.080 1.000)" text-anchor="end" font-size="9.00" fill="#525252" stroke="#525252" stroke-width="0.20">40</text><text transform="translate(40.80 533.74) scale(1.080 1.000)" text-anchor="end" font-size="9.00" fill="#525252" stroke="#525252" stroke-width="0.20">60</text><text transform="translate(40.80 509.32) scale(1.080 1.000)" text-anchor="end" font-size="9.00" fill="#525252" stroke="#525252" stroke-width="0.20">80</text><text transform="translate(40.80 484.90) scale(1.080 1.000)" text-anchor="end" font-size="9.00" fill="#525252" stroke="#525252" stroke-width="0.20">100</text><text transform="translate(122.80 622.50)" text-anchor="middle" font-size="8.80" fill="#525252" stroke="#525252" stroke-width="0.25">Dose [%]</text><text transform="translate(24.90 539.90) rotate(-90) scale(1.035 1.000)" text-anchor="middle" font-size="8.60" fill="#525252" stroke="#525252" stroke-width="0.25">Volume [%]</text><path d="M47.90 491.40 H52.90" stroke="#505050" stroke-width="0.6"/><rect x="48.10" y="500.40" width="1" height="1" fill="#606060"/><rect x="49.90" y="500.40" width="1" height="1" fill="#606060"/><rect x="51.70" y="500.40" width="1" height="1" fill="#606060"/><text transform="translate(53.70 493.80) scale(1.050 1.000)" font-size="7.60" fill="#262626" stroke="#262626" stroke-width="0.22">MC</text><text transform="translate(53.60 503.70) scale(1.050 1.000)" font-size="7.60" fill="#262626" stroke="#262626" stroke-width="0.22">A</text></g>
<rect x="241.50" y="475.80" width="160.20" height="128.20" fill="none" stroke="#dedede" stroke-width="1.1"/>
<path d="M241.50 604.00 V602.20 M241.50 475.80 V477.60 M264.39 604.00 V602.20 M264.39 475.80 V477.60 M287.27 604.00 V602.20 M287.27 475.80 V477.60 M310.16 604.00 V602.20 M310.16 475.80 V477.60 M333.04 604.00 V602.20 M333.04 475.80 V477.60 M355.93 604.00 V602.20 M355.93 475.80 V477.60 M378.81 604.00 V602.20 M378.81 475.80 V477.60 M401.70 604.00 V602.20 M401.70 475.80 V477.60 M241.50 604.00 H243.30 M401.70 604.00 H399.90 M241.50 579.58 H243.30 M401.70 579.58 H399.90 M241.50 555.16 H243.30 M401.70 555.16 H399.90 M241.50 530.74 H243.30 M401.70 530.74 H399.90 M241.50 506.32 H243.30 M401.70 506.32 H399.90 M241.50 481.90 H243.30 M401.70 481.90 H399.90" stroke="#c8c8c8" stroke-width="0.9" fill="none"/>
<path d="M241.50 481.90 L251.73 481.90 L262.76 481.90 L274.23 481.90 L285.82 481.90 L297.19 481.90 L307.98 481.90 L317.88 481.90 L326.53 481.90 L333.61 481.90 L338.76 481.90 L339.78 481.90 L340.68 481.90 L341.48 481.90 L342.19 481.90 L342.83 481.90 L343.42 481.90 L343.98 481.90 L344.52 481.90 L345.07 481.90 L345.63 481.90 L346.10 482.02 L346.56 482.15 L347.01 482.29 L347.45 482.44 L347.87 482.62 L348.27 482.82 L348.65 483.06 L349.01 483.32 L349.34 483.63 L349.63 483.98 L349.97 484.52 L350.24 485.14 L350.45 485.83 L350.61 486.59 L350.73 487.39 L350.83 488.24 L350.92 489.13 L351.01 490.04 L351.11 490.97 L351.24 491.92 L351.43 493.34 L351.61 494.86 L351.78 496.47 L351.93 498.15 L352.08 499.88 L352.23 501.64 L352.38 503.42 L352.53 505.19 L352.68 506.94 L352.84 508.64 L353.01 510.34 L353.18 512.03 L353.36 513.72 L353.55 515.41 L353.73 517.11 L353.91 518.81 L354.08 520.50 L354.25 522.21 L354.41 523.91 L354.56 525.61 L354.69 527.33 L354.82 529.05 L354.94 530.76 L355.05 532.48 L355.16 534.20 L355.26 535.92 L355.37 537.66 L355.47 539.41 L355.58 541.17 L355.70 542.95 L355.83 544.90 L355.96 546.88 L356.09 548.90 L356.22 550.93 L356.35 552.97 L356.48 555.00 L356.62 557.02 L356.77 559.01 L356.92 560.96 L357.07 562.85 L357.21 564.51 L357.35 566.14 L357.50 567.76 L357.64 569.36 L357.79 570.94 L357.95 572.50 L358.11 574.04 L358.29 575.55 L358.47 577.03 L358.67 578.48 L358.85 579.71 L359.03 580.91 L359.21 582.09 L359.39 583.25 L359.59 584.39 L359.80 585.52 L360.02 586.64 L360.27 587.75 L360.54 588.85 L360.85 589.96 L361.17 591.06 L361.52 592.20 L361.88 593.36 L362.27 594.52 L362.67 595.66 L363.10 596.75 L363.54 597.79 L364.00 598.74 L364.48 599.60 L364.97 600.34 L365.29 600.75 L365.62 601.12 L365.95 601.46 L366.29 601.77 L366.64 602.06 L366.99 602.31 L367.36 602.55 L367.73 602.76 L368.12 602.96 L368.52 603.15 L368.94 603.31 L369.38 603.44 L369.84 603.54 L370.31 603.62 L370.78 603.68 L371.26 603.73 L371.74 603.77 L372.20 603.81 L372.66 603.84 L373.09 603.88 L373.46 603.91 L373.81 603.93 L374.16 603.95 L374.50 603.96 L374.84 603.97 L375.18 603.97 L375.51 603.98 L375.85 603.98 L376.18 603.99 L376.53 604.00" fill="none" stroke="#383838" stroke-width="1.05" stroke-linejoin="round" stroke-opacity="0.75"/>
<path d="M241.50 481.90 L241.59 483.02 L241.66 484.16 L241.73 485.30 L241.79 486.46 L241.85 487.60 L241.93 488.73 L242.03 489.84 L242.16 490.91 L242.32 491.93 L242.53 492.89 L242.73 493.61 L242.95 494.31 L243.20 494.97 L243.46 495.62 L243.74 496.24 L244.02 496.86 L244.31 497.46 L244.60 498.05 L244.89 498.65 L245.16 499.24 L245.40 499.78 L245.63 500.31 L245.86 500.82 L246.08 501.33 L246.31 501.84 L246.55 502.34 L246.80 502.84 L247.07 503.34 L247.36 503.85 L247.68 504.37 L248.10 505.00 L248.55 505.63 L249.02 506.26 L249.53 506.90 L250.05 507.54 L250.59 508.18 L251.14 508.82 L251.70 509.46 L252.27 510.09 L252.83 510.72 L253.41 511.38 L253.99 512.05 L254.57 512.72 L255.16 513.38 L255.76 514.05 L256.38 514.70 L257.03 515.35 L257.72 515.98 L258.45 516.59 L259.24 517.19 L260.30 517.92 L261.45 518.62 L262.68 519.31 L263.96 519.98 L265.28 520.63 L266.64 521.26 L268.01 521.87 L269.38 522.45 L270.73 523.01 L272.05 523.54 L273.31 524.02 L274.58 524.46 L275.85 524.86 L277.12 525.24 L278.40 525.61 L279.68 525.96 L280.96 526.32 L282.26 526.68 L283.56 527.05 L284.87 527.45 L286.27 527.88 L287.71 528.31 L289.16 528.75 L290.63 529.20 L292.09 529.64 L293.55 530.10 L294.99 530.55 L296.39 531.02 L297.75 531.49 L299.06 531.96 L300.12 532.38 L301.15 532.80 L302.14 533.23 L303.11 533.67 L304.07 534.11 L305.02 534.55 L305.97 534.99 L306.93 535.41 L307.90 535.83 L308.90 536.24 L309.95 536.63 L311.00 536.99 L312.06 537.34 L313.13 537.67 L314.21 538.01 L315.29 538.36 L316.37 538.72 L317.46 539.11 L318.56 539.54 L319.65 540.02 L320.93 540.63 L322.22 541.29 L323.53 541.99 L324.85 542.73 L326.17 543.50 L327.49 544.29 L328.80 545.08 L330.09 545.89 L331.35 546.68 L332.59 547.47 L333.74 548.20 L334.90 548.92 L336.06 549.64 L337.21 550.37 L338.35 551.11 L339.45 551.86 L340.51 552.62 L341.52 553.40 L342.47 554.21 L343.34 555.04 L344.04 555.76 L344.70 556.49 L345.33 557.22 L345.92 557.97 L346.48 558.74 L347.00 559.52 L347.49 560.32 L347.94 561.14 L348.35 561.98 L348.72 562.85 L349.05 563.81 L349.32 564.79 L349.52 565.80 L349.68 566.83 L349.80 567.88 L349.90 568.96 L349.99 570.06 L350.09 571.18 L350.19 572.32 L350.32 573.48 L350.49 574.95 L350.63 576.49 L350.76 578.10 L350.88 579.74 L351.01 581.41 L351.14 583.07 L351.29 584.72 L351.47 586.32 L351.68 587.87 L351.92 589.35 L352.15 590.57 L352.36 591.82 L352.58 593.06 L352.81 594.28 L353.06 595.48 L353.34 596.62 L353.67 597.69 L354.05 598.68 L354.50 599.57 L355.01 600.34 L355.45 600.83 L355.94 601.27 L356.47 601.65 L357.02 601.99 L357.60 602.29 L358.19 602.56 L358.78 602.80 L359.37 603.01 L359.95 603.21 L360.51 603.39 L360.97 603.53 L361.43 603.63 L361.89 603.71 L362.35 603.77 L362.80 603.81 L363.26 603.84 L363.71 603.88 L364.17 603.91 L364.63 603.95 L365.08 604.00" fill="none" stroke="#f555f5" stroke-width="1.30" stroke-linejoin="round" stroke-opacity="0.62"/>
<path d="M241.50 481.90 L243.40 481.90 L245.39 481.90 L247.44 481.90 L249.50 481.90 L251.53 481.90 L253.50 481.90 L255.36 481.90 L257.07 481.90 L258.59 481.90 L259.88 481.90 L260.43 482.03 L260.93 482.15 L261.38 482.28 L261.81 482.41 L262.20 482.57 L262.58 482.74 L262.93 482.94 L263.28 483.17 L263.62 483.43 L263.97 483.74 L264.38 484.19 L264.76 484.70 L265.10 485.27 L265.41 485.89 L265.71 486.55 L266.01 487.25 L266.32 487.97 L266.65 488.71 L267.01 489.45 L267.40 490.21 L268.04 491.31 L268.72 492.49 L269.46 493.72 L270.22 494.99 L271.02 496.30 L271.82 497.64 L272.63 498.99 L273.43 500.34 L274.21 501.69 L274.97 503.03 L275.73 504.42 L276.47 505.83 L277.21 507.27 L277.94 508.72 L278.67 510.17 L279.40 511.61 L280.13 513.05 L280.87 514.46 L281.63 515.84 L282.40 517.19 L283.12 518.40 L283.85 519.59 L284.59 520.75 L285.33 521.90 L286.08 523.04 L286.83 524.16 L287.59 525.29 L288.35 526.41 L289.11 527.53 L289.87 528.67 L290.64 529.81 L291.43 530.95 L292.23 532.09 L293.04 533.22 L293.84 534.36 L294.64 535.49 L295.43 536.62 L296.20 537.76 L296.96 538.89 L297.69 540.02 L298.35 541.09 L298.99 542.15 L299.61 543.21 L300.21 544.26 L300.81 545.31 L301.41 546.37 L302.01 547.45 L302.62 548.53 L303.26 549.64 L303.91 550.77 L304.69 552.10 L305.49 553.48 L306.30 554.89 L307.12 556.32 L307.95 557.76 L308.80 559.20 L309.65 560.62 L310.52 562.02 L311.39 563.38 L312.26 564.69 L313.07 565.84 L313.90 566.96 L314.73 568.05 L315.57 569.12 L316.42 570.18 L317.27 571.22 L318.12 572.27 L318.97 573.31 L319.82 574.36 L320.66 575.43 L321.50 576.51 L322.33 577.61 L323.16 578.71 L323.99 579.81 L324.83 580.91 L325.66 582.00 L326.50 583.07 L327.34 584.13 L328.20 585.17 L329.06 586.17 L329.88 587.10 L330.71 588.01 L331.54 588.90 L332.37 589.78 L333.21 590.65 L334.05 591.50 L334.91 592.33 L335.76 593.15 L336.63 593.94 L337.50 594.72 L338.35 595.45 L339.21 596.18 L340.10 596.90 L340.99 597.61 L341.88 598.30 L342.77 598.96 L343.64 599.59 L344.49 600.17 L345.31 600.71 L346.09 601.19 L346.62 601.50 L347.16 601.78 L347.68 602.04 L348.20 602.29 L348.70 602.51 L349.19 602.72 L349.67 602.90 L350.12 603.08 L350.56 603.24 L350.97 603.39 L351.23 603.48 L351.48 603.55 L351.71 603.62 L351.94 603.68 L352.16 603.74 L352.38 603.79 L352.59 603.84 L352.81 603.89 L353.03 603.94 L353.25 604.00" fill="none" stroke="#50f0f0" stroke-width="1.00" stroke-linejoin="round" stroke-opacity="0.45"/>
<path d="M275.03 560.66 L276.02 561.91 L276.99 563.17 L277.95 564.43 L278.91 565.70 L279.88 566.96 L280.86 568.22 L281.86 569.47 L282.89 570.73 L283.97 571.98 L285.10 573.23 L286.42 574.65 L287.80 576.10 L289.21 577.56 L290.67 579.01 L292.16 580.46 L293.68 581.89 L295.23 583.29 L296.80 584.64 L298.38 585.93 L299.97 587.15 L301.53 588.28 L303.12 589.37 L304.73 590.43 L306.37 591.45 L308.02 592.44 L309.69 593.37 L311.37 594.27 L313.06 595.12 L314.76 595.92 L316.45 596.67 L318.07 597.34 L319.71 597.95 L321.35 598.52 L323.00 599.04 L324.66 599.52 L326.32 599.98 L328.00 600.40 L329.68 600.80 L331.36 601.19 L333.04 601.56 L334.74 601.90 L336.44 602.20 L338.15 602.47 L339.87 602.71 L341.59 602.93 L343.31 603.14 L345.04 603.34 L346.77 603.55 L348.49 603.77 L350.21 604.00" fill="none" stroke="#50f050" stroke-width="1.00" stroke-linejoin="round" stroke-opacity="0.45"/>
<path d="M241.50 481.90 L243.46 481.90 L245.53 481.90 L247.65 481.90 L249.78 481.90 L251.88 481.90 L253.92 481.90 L255.84 481.90 L257.60 481.90 L259.17 481.90 L260.50 481.90 L261.05 482.03 L261.55 482.15 L262.02 482.28 L262.44 482.42 L262.84 482.57 L263.21 482.74 L263.57 482.94 L263.92 483.17 L264.27 483.43 L264.61 483.74 L265.04 484.19 L265.42 484.70 L265.77 485.27 L266.10 485.89 L266.41 486.55 L266.72 487.25 L267.04 487.97 L267.38 488.71 L267.75 489.46 L268.16 490.21 L268.81 491.31 L269.52 492.49 L270.27 493.72 L271.06 494.99 L271.88 496.30 L272.70 497.64 L273.54 498.99 L274.36 500.34 L275.17 501.69 L275.94 503.03 L276.72 504.42 L277.49 505.83 L278.25 507.27 L279.01 508.72 L279.76 510.17 L280.52 511.61 L281.28 513.05 L282.04 514.46 L282.82 515.84 L283.61 517.19 L284.35 518.40 L285.10 519.59 L285.86 520.75 L286.62 521.90 L287.39 523.04 L288.16 524.16 L288.94 525.29 L289.71 526.41 L290.49 527.53 L291.28 528.67 L292.07 529.81 L292.88 530.95 L293.70 532.09 L294.52 533.22 L295.34 534.36 L296.16 535.49 L296.97 536.62 L297.76 537.76 L298.54 538.89 L299.29 540.02 L299.97 541.09 L300.63 542.15 L301.26 543.21 L301.88 544.26 L302.50 545.31 L303.11 546.37 L303.73 547.45 L304.37 548.53 L305.02 549.64 L305.69 550.77 L306.49 552.10 L307.31 553.48 L308.15 554.89 L308.99 556.32 L309.85 557.76 L310.72 559.20 L311.60 560.62 L312.49 562.02 L313.38 563.38 L314.28 564.69 L315.11 565.84 L315.95 566.96 L316.80 568.05 L317.66 569.12 L318.53 570.18 L319.39 571.22 L320.26 572.27 L321.13 573.31 L322.00 574.36 L322.86 575.43 L323.71 576.51 L324.57 577.61 L325.42 578.71 L326.26 579.81 L327.11 580.91 L327.97 582.00 L328.82 583.07 L329.69 584.13 L330.56 585.17 L331.44 586.17 L332.28 587.10 L333.11 588.01 L333.96 588.90 L334.81 589.78 L335.66 590.65 L336.52 591.50 L337.39 592.33 L338.26 593.15 L339.14 593.94 L340.02 594.72 L340.88 595.45 L341.76 596.18 L342.65 596.90 L343.56 597.61 L344.46 598.30 L345.36 598.96 L346.24 599.59 L347.10 600.17 L347.93 600.71 L348.72 601.19 L349.26 601.50 L349.80 601.78 L350.32 602.04 L350.84 602.29 L351.35 602.51 L351.85 602.71 L352.33 602.90 L352.78 603.08 L353.22 603.24 L353.64 603.39 L353.90 603.48 L354.15 603.55 L354.38 603.62 L354.61 603.68 L354.83 603.74 L355.05 603.79 L355.27 603.84 L355.48 603.89 L355.70 603.94 L355.93 604.00" fill="none" stroke="#50f0f0" stroke-width="1.30" stroke-linejoin="round" stroke-opacity="0.62"/>
<path d="M241.50 481.90 L241.60 482.34 L241.71 482.76 L241.81 483.16 L241.91 483.56 L242.02 483.96 L242.12 484.38 L242.22 484.83 L242.33 485.31 L242.43 485.84 L242.53 486.42 L242.73 487.80 L242.93 489.40 L243.13 491.19 L243.32 493.12 L243.52 495.17 L243.71 497.28 L243.90 499.42 L244.09 501.54 L244.28 503.61 L244.48 505.59 L244.67 507.53 L244.85 509.48 L245.04 511.45 L245.22 513.41 L245.41 515.38 L245.60 517.33 L245.79 519.26 L245.99 521.17 L246.20 523.05 L246.42 524.88 L246.62 526.48 L246.83 528.05 L247.05 529.59 L247.26 531.10 L247.49 532.61 L247.72 534.11 L247.95 535.60 L248.20 537.10 L248.45 538.61 L248.71 540.14 L248.99 541.74 L249.27 543.35 L249.57 544.98 L249.87 546.61 L250.18 548.24 L250.49 549.86 L250.81 551.47 L251.14 553.05 L251.47 554.61 L251.80 556.14 L252.09 557.49 L252.38 558.81 L252.66 560.12 L252.94 561.42 L253.24 562.70 L253.54 563.97 L253.87 565.23 L254.21 566.48 L254.59 567.72 L255.00 568.96 L255.44 570.19 L255.91 571.42 L256.40 572.66 L256.91 573.88 L257.44 575.09 L258.00 576.29 L258.57 577.46 L259.16 578.61 L259.76 579.72 L260.38 580.80 L260.95 581.75 L261.53 582.68 L262.13 583.58 L262.74 584.47 L263.36 585.34 L264.00 586.18 L264.66 587.00 L265.35 587.81 L266.05 588.59 L266.79 589.35 L267.55 590.09 L268.35 590.81 L269.17 591.51 L270.01 592.19 L270.87 592.85 L271.75 593.49 L272.64 594.10 L273.54 594.70 L274.45 595.27 L275.37 595.82 L276.29 596.34 L277.23 596.84 L278.19 597.32 L279.16 597.77 L280.14 598.20 L281.12 598.62 L282.11 599.01 L283.11 599.39 L284.10 599.75 L285.10 600.09 L286.09 600.41 L287.11 600.72 L288.14 601.00 L289.19 601.27 L290.23 601.52 L291.26 601.76 L292.26 601.98 L293.22 602.18 L294.14 602.37 L295.00 602.53 L295.55 602.64 L296.07 602.74 L296.55 602.82 L297.02 602.89 L297.47 602.96 L297.93 603.03 L298.40 603.09 L298.89 603.15 L299.41 603.21 L299.97 603.27 L300.84 603.36 L301.78 603.44 L302.76 603.51 L303.78 603.59 L304.84 603.66 L305.91 603.72 L306.99 603.79 L308.06 603.86 L309.12 603.93 L310.16 604.00" fill="none" stroke="#5555f0" stroke-width="1.30" stroke-linejoin="round" stroke-opacity="0.62"/>
<path d="M241.50 481.90 L241.60 481.90 L241.70 481.90 L241.80 481.90 L241.90 481.90 L242.00 481.90 L242.10 481.90 L242.21 481.90 L242.31 481.90 L242.42 481.90 L242.53 481.90 L242.94 482.31 L243.40 482.99 L243.90 483.90 L244.42 484.99 L244.97 486.22 L245.52 487.54 L246.08 488.90 L246.63 490.26 L247.17 491.57 L247.68 492.77 L248.21 494.01 L248.74 495.29 L249.27 496.60 L249.79 497.92 L250.31 499.25 L250.83 500.57 L251.34 501.88 L251.84 503.15 L252.34 504.40 L252.83 505.59 L253.24 506.56 L253.64 507.49 L254.04 508.40 L254.43 509.29 L254.82 510.17 L255.20 511.04 L255.59 511.92 L255.97 512.80 L256.34 513.70 L256.72 514.63 L257.11 515.61 L257.50 516.60 L257.89 517.60 L258.27 518.59 L258.65 519.60 L259.03 520.62 L259.40 521.66 L259.77 522.71 L260.13 523.79 L260.50 524.88 L260.90 526.18 L261.28 527.52 L261.66 528.91 L262.02 530.31 L262.39 531.73 L262.76 533.16 L263.14 534.58 L263.53 535.98 L263.95 537.35 L264.39 538.68 L264.82 539.89 L265.26 541.10 L265.71 542.28 L266.17 543.46 L266.64 544.62 L267.13 545.77 L267.63 546.91 L268.14 548.04 L268.66 549.16 L269.19 550.28 L269.71 551.36 L270.23 552.45 L270.74 553.53 L271.27 554.61 L271.81 555.67 L272.37 556.72 L272.97 557.75 L273.61 558.75 L274.29 559.72 L275.03 560.66 L275.87 561.60 L276.79 562.50 L277.77 563.38 L278.79 564.22 L279.85 565.05 L280.92 565.85 L282.00 566.64 L283.06 567.42 L284.10 568.19 L285.10 568.96 L285.98 569.65 L286.87 570.33 L287.75 571.01 L288.63 571.67 L289.50 572.32 L290.37 572.96 L291.22 573.59 L292.06 574.21 L292.88 574.83 L293.68 575.43 L294.35 575.93 L295.01 576.41 L295.66 576.88 L296.30 577.34 L296.93 577.79 L297.55 578.24 L298.17 578.71 L298.77 579.18 L299.38 579.68 L299.97 580.19 L300.56 580.74 L301.12 581.32 L301.66 581.91 L302.19 582.51 L302.72 583.12 L303.26 583.73 L303.82 584.35 L304.40 584.96 L305.02 585.57 L305.69 586.17 L306.61 586.93 L307.58 587.70 L308.61 588.47 L309.69 589.25 L310.79 590.02 L311.92 590.78 L313.06 591.53 L314.21 592.25 L315.34 592.95 L316.45 593.62 L317.50 594.24 L318.55 594.83 L319.60 595.42 L320.66 595.98 L321.72 596.52 L322.79 597.05 L323.87 597.56 L324.96 598.06 L326.07 598.53 L327.21 598.99 L328.43 599.46 L329.69 599.92 L330.98 600.35 L332.29 600.77 L333.60 601.17 L334.92 601.54 L336.22 601.89 L337.52 602.22 L338.79 602.51 L340.02 602.78 L341.08 602.98 L342.12 603.15 L343.15 603.29 L344.17 603.41 L345.18 603.51 L346.18 603.61 L347.18 603.70 L348.19 603.79 L349.19 603.89 L350.21 604.00" fill="none" stroke="#50f050" stroke-width="1.30" stroke-linejoin="round" stroke-opacity="0.62"/>
<path d="M241.50 481.90 L241.54 482.99 L241.58 484.05 L241.62 485.11 L241.66 486.15 L241.70 487.21 L241.74 488.28 L241.79 489.37 L241.84 490.50 L241.89 491.67 L241.96 492.89 L242.05 494.61 L242.14 496.45 L242.24 498.38 L242.35 500.37 L242.46 502.39 L242.59 504.42 L242.73 506.43 L242.87 508.39 L243.04 510.28 L243.22 512.06 L243.37 513.46 L243.54 514.82 L243.71 516.15 L243.89 517.45 L244.08 518.73 L244.28 519.99 L244.49 521.23 L244.70 522.46 L244.93 523.67 L245.16 524.88 L245.38 525.98 L245.61 527.08 L245.85 528.17 L246.10 529.26 L246.36 530.33 L246.62 531.38 L246.88 532.39 L247.15 533.36 L247.41 534.28 L247.68 535.14 L247.86 535.70 L248.05 536.23 L248.23 536.73 L248.41 537.20 L248.60 537.66 L248.79 538.12 L248.98 538.57 L249.19 539.04 L249.40 539.52 L249.62 540.02 L249.90 540.65 L250.20 541.30 L250.50 541.97 L250.81 542.64 L251.14 543.33 L251.47 544.01 L251.80 544.68 L252.14 545.35 L252.49 545.99 L252.83 546.62 L253.14 547.16 L253.45 547.68 L253.76 548.18 L254.07 548.67 L254.38 549.16 L254.71 549.65 L255.04 550.14 L255.39 550.65 L255.76 551.19 L256.15 551.74 L256.69 552.53 L257.25 553.36 L257.84 554.23 L258.45 555.13 L259.09 556.03 L259.74 556.94 L260.42 557.85 L261.11 558.73 L261.83 559.59 L262.55 560.41 L263.33 561.22 L264.14 561.99 L264.98 562.75 L265.84 563.49 L266.72 564.22 L267.61 564.94 L268.50 565.66 L269.39 566.39 L270.27 567.12 L271.14 567.86 L272.00 568.62 L272.85 569.38 L273.71 570.15 L274.56 570.92 L275.41 571.70 L276.27 572.46 L277.13 573.22 L277.99 573.97 L278.85 574.71 L279.72 575.43 L280.57 576.12 L281.43 576.82 L282.29 577.52 L283.16 578.22 L284.03 578.90 L284.90 579.56 L285.76 580.20 L286.62 580.81 L287.46 581.37 L288.30 581.90 L288.99 582.30 L289.68 582.66 L290.38 582.99 L291.06 583.29 L291.75 583.59 L292.42 583.87 L293.09 584.16 L293.74 584.45 L294.38 584.75 L295.00 585.08 L295.53 585.38 L296.04 585.69 L296.54 586.01 L297.03 586.32 L297.52 586.65 L298.00 586.97 L298.48 587.29 L298.97 587.61 L299.46 587.93 L299.97 588.25 L300.52 588.58 L301.06 588.90 L301.59 589.22 L302.14 589.54 L302.68 589.87 L303.25 590.19 L303.82 590.52 L304.42 590.85 L305.04 591.19 L305.69 591.55 L306.63 592.05 L307.62 592.58 L308.66 593.13 L309.73 593.70 L310.84 594.27 L311.96 594.84 L313.09 595.39 L314.22 595.93 L315.35 596.44 L316.45 596.92 L317.50 597.35 L318.54 597.77 L319.58 598.17 L320.61 598.56 L321.66 598.93 L322.71 599.28 L323.79 599.63 L324.89 599.96 L326.03 600.27 L327.21 600.58 L328.71 600.93 L330.32 601.27 L332.00 601.58 L333.73 601.88 L335.48 602.16 L337.20 602.42 L338.89 602.66 L340.49 602.88 L341.99 603.08 L343.34 603.27 L344.14 603.37 L344.90 603.46 L345.61 603.55 L346.29 603.62 L346.95 603.68 L347.60 603.75 L348.24 603.81 L348.88 603.87 L349.53 603.93 L350.21 604.00" fill="none" stroke="#f05050" stroke-width="1.30" stroke-linejoin="round" stroke-opacity="0.62"/>
<path d="M241.50 481.90 L241.51 486.80 L241.51 491.72 L241.52 496.64 L241.52 501.57 L241.53 506.50 L241.53 511.41 L241.54 516.30 L241.55 521.15 L241.55 525.97 L241.56 530.74 L241.55 535.39 L241.53 540.30 L241.50 545.33 L241.50 550.39 L241.50 555.33 L241.50 560.06 L241.50 564.44 L241.50 568.36 L241.51 571.70 L241.61 574.33 L241.65 575.07 L241.68 575.73 L241.70 576.33 L241.73 576.87 L241.76 577.37 L241.80 577.84 L241.86 578.28 L241.94 578.71 L242.05 579.14 L242.19 579.58 L242.33 579.95 L242.48 580.30 L242.64 580.64 L242.82 580.95 L243.01 581.27 L243.22 581.57 L243.45 581.88 L243.70 582.20 L243.96 582.53 L244.25 582.88 L244.72 583.44 L245.24 584.04 L245.81 584.66 L246.43 585.31 L247.08 585.95 L247.76 586.59 L248.48 587.22 L249.22 587.81 L249.99 588.36 L250.77 588.86 L251.69 589.36 L252.67 589.82 L253.68 590.22 L254.74 590.60 L255.83 590.94 L256.94 591.27 L258.07 591.58 L259.22 591.89 L260.37 592.20 L261.52 592.52 L262.82 592.89 L264.13 593.25 L265.46 593.60 L266.80 593.95 L268.17 594.28 L269.56 594.61 L270.97 594.93 L272.41 595.23 L273.87 595.53 L275.37 595.82 L277.25 596.15 L279.27 596.48 L281.40 596.79 L283.59 597.10 L285.77 597.39 L287.91 597.66 L289.95 597.91 L291.84 598.14 L293.54 598.34 L295.00 598.51 L295.61 598.58 L296.14 598.64 L296.60 598.69 L297.03 598.74 L297.44 598.78 L297.85 598.82 L298.29 598.86 L298.77 598.90 L299.33 598.94 L299.97 598.99 L301.81 599.12 L304.02 599.26 L306.53 599.41 L309.28 599.56 L312.21 599.71 L315.25 599.87 L318.33 600.04 L321.39 600.22 L324.37 600.40 L327.21 600.58 L330.06 600.78 L333.06 600.98 L336.13 601.18 L339.23 601.40 L342.29 601.62 L345.26 601.84 L348.07 602.07 L350.68 602.31 L353.01 602.54 L355.01 602.78 L355.86 602.90 L356.64 603.02 L357.35 603.14 L358.00 603.26 L358.62 603.38 L359.22 603.51 L359.81 603.63 L360.40 603.75 L361.01 603.88 L361.65 604.00" fill="none" stroke="#a078c0" stroke-width="1.30" stroke-linejoin="round" stroke-opacity="0.62"/>
<g font-family='"Liberation Serif", serif'><text transform="translate(356.10 490.10) scale(0.1100 0.0930)" font-size="72.00" fill="#202020" stroke="#202020" stroke-width="1.80">PTV</text><text transform="translate(356.10 496.30) scale(0.1100 0.0930)" font-size="72.00" fill="#ff40ff" stroke="#ff40ff" stroke-width="1.80">Brain stem</text><text transform="translate(356.10 502.50) scale(0.1100 0.0930)" font-size="72.00" fill="#40f0f0" stroke="#40f0f0" stroke-width="1.80">Cochlea R</text><text transform="translate(356.10 508.70) scale(0.1100 0.0930)" font-size="72.00" fill="#4040f0" stroke="#4040f0" stroke-width="1.80">Hippoca. R</text><text transform="translate(356.10 514.90) scale(0.1100 0.0930)" font-size="72.00" fill="#40f040" stroke="#40f040" stroke-width="1.80">Middle ear R</text><text transform="translate(356.10 521.10) scale(0.1100 0.0930)" font-size="72.00" fill="#f04040" stroke="#f04040" stroke-width="1.80">Spinal cord</text><text transform="translate(356.10 527.30) scale(0.1100 0.0930)" font-size="72.00" fill="#9060b0" stroke="#9060b0" stroke-width="1.80">Temp. lobe R</text></g>
<g font-family='"Liberation Serif", serif'><text transform="translate(241.50 613.70) scale(1.120 1.000)" text-anchor="middle" font-size="9.00" fill="#525252" stroke="#525252" stroke-width="0.20">0</text><text transform="translate(264.39 613.70) scale(1.120 1.000)" text-anchor="middle" font-size="9.00" fill="#525252" stroke="#525252" stroke-width="0.20">20</text><text transform="translate(287.27 613.70) scale(1.120 1.000)" text-anchor="middle" font-size="9.00" fill="#525252" stroke="#525252" stroke-width="0.20">40</text><text transform="translate(310.16 613.70) scale(1.120 1.000)" text-anchor="middle" font-size="9.00" fill="#525252" stroke="#525252" stroke-width="0.20">60</text><text transform="translate(333.04 613.70) scale(1.120 1.000)" text-anchor="middle" font-size="9.00" fill="#525252" stroke="#525252" stroke-width="0.20">80</text><text transform="translate(355.93 613.70) scale(1.120 1.000)" text-anchor="middle" font-size="9.00" fill="#525252" stroke="#525252" stroke-width="0.20">100</text><text transform="translate(378.81 613.70) scale(1.120 1.000)" text-anchor="middle" font-size="9.00" fill="#525252" stroke="#525252" stroke-width="0.20">120</text><text transform="translate(239.60 607.00) scale(1.080 1.000)" text-anchor="end" font-size="9.00" fill="#525252" stroke="#525252" stroke-width="0.20">0</text><text transform="translate(239.60 582.58) scale(1.080 1.000)" text-anchor="end" font-size="9.00" fill="#525252" stroke="#525252" stroke-width="0.20">20</text><text transform="translate(239.60 558.16) scale(1.080 1.000)" text-anchor="end" font-size="9.00" fill="#525252" stroke="#525252" stroke-width="0.20">40</text><text transform="translate(239.60 533.74) scale(1.080 1.000)" text-anchor="end" font-size="9.00" fill="#525252" stroke="#525252" stroke-width="0.20">60</text><text transform="translate(239.60 509.32) scale(1.080 1.000)" text-anchor="end" font-size="9.00" fill="#525252" stroke="#525252" stroke-width="0.20">80</text><text transform="translate(239.60 484.90) scale(1.080 1.000)" text-anchor="end" font-size="9.00" fill="#525252" stroke="#525252" stroke-width="0.20">100</text><text transform="translate(321.60 622.50)" text-anchor="middle" font-size="8.80" fill="#525252" stroke="#525252" stroke-width="0.25">Dose [%]</text><text transform="translate(223.70 539.90) rotate(-90) scale(1.035 1.000)" text-anchor="middle" font-size="8.60" fill="#525252" stroke="#525252" stroke-width="0.25">Volume [%]</text><path d="M246.70 491.40 H251.70" stroke="#505050" stroke-width="0.6"/><rect x="246.90" y="500.40" width="1" height="1" fill="#606060"/><rect x="248.70" y="500.40" width="1" height="1" fill="#606060"/><rect x="250.50" y="500.40" width="1" height="1" fill="#606060"/><text transform="translate(252.50 493.80) scale(1.050 1.000)" font-size="7.60" fill="#262626" stroke="#262626" stroke-width="0.22">MC</text><text transform="translate(252.40 503.70) scale(1.050 1.000)" font-size="7.60" fill="#262626" stroke="#262626" stroke-width="0.22">A</text></g>
<rect x="440.00" y="475.80" width="160.20" height="128.20" fill="none" stroke="#dedede" stroke-width="1.1"/>
<path d="M440.00 604.00 V602.20 M440.00 475.80 V477.60 M462.89 604.00 V602.20 M462.89 475.80 V477.60 M485.77 604.00 V602.20 M485.77 475.80 V477.60 M508.66 604.00 V602.20 M508.66 475.80 V477.60 M531.54 604.00 V602.20 M531.54 475.80 V477.60 M554.43 604.00 V602.20 M554.43 475.80 V477.60 M577.31 604.00 V602.20 M577.31 475.80 V477.60 M600.20 604.00 V602.20 M600.20 475.80 V477.60 M440.00 604.00 H441.80 M600.20 604.00 H598.40 M440.00 579.58 H441.80 M600.20 579.58 H598.40 M440.00 555.16 H441.80 M600.20 555.16 H598.40 M440.00 530.74 H441.80 M600.20 530.74 H598.40 M440.00 506.32 H441.80 M600.20 506.32 H598.40 M440.00 481.90 H441.80 M600.20 481.90 H598.40" stroke="#c8c8c8" stroke-width="0.9" fill="none"/>
<path d="M440.00 481.90 L450.18 481.90 L461.24 481.90 L472.81 481.90 L484.51 481.90 L495.95 481.90 L506.77 481.90 L516.57 481.90 L524.98 481.90 L531.62 481.90 L536.12 481.90 L536.75 481.90 L537.28 481.90 L537.74 481.90 L538.13 481.90 L538.49 481.90 L538.82 481.90 L539.14 481.90 L539.47 481.90 L539.83 481.90 L540.24 481.90 L540.76 481.95 L541.31 481.98 L541.88 482.01 L542.46 482.05 L543.04 482.11 L543.61 482.19 L544.16 482.31 L544.69 482.48 L545.18 482.71 L545.62 483.00 L546.08 483.44 L546.50 483.96 L546.88 484.56 L547.23 485.22 L547.54 485.94 L547.83 486.70 L548.09 487.50 L548.35 488.31 L548.59 489.14 L548.82 489.96 L549.10 491.07 L549.33 492.23 L549.52 493.45 L549.68 494.71 L549.81 496.01 L549.93 497.34 L550.05 498.69 L550.16 500.06 L550.28 501.42 L550.42 502.78 L550.59 504.33 L550.77 505.93 L550.94 507.57 L551.11 509.24 L551.27 510.91 L551.43 512.58 L551.59 514.22 L551.74 515.84 L551.89 517.40 L552.03 518.90 L552.13 520.07 L552.23 521.18 L552.32 522.25 L552.41 523.28 L552.49 524.31 L552.57 525.35 L552.66 526.42 L552.75 527.54 L552.84 528.73 L552.94 530.01 L553.10 532.10 L553.26 534.38 L553.44 536.81 L553.61 539.35 L553.79 541.96 L553.98 544.60 L554.17 547.23 L554.37 549.81 L554.57 552.31 L554.77 554.67 L554.95 556.65 L555.13 558.59 L555.31 560.51 L555.49 562.39 L555.68 564.26 L555.87 566.09 L556.07 567.91 L556.27 569.70 L556.49 571.48 L556.72 573.23 L556.92 574.79 L557.12 576.34 L557.31 577.87 L557.51 579.39 L557.72 580.88 L557.94 582.36 L558.19 583.81 L558.46 585.24 L558.77 586.64 L559.12 588.01 L559.45 589.22 L559.80 590.45 L560.15 591.68 L560.53 592.89 L560.93 594.07 L561.36 595.21 L561.82 596.30 L562.32 597.32 L562.87 598.27 L563.47 599.12 L563.98 599.73 L564.53 600.31 L565.10 600.85 L565.70 601.35 L566.32 601.81 L566.96 602.23 L567.62 602.61 L568.29 602.95 L568.97 603.25 L569.65 603.51 L570.34 603.72 L571.05 603.86 L571.78 603.94 L572.53 603.98 L573.28 604.00 L574.05 603.99 L574.81 603.97 L575.58 603.96 L576.34 603.97 L577.09 604.00" fill="none" stroke="#383838" stroke-width="1.05" stroke-linejoin="round" stroke-opacity="0.75"/>
<path d="M440.00 481.90 L440.00 482.49 L440.00 483.06 L440.00 483.62 L440.00 484.19 L440.00 484.76 L440.00 485.33 L440.00 485.91 L440.00 486.51 L440.02 487.13 L440.11 487.77 L440.28 488.65 L440.49 489.60 L440.73 490.58 L441.01 491.59 L441.32 492.62 L441.67 493.64 L442.04 494.64 L442.44 495.62 L442.87 496.54 L443.32 497.41 L443.75 498.15 L444.20 498.85 L444.67 499.53 L445.16 500.18 L445.68 500.81 L446.23 501.43 L446.80 502.04 L447.40 502.65 L448.03 503.26 L448.70 503.88 L449.59 504.67 L450.55 505.46 L451.58 506.24 L452.66 507.02 L453.77 507.80 L454.91 508.56 L456.06 509.31 L457.20 510.04 L458.34 510.76 L459.45 511.45 L460.51 512.10 L461.58 512.71 L462.65 513.31 L463.73 513.90 L464.81 514.47 L465.89 515.04 L466.97 515.60 L468.05 516.16 L469.13 516.73 L470.21 517.31 L471.28 517.91 L472.34 518.51 L473.40 519.12 L474.46 519.73 L475.53 520.34 L476.59 520.94 L477.67 521.53 L478.75 522.10 L479.85 522.65 L480.97 523.17 L482.15 523.68 L483.39 524.18 L484.66 524.66 L485.95 525.12 L487.23 525.56 L488.50 525.99 L489.73 526.41 L490.89 526.81 L491.98 527.20 L492.98 527.57 L493.56 527.80 L494.08 528.01 L494.56 528.20 L495.01 528.39 L495.45 528.58 L495.90 528.77 L496.36 528.96 L496.86 529.17 L497.40 529.40 L498.02 529.64 L499.30 530.15 L500.79 530.73 L502.43 531.37 L504.18 532.04 L506.00 532.74 L507.84 533.45 L509.65 534.16 L511.39 534.85 L513.02 535.50 L514.49 536.12 L515.47 536.53 L516.38 536.92 L517.26 537.29 L518.10 537.65 L518.92 538.01 L519.73 538.38 L520.54 538.76 L521.36 539.15 L522.20 539.57 L523.08 540.02 L524.12 540.58 L525.20 541.16 L526.29 541.77 L527.40 542.39 L528.51 543.04 L529.61 543.70 L530.71 544.38 L531.78 545.08 L532.82 545.78 L533.83 546.49 L534.77 547.18 L535.72 547.86 L536.66 548.55 L537.58 549.26 L538.49 549.97 L539.37 550.71 L540.20 551.47 L541.00 552.26 L541.74 553.08 L542.41 553.94 L543.00 554.80 L543.53 555.69 L544.02 556.60 L544.45 557.54 L544.86 558.50 L545.24 559.49 L545.60 560.49 L545.95 561.51 L546.29 562.54 L546.65 563.59 L547.03 564.79 L547.39 566.02 L547.72 567.27 L548.04 568.55 L548.34 569.85 L548.63 571.17 L548.92 572.50 L549.22 573.84 L549.53 575.18 L549.85 576.53 L550.21 578.02 L550.58 579.54 L550.94 581.10 L551.31 582.67 L551.69 584.25 L552.06 585.82 L552.45 587.37 L552.83 588.89 L553.23 590.37 L553.63 591.79 L553.96 593.02 L554.26 594.29 L554.55 595.58 L554.85 596.85 L555.15 598.09 L555.48 599.27 L555.84 600.35 L556.26 601.32 L556.74 602.13 L557.29 602.78 L557.70 603.10 L558.15 603.33 L558.62 603.50 L559.11 603.61 L559.63 603.69 L560.15 603.74 L560.67 603.79 L561.19 603.83 L561.71 603.90 L562.21 604.00" fill="none" stroke="#f555f5" stroke-width="1.30" stroke-linejoin="round" stroke-opacity="0.62"/>
<path d="M440.00 481.90 L442.63 481.90 L445.36 481.90 L448.16 481.90 L450.97 481.90 L453.75 481.90 L456.45 481.90 L459.03 481.90 L461.45 481.90 L463.65 481.90 L465.59 481.90 L466.53 482.01 L467.40 482.11 L468.20 482.22 L468.95 482.34 L469.67 482.48 L470.36 482.63 L471.04 482.81 L471.72 483.00 L472.41 483.23 L473.13 483.49 L473.90 483.80 L474.68 484.14 L475.46 484.51 L476.23 484.91 L477.00 485.34 L477.76 485.78 L478.50 486.25 L479.23 486.74 L479.95 487.24 L480.65 487.77 L481.34 488.33 L482.01 488.92 L482.65 489.55 L483.29 490.20 L483.91 490.87 L484.53 491.55 L485.14 492.23 L485.76 492.91 L486.38 493.58 L487.01 494.24 L487.65 494.89 L488.29 495.55 L488.94 496.22 L489.60 496.89 L490.25 497.56 L490.89 498.22 L491.53 498.87 L492.16 499.51 L492.77 500.12 L493.37 500.71 L493.85 501.16 L494.32 501.58 L494.79 501.98 L495.25 502.36 L495.71 502.75 L496.16 503.13 L496.60 503.54 L497.04 503.98 L497.48 504.45 L497.91 504.98 L498.48 505.76 L499.03 506.62 L499.56 507.54 L500.09 508.51 L500.62 509.52 L501.13 510.55 L501.65 511.59 L502.17 512.62 L502.69 513.64 L503.22 514.63 L503.75 515.59 L504.28 516.55 L504.82 517.50 L505.35 518.45 L505.88 519.41 L506.42 520.37 L506.95 521.33 L507.48 522.30 L508.00 523.28 L508.52 524.27 L509.07 525.33 L509.61 526.41 L510.16 527.51 L510.70 528.62 L511.24 529.73 L511.78 530.83 L512.30 531.92 L512.82 532.99 L513.33 534.02 L513.82 535.02 L514.21 535.80 L514.59 536.57 L514.96 537.31 L515.32 538.03 L515.68 538.74 L516.04 539.45 L516.40 540.16 L516.77 540.87 L517.15 541.60 L517.54 542.34 L517.99 543.16 L518.44 543.98 L518.91 544.80 L519.38 545.62 L519.87 546.45 L520.35 547.29 L520.84 548.14 L521.32 549.00 L521.81 549.87 L522.28 550.77 L522.81 551.78 L523.34 552.82 L523.87 553.88 L524.40 554.96 L524.93 556.05 L525.46 557.14 L525.99 558.24 L526.52 559.34 L527.05 560.43 L527.58 561.51 L528.11 562.59 L528.64 563.66 L529.17 564.74 L529.70 565.81 L530.23 566.89 L530.76 567.96 L531.29 569.04 L531.82 570.11 L532.35 571.18 L532.88 572.26 L533.41 573.32 L533.95 574.38 L534.50 575.44 L535.05 576.50 L535.60 577.55 L536.14 578.61 L536.67 579.67 L537.19 580.74 L537.69 581.80 L538.18 582.88 L538.63 583.95 L539.05 585.05 L539.44 586.16 L539.83 587.27 L540.20 588.38 L540.59 589.49 L540.98 590.57 L541.40 591.62 L541.84 592.64 L542.33 593.62 L542.80 594.48 L543.29 595.35 L543.79 596.21 L544.32 597.05 L544.85 597.87 L545.40 598.65 L545.96 599.38 L546.52 600.06 L547.09 600.66 L547.65 601.19 L548.06 601.52 L548.49 601.80 L548.92 602.06 L549.36 602.28 L549.80 602.48 L550.24 602.66 L550.67 602.82 L551.08 602.98 L551.49 603.12 L551.87 603.27 L552.14 603.37 L552.41 603.46 L552.66 603.54 L552.91 603.61 L553.16 603.68 L553.40 603.74 L553.65 603.80 L553.89 603.86 L554.13 603.93 L554.38 604.00" fill="none" stroke="#50f0f0" stroke-width="1.00" stroke-linejoin="round" stroke-opacity="0.45"/>
<path d="M469.18 561.51 L470.00 562.47 L470.79 563.43 L471.56 564.38 L472.33 565.33 L473.10 566.28 L473.90 567.24 L474.74 568.20 L475.63 569.17 L476.60 570.16 L477.65 571.16 L479.29 572.62 L481.13 574.17 L483.11 575.77 L485.20 577.40 L487.37 579.03 L489.57 580.63 L491.77 582.17 L493.94 583.63 L496.03 584.97 L498.02 586.17 L499.51 587.01 L500.98 587.76 L502.44 588.44 L503.88 589.07 L505.30 589.66 L506.71 590.23 L508.12 590.80 L509.52 591.38 L510.92 591.99 L512.32 592.65 L513.69 593.34 L515.04 594.07 L516.37 594.81 L517.70 595.57 L519.03 596.33 L520.36 597.08 L521.69 597.81 L523.05 598.50 L524.42 599.14 L525.82 599.73 L527.26 600.26 L528.71 600.73 L530.19 601.16 L531.68 601.56 L533.18 601.93 L534.68 602.29 L536.19 602.64 L537.70 603.00 L539.20 603.37 L540.70 603.76" fill="none" stroke="#50f050" stroke-width="1.00" stroke-linejoin="round" stroke-opacity="0.45"/>
<path d="M440.00 481.90 L442.66 481.90 L445.42 481.90 L448.25 481.90 L451.09 481.90 L453.90 481.90 L456.64 481.90 L459.25 481.90 L461.69 481.90 L463.91 481.90 L465.86 481.90 L466.81 482.01 L467.68 482.11 L468.48 482.22 L469.24 482.35 L469.95 482.48 L470.65 482.63 L471.32 482.81 L472.00 483.00 L472.70 483.23 L473.41 483.49 L474.19 483.80 L474.97 484.14 L475.75 484.51 L476.53 484.91 L477.30 485.34 L478.06 485.78 L478.81 486.25 L479.54 486.74 L480.26 487.24 L480.97 487.77 L481.66 488.33 L482.33 488.92 L482.99 489.55 L483.63 490.20 L484.25 490.87 L484.87 491.55 L485.49 492.23 L486.11 492.91 L486.74 493.58 L487.37 494.24 L488.02 494.89 L488.67 495.55 L489.33 496.22 L489.98 496.89 L490.64 497.56 L491.29 498.22 L491.93 498.87 L492.56 499.51 L493.18 500.12 L493.78 500.71 L494.27 501.16 L494.75 501.58 L495.22 501.98 L495.68 502.36 L496.14 502.75 L496.59 503.13 L497.04 503.54 L497.48 503.98 L497.92 504.45 L498.36 504.98 L498.93 505.76 L499.49 506.62 L500.03 507.54 L500.57 508.51 L501.10 509.52 L501.62 510.55 L502.15 511.59 L502.67 512.62 L503.20 513.64 L503.74 514.63 L504.28 515.59 L504.82 516.55 L505.36 517.50 L505.90 518.45 L506.44 519.41 L506.98 520.37 L507.52 521.33 L508.05 522.30 L508.59 523.28 L509.11 524.27 L509.67 525.33 L510.22 526.41 L510.77 527.51 L511.33 528.62 L511.87 529.73 L512.42 530.83 L512.95 531.92 L513.48 532.99 L513.99 534.02 L514.49 535.02 L514.89 535.80 L515.28 536.57 L515.65 537.31 L516.02 538.03 L516.38 538.74 L516.74 539.45 L517.11 540.16 L517.48 540.87 L517.87 541.60 L518.27 542.34 L518.72 543.16 L519.18 543.98 L519.66 544.80 L520.14 545.62 L520.62 546.45 L521.12 547.29 L521.61 548.14 L522.10 549.00 L522.59 549.87 L523.08 550.77 L523.61 551.78 L524.15 552.82 L524.69 553.88 L525.22 554.96 L525.76 556.05 L526.30 557.14 L526.84 558.24 L527.38 559.34 L527.92 560.43 L528.45 561.51 L528.99 562.59 L529.53 563.66 L530.07 564.74 L530.60 565.81 L531.14 566.89 L531.68 567.96 L532.22 569.04 L532.75 570.11 L533.29 571.18 L533.83 572.26 L534.37 573.32 L534.92 574.38 L535.48 575.44 L536.03 576.50 L536.59 577.55 L537.14 578.61 L537.68 579.67 L538.20 580.74 L538.72 581.80 L539.21 582.88 L539.67 583.95 L540.09 585.05 L540.50 586.16 L540.89 587.27 L541.28 588.38 L541.67 589.49 L542.07 590.57 L542.49 591.62 L542.95 592.64 L543.44 593.62 L543.92 594.48 L544.41 595.35 L544.93 596.21 L545.46 597.05 L546.00 597.87 L546.55 598.65 L547.11 599.38 L547.68 600.06 L548.25 600.66 L548.82 601.19 L549.24 601.52 L549.66 601.80 L550.10 602.06 L550.54 602.28 L550.98 602.48 L551.42 602.66 L551.85 602.82 L552.27 602.98 L552.67 603.12 L553.06 603.27 L553.33 603.37 L553.59 603.46 L553.85 603.54 L554.10 603.61 L554.35 603.68 L554.59 603.74 L554.83 603.80 L555.08 603.86 L555.32 603.93 L555.57 604.00" fill="none" stroke="#50f0f0" stroke-width="1.30" stroke-linejoin="round" stroke-opacity="0.62"/>
<path d="M440.00 481.90 L440.12 483.44 L440.24 484.97 L440.36 486.48 L440.48 487.99 L440.60 489.50 L440.72 491.03 L440.85 492.57 L440.98 494.15 L441.11 495.76 L441.26 497.41 L441.43 499.42 L441.61 501.48 L441.80 503.58 L441.98 505.73 L442.18 507.90 L442.38 510.09 L442.60 512.30 L442.82 514.51 L443.06 516.71 L443.32 518.90 L443.60 521.18 L443.89 523.51 L444.20 525.87 L444.52 528.24 L444.85 530.61 L445.20 532.95 L445.55 535.26 L445.90 537.50 L446.27 539.66 L446.64 541.73 L446.93 543.31 L447.23 544.84 L447.53 546.32 L447.83 547.76 L448.14 549.17 L448.46 550.57 L448.79 551.95 L449.12 553.34 L449.48 554.73 L449.84 556.14 L450.22 557.55 L450.60 558.96 L450.99 560.37 L451.40 561.77 L451.81 563.17 L452.24 564.57 L452.68 565.95 L453.13 567.33 L453.59 568.70 L454.07 570.06 L454.55 571.39 L455.02 572.73 L455.50 574.07 L455.99 575.41 L456.50 576.73 L457.02 578.03 L457.58 579.31 L458.16 580.55 L458.79 581.74 L459.45 582.88 L460.10 583.87 L460.77 584.84 L461.48 585.78 L462.21 586.70 L462.97 587.58 L463.74 588.43 L464.54 589.26 L465.35 590.05 L466.17 590.82 L467.01 591.55 L467.80 592.20 L468.60 592.82 L469.43 593.41 L470.26 593.98 L471.11 594.52 L471.98 595.03 L472.85 595.53 L473.75 596.01 L474.66 596.47 L475.59 596.92 L476.60 597.38 L477.67 597.82 L478.77 598.23 L479.88 598.63 L481.01 599.00 L482.14 599.36 L483.24 599.69 L484.32 600.01 L485.36 600.31 L486.34 600.58 L487.07 600.78 L487.78 600.96 L488.47 601.13 L489.15 601.29 L489.81 601.43 L490.46 601.57 L491.10 601.69 L491.73 601.81 L492.36 601.93 L492.98 602.05 L493.50 602.14 L494.00 602.22 L494.48 602.30 L494.95 602.37 L495.42 602.44 L495.89 602.50 L496.38 602.57 L496.89 602.64 L497.43 602.71 L498.02 602.78 L498.95 602.89 L499.96 603.01 L501.03 603.13 L502.14 603.26 L503.29 603.38 L504.47 603.50 L505.65 603.63 L506.83 603.75 L507.99 603.88 L509.11 604.00" fill="none" stroke="#5555f0" stroke-width="1.30" stroke-linejoin="round" stroke-opacity="0.62"/>
<path d="M440.00 481.90 L440.07 481.90 L440.14 481.90 L440.20 481.90 L440.27 481.90 L440.34 481.90 L440.40 481.90 L440.47 481.90 L440.54 481.90 L440.61 481.90 L440.69 481.90 L441.00 482.25 L441.34 482.87 L441.71 483.70 L442.09 484.71 L442.49 485.85 L442.90 487.09 L443.30 488.38 L443.70 489.69 L444.09 490.96 L444.46 492.16 L444.90 493.62 L445.34 495.15 L445.76 496.74 L446.18 498.37 L446.59 500.02 L447.01 501.70 L447.42 503.37 L447.84 505.04 L448.26 506.68 L448.70 508.28 L449.12 509.79 L449.54 511.28 L449.96 512.75 L450.39 514.22 L450.82 515.68 L451.25 517.15 L451.69 518.62 L452.13 520.12 L452.58 521.63 L453.04 523.17 L453.56 524.93 L454.10 526.75 L454.64 528.62 L455.19 530.51 L455.74 532.41 L456.30 534.28 L456.86 536.11 L457.43 537.87 L457.98 539.55 L458.54 541.12 L458.94 542.22 L459.33 543.25 L459.72 544.25 L460.10 545.20 L460.49 546.14 L460.88 547.05 L461.29 547.96 L461.72 548.88 L462.17 549.81 L462.66 550.77 L463.21 551.85 L463.79 552.95 L464.38 554.07 L465.00 555.19 L465.63 556.31 L466.29 557.42 L466.97 558.50 L467.68 559.55 L468.42 560.56 L469.18 561.51 L469.93 562.37 L470.71 563.19 L471.52 563.97 L472.35 564.73 L473.21 565.47 L474.08 566.18 L474.96 566.89 L475.85 567.58 L476.75 568.27 L477.65 568.96 L478.59 569.65 L479.57 570.33 L480.58 571.00 L481.60 571.65 L482.63 572.30 L483.64 572.93 L484.64 573.56 L485.60 574.19 L486.52 574.81 L487.37 575.43 L488.01 575.93 L488.61 576.43 L489.19 576.94 L489.75 577.45 L490.29 577.94 L490.82 578.43 L491.35 578.91 L491.88 579.36 L492.42 579.79 L492.98 580.19 L493.48 580.52 L493.98 580.81 L494.48 581.09 L494.97 581.35 L495.48 581.60 L495.98 581.84 L496.48 582.09 L496.99 582.34 L497.50 582.60 L498.02 582.88 L498.57 583.19 L499.12 583.51 L499.67 583.83 L500.22 584.15 L500.78 584.49 L501.34 584.82 L501.92 585.16 L502.51 585.49 L503.11 585.83 L503.74 586.17 L504.52 586.58 L505.35 586.99 L506.20 587.39 L507.08 587.80 L507.97 588.22 L508.86 588.64 L509.75 589.07 L510.63 589.51 L511.49 589.97 L512.32 590.45 L513.10 590.94 L513.86 591.46 L514.59 591.99 L515.32 592.54 L516.04 593.10 L516.77 593.66 L517.50 594.22 L518.26 594.77 L519.05 595.30 L519.87 595.82 L520.86 596.40 L521.89 596.99 L522.96 597.58 L524.05 598.16 L525.16 598.73 L526.28 599.28 L527.39 599.81 L528.49 600.30 L529.58 600.77 L530.63 601.19 L531.51 601.53 L532.37 601.84 L533.23 602.14 L534.08 602.41 L534.92 602.67 L535.76 602.90 L536.61 603.12 L537.46 603.31 L538.33 603.48 L539.21 603.63 L540.13 603.76 L541.07 603.85 L542.01 603.90 L542.96 603.94 L543.92 603.95 L544.88 603.96 L545.84 603.96 L546.80 603.96 L547.75 603.97 L548.71 604.00" fill="none" stroke="#50f050" stroke-width="1.30" stroke-linejoin="round" stroke-opacity="0.62"/>
<path d="M440.00 481.90 L440.06 483.45 L440.12 485.00 L440.18 486.55 L440.23 488.09 L440.29 489.64 L440.35 491.19 L440.42 492.74 L440.49 494.29 L440.58 495.85 L440.69 497.41 L440.81 499.01 L440.94 500.62 L441.08 502.23 L441.23 503.84 L441.40 505.45 L441.56 507.07 L441.74 508.69 L441.92 510.30 L442.10 511.92 L442.29 513.53 L442.47 515.16 L442.64 516.81 L442.82 518.49 L442.99 520.16 L443.18 521.83 L443.38 523.48 L443.60 525.09 L443.85 526.67 L444.14 528.19 L444.46 529.64 L444.77 530.82 L445.12 531.99 L445.50 533.16 L445.90 534.30 L446.31 535.40 L446.72 536.47 L447.13 537.47 L447.53 538.41 L447.90 539.26 L448.24 540.02 L448.41 540.39 L448.57 540.71 L448.72 541.00 L448.87 541.27 L449.01 541.52 L449.16 541.77 L449.32 542.03 L449.48 542.31 L449.65 542.61 L449.84 542.95 L450.18 543.58 L450.53 544.27 L450.91 545.02 L451.32 545.81 L451.74 546.63 L452.17 547.46 L452.63 548.31 L453.10 549.14 L453.58 549.97 L454.07 550.77 L454.63 551.62 L455.21 552.49 L455.81 553.35 L456.42 554.21 L457.06 555.07 L457.71 555.93 L458.38 556.79 L459.06 557.64 L459.77 558.48 L460.48 559.31 L461.27 560.20 L462.10 561.07 L462.95 561.94 L463.82 562.81 L464.71 563.67 L465.60 564.52 L466.50 565.37 L467.40 566.21 L468.30 567.04 L469.18 567.86 L470.02 568.65 L470.85 569.42 L471.69 570.19 L472.52 570.95 L473.35 571.71 L474.19 572.46 L475.04 573.21 L475.90 573.95 L476.76 574.69 L477.65 575.43 L478.59 576.20 L479.57 576.98 L480.58 577.76 L481.60 578.53 L482.62 579.30 L483.63 580.06 L484.62 580.80 L485.59 581.52 L486.51 582.21 L487.37 582.88 L488.00 583.37 L488.60 583.84 L489.17 584.31 L489.73 584.76 L490.28 585.20 L490.82 585.64 L491.36 586.06 L491.89 586.47 L492.43 586.88 L492.98 587.27 L493.48 587.63 L493.98 587.98 L494.48 588.32 L494.97 588.65 L495.47 588.97 L495.96 589.29 L496.46 589.59 L496.97 589.89 L497.49 590.17 L498.02 590.45 L498.56 590.70 L499.09 590.93 L499.63 591.14 L500.18 591.34 L500.73 591.53 L501.30 591.72 L501.88 591.92 L502.48 592.14 L503.10 592.38 L503.74 592.65 L504.68 593.08 L505.68 593.56 L506.72 594.09 L507.79 594.65 L508.89 595.23 L510.01 595.81 L511.14 596.38 L512.27 596.92 L513.39 597.43 L514.49 597.90 L515.54 598.30 L516.59 598.68 L517.62 599.05 L518.66 599.39 L519.70 599.72 L520.76 600.03 L521.84 600.34 L522.94 600.63 L524.08 600.91 L525.25 601.19 L526.74 601.52 L528.33 601.84 L530.00 602.16 L531.70 602.45 L533.42 602.73 L535.13 602.99 L536.80 603.23 L538.40 603.44 L539.90 603.61 L541.27 603.76 L542.12 603.83 L542.93 603.88 L543.70 603.92 L544.44 603.94 L545.16 603.95 L545.86 603.96 L546.56 603.96 L547.26 603.97 L547.98 603.98 L548.71 604.00" fill="none" stroke="#f05050" stroke-width="1.30" stroke-linejoin="round" stroke-opacity="0.62"/>
<path d="M440.00 481.90 L440.01 486.81 L440.01 491.74 L440.02 496.68 L440.02 501.63 L440.03 506.57 L440.03 511.49 L440.04 516.38 L440.05 521.23 L440.05 526.02 L440.06 530.74 L440.05 535.20 L440.02 539.85 L440.00 544.61 L440.00 549.37 L440.00 554.03 L440.00 558.48 L440.00 562.63 L440.00 566.38 L440.00 569.62 L440.11 572.26 L440.17 573.09 L440.22 573.85 L440.26 574.53 L440.31 575.15 L440.37 575.73 L440.44 576.27 L440.52 576.79 L440.63 577.30 L440.76 577.82 L440.92 578.36 L441.08 578.85 L441.25 579.33 L441.43 579.80 L441.63 580.26 L441.85 580.71 L442.08 581.15 L442.35 581.59 L442.64 582.02 L442.96 582.45 L443.32 582.88 L443.86 583.46 L444.46 584.04 L445.12 584.63 L445.83 585.20 L446.58 585.77 L447.38 586.31 L448.21 586.84 L449.07 587.34 L449.96 587.81 L450.87 588.25 L452.07 588.74 L453.37 589.17 L454.74 589.55 L456.18 589.89 L457.64 590.19 L459.13 590.48 L460.61 590.75 L462.07 591.01 L463.48 591.27 L464.83 591.55 L465.97 591.78 L467.10 591.98 L468.23 592.16 L469.34 592.34 L470.44 592.51 L471.51 592.69 L472.57 592.88 L473.60 593.10 L474.61 593.34 L475.59 593.62 L476.39 593.90 L477.16 594.22 L477.90 594.56 L478.62 594.93 L479.32 595.29 L480.03 595.66 L480.74 596.02 L481.47 596.35 L482.23 596.65 L483.03 596.92 L483.96 597.17 L484.96 597.39 L485.99 597.59 L487.04 597.76 L488.10 597.91 L489.15 598.05 L490.18 598.18 L491.17 598.29 L492.11 598.40 L492.98 598.51 L493.54 598.58 L494.05 598.64 L494.52 598.69 L494.97 598.74 L495.42 598.79 L495.87 598.83 L496.34 598.87 L496.85 598.91 L497.40 598.95 L498.02 598.99 L499.26 599.07 L500.64 599.12 L502.14 599.17 L503.73 599.22 L505.41 599.27 L507.16 599.31 L508.96 599.37 L510.79 599.43 L512.64 599.51 L514.49 599.60 L516.96 599.76 L519.61 599.93 L522.39 600.14 L525.26 600.35 L528.16 600.58 L531.03 600.82 L533.83 601.05 L536.51 601.27 L539.00 601.49 L541.27 601.68 L542.66 601.80 L543.98 601.91 L545.25 602.01 L546.47 602.11 L547.65 602.21 L548.79 602.31 L549.89 602.42 L550.97 602.53 L552.02 602.65 L553.06 602.78 L553.84 602.89 L554.59 603.00 L555.32 603.12 L556.03 603.24 L556.72 603.37 L557.40 603.50 L558.08 603.62 L558.76 603.75 L559.45 603.88 L560.15 604.00" fill="none" stroke="#a078c0" stroke-width="1.30" stroke-linejoin="round" stroke-opacity="0.62"/>
<g font-family='"Liberation Serif", serif'><text transform="translate(554.60 490.10) scale(0.1100 0.0930)" font-size="72.00" fill="#202020" stroke="#202020" stroke-width="1.80">PTV</text><text transform="translate(554.60 496.30) scale(0.1100 0.0930)" font-size="72.00" fill="#ff40ff" stroke="#ff40ff" stroke-width="1.80">Brain stem</text><text transform="translate(554.60 502.50) scale(0.1100 0.0930)" font-size="72.00" fill="#40f0f0" stroke="#40f0f0" stroke-width="1.80">Cochlea R</text><text transform="translate(554.60 508.70) scale(0.1100 0.0930)" font-size="72.00" fill="#4040f0" stroke="#4040f0" stroke-width="1.80">Hippoca. R</text><text transform="translate(554.60 514.90) scale(0.1100 0.0930)" font-size="72.00" fill="#40f040" stroke="#40f040" stroke-width="1.80">Middle ear R</text><text transform="translate(554.60 521.10) scale(0.1100 0.0930)" font-size="72.00" fill="#f04040" stroke="#f04040" stroke-width="1.80">Spinal cord</text><text transform="translate(554.60 527.30) scale(0.1100 0.0930)" font-size="72.00" fill="#9060b0" stroke="#9060b0" stroke-width="1.80">Temp. lobe R</text></g>
<g font-family='"Liberation Serif", serif'><text transform="translate(440.00 613.70) scale(1.120 1.000)" text-anchor="middle" font-size="9.00" fill="#525252" stroke="#525252" stroke-width="0.20">0</text><text transform="translate(462.89 613.70) scale(1.120 1.000)" text-anchor="middle" font-size="9.00" fill="#525252" stroke="#525252" stroke-width="0.20">20</text><text transform="translate(485.77 613.70) scale(1.120 1.000)" text-anchor="middle" font-size="9.00" fill="#525252" stroke="#525252" stroke-width="0.20">40</text><text transform="translate(508.66 613.70) scale(1.120 1.000)" text-anchor="middle" font-size="9.00" fill="#525252" stroke="#525252" stroke-width="0.20">60</text><text transform="translate(531.54 613.70) scale(1.120 1.000)" text-anchor="middle" font-size="9.00" fill="#525252" stroke="#525252" stroke-width="0.20">80</text><text transform="translate(554.43 613.70) scale(1.120 1.000)" text-anchor="middle" font-size="9.00" fill="#525252" stroke="#525252" stroke-width="0.20">100</text><text transform="translate(577.31 613.70) scale(1.120 1.000)" text-anchor="middle" font-size="9.00" fill="#525252" stroke="#525252" stroke-width="0.20">120</text><text transform="translate(438.10 607.00) scale(1.080 1.000)" text-anchor="end" font-size="9.00" fill="#525252" stroke="#525252" stroke-width="0.20">0</text><text transform="translate(438.10 582.58) scale(1.080 1.000)" text-anchor="end" font-size="9.00" fill="#525252" stroke="#525252" stroke-width="0.20">20</text><text transform="translate(438.10 558.16) scale(1.080 1.000)" text-anchor="end" font-size="9.00" fill="#525252" stroke="#525252" stroke-width="0.20">40</text><text transform="translate(438.10 533.74) scale(1.080 1.000)" text-anchor="end" font-size="9.00" fill="#525252" stroke="#525252" stroke-width="0.20">60</text><text transform="translate(438.10 509.32) scale(1.080 1.000)" text-anchor="end" font-size="9.00" fill="#525252" stroke="#525252" stroke-width="0.20">80</text><text transform="translate(438.10 484.90) scale(1.080 1.000)" text-anchor="end" font-size="9.00" fill="#525252" stroke="#525252" stroke-width="0.20">100</text><text transform="translate(520.10 622.50)" text-anchor="middle" font-size="8.80" fill="#525252" stroke="#525252" stroke-width="0.25">Dose [%]</text><text transform="translate(422.20 539.90) rotate(-90) scale(1.035 1.000)" text-anchor="middle" font-size="8.60" fill="#525252" stroke="#525252" stroke-width="0.25">Volume [%]</text><path d="M445.20 491.40 H450.20" stroke="#505050" stroke-width="0.6"/><rect x="445.40" y="500.40" width="1" height="1" fill="#606060"/><rect x="447.20" y="500.40" width="1" height="1" fill="#606060"/><rect x="449.00" y="500.40" width="1" height="1" fill="#606060"/><text transform="translate(451.00 493.80) scale(1.050 1.000)" font-size="7.60" fill="#262626" stroke="#262626" stroke-width="0.22">MC</text><text transform="translate(450.90 503.70) scale(1.050 1.000)" font-size="7.60" fill="#262626" stroke="#262626" stroke-width="0.22">A</text></g>
</svg></body></html>
